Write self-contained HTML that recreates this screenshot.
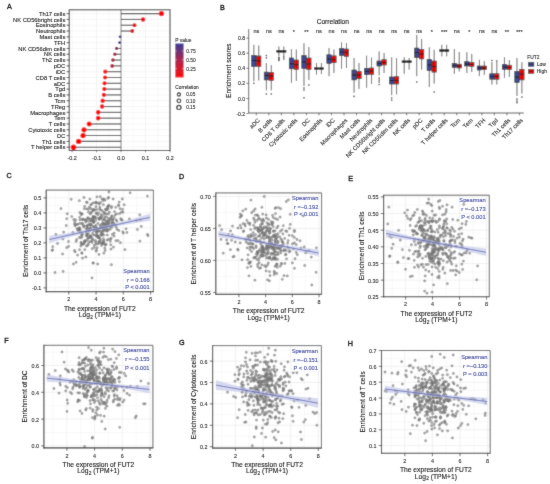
<!DOCTYPE html>
<html><head><meta charset="utf-8"><style>
html,body{margin:0;padding:0;background:#fff;}
svg{display:block;font-family:"Liberation Sans", sans-serif;}
</style></head><body>
<svg width="550" height="484" viewBox="0 0 550 484">
<defs><filter id="bt" filterUnits="userSpaceOnUse" x="0" y="0" width="550" height="484"><feConvolveMatrix order="3" kernelMatrix="0.01 0.05 0.01 0.05 0.76 0.05 0.01 0.05 0.01" edgeMode="none"/></filter><filter id="bl" filterUnits="userSpaceOnUse" x="0" y="0" width="550" height="484"><feConvolveMatrix order="3" kernelMatrix="0.025 0.085 0.025 0.085 0.56 0.085 0.025 0.085 0.025" edgeMode="none"/></filter></defs>
<g filter="url(#bl)">
<rect width="550" height="484" fill="#fff"/>
<rect x="69.20" y="9.80" width="100.80" height="140.70" fill="#ffffff" stroke="none" stroke-width="0.6" />
<line x1="72.00" y1="9.80" x2="72.00" y2="150.50" stroke="#e8e8e8" stroke-width="0.5" />
<line x1="84.25" y1="9.80" x2="84.25" y2="150.50" stroke="#f2f2f2" stroke-width="0.5" />
<line x1="96.50" y1="9.80" x2="96.50" y2="150.50" stroke="#e8e8e8" stroke-width="0.5" />
<line x1="108.75" y1="9.80" x2="108.75" y2="150.50" stroke="#f2f2f2" stroke-width="0.5" />
<line x1="133.25" y1="9.80" x2="133.25" y2="150.50" stroke="#f2f2f2" stroke-width="0.5" />
<line x1="145.50" y1="9.80" x2="145.50" y2="150.50" stroke="#e8e8e8" stroke-width="0.5" />
<line x1="157.75" y1="9.80" x2="157.75" y2="150.50" stroke="#f2f2f2" stroke-width="0.5" />
<line x1="69.20" y1="13.60" x2="170.00" y2="13.60" stroke="#ececec" stroke-width="0.5" />
<line x1="69.20" y1="19.41" x2="170.00" y2="19.41" stroke="#ececec" stroke-width="0.5" />
<line x1="69.20" y1="25.22" x2="170.00" y2="25.22" stroke="#ececec" stroke-width="0.5" />
<line x1="69.20" y1="31.03" x2="170.00" y2="31.03" stroke="#ececec" stroke-width="0.5" />
<line x1="69.20" y1="36.83" x2="170.00" y2="36.83" stroke="#ececec" stroke-width="0.5" />
<line x1="69.20" y1="42.64" x2="170.00" y2="42.64" stroke="#ececec" stroke-width="0.5" />
<line x1="69.20" y1="48.45" x2="170.00" y2="48.45" stroke="#ececec" stroke-width="0.5" />
<line x1="69.20" y1="54.26" x2="170.00" y2="54.26" stroke="#ececec" stroke-width="0.5" />
<line x1="69.20" y1="60.07" x2="170.00" y2="60.07" stroke="#ececec" stroke-width="0.5" />
<line x1="69.20" y1="65.88" x2="170.00" y2="65.88" stroke="#ececec" stroke-width="0.5" />
<line x1="69.20" y1="71.69" x2="170.00" y2="71.69" stroke="#ececec" stroke-width="0.5" />
<line x1="69.20" y1="77.50" x2="170.00" y2="77.50" stroke="#ececec" stroke-width="0.5" />
<line x1="69.20" y1="83.30" x2="170.00" y2="83.30" stroke="#ececec" stroke-width="0.5" />
<line x1="69.20" y1="89.11" x2="170.00" y2="89.11" stroke="#ececec" stroke-width="0.5" />
<line x1="69.20" y1="94.92" x2="170.00" y2="94.92" stroke="#ececec" stroke-width="0.5" />
<line x1="69.20" y1="100.73" x2="170.00" y2="100.73" stroke="#ececec" stroke-width="0.5" />
<line x1="69.20" y1="106.54" x2="170.00" y2="106.54" stroke="#ececec" stroke-width="0.5" />
<line x1="69.20" y1="112.35" x2="170.00" y2="112.35" stroke="#ececec" stroke-width="0.5" />
<line x1="69.20" y1="118.16" x2="170.00" y2="118.16" stroke="#ececec" stroke-width="0.5" />
<line x1="69.20" y1="123.97" x2="170.00" y2="123.97" stroke="#ececec" stroke-width="0.5" />
<line x1="69.20" y1="129.77" x2="170.00" y2="129.77" stroke="#ececec" stroke-width="0.5" />
<line x1="69.20" y1="135.58" x2="170.00" y2="135.58" stroke="#ececec" stroke-width="0.5" />
<line x1="69.20" y1="141.39" x2="170.00" y2="141.39" stroke="#ececec" stroke-width="0.5" />
<line x1="69.20" y1="147.20" x2="170.00" y2="147.20" stroke="#ececec" stroke-width="0.5" />
<line x1="121.00" y1="9.80" x2="121.00" y2="150.50" stroke="#777" stroke-width="0.9" />
<line x1="121.00" y1="13.60" x2="161.43" y2="13.60" stroke="#444" stroke-width="1.05" />
<line x1="121.00" y1="19.41" x2="143.05" y2="19.41" stroke="#444" stroke-width="1.05" />
<line x1="121.00" y1="25.22" x2="134.47" y2="25.22" stroke="#444" stroke-width="1.05" />
<line x1="121.00" y1="31.03" x2="132.27" y2="31.03" stroke="#444" stroke-width="1.05" />
<line x1="121.00" y1="36.83" x2="120.02" y2="36.83" stroke="#444" stroke-width="1.05" />
<line x1="121.00" y1="42.64" x2="119.53" y2="42.64" stroke="#444" stroke-width="1.05" />
<line x1="121.00" y1="48.45" x2="116.59" y2="48.45" stroke="#444" stroke-width="1.05" />
<line x1="121.00" y1="54.26" x2="114.88" y2="54.26" stroke="#444" stroke-width="1.05" />
<line x1="121.00" y1="60.07" x2="112.91" y2="60.07" stroke="#444" stroke-width="1.05" />
<line x1="121.00" y1="65.88" x2="112.18" y2="65.88" stroke="#444" stroke-width="1.05" />
<line x1="121.00" y1="71.69" x2="105.32" y2="71.69" stroke="#444" stroke-width="1.05" />
<line x1="121.00" y1="77.50" x2="105.08" y2="77.50" stroke="#444" stroke-width="1.05" />
<line x1="121.00" y1="83.30" x2="104.58" y2="83.30" stroke="#444" stroke-width="1.05" />
<line x1="121.00" y1="89.11" x2="104.34" y2="89.11" stroke="#444" stroke-width="1.05" />
<line x1="121.00" y1="94.92" x2="103.85" y2="94.92" stroke="#444" stroke-width="1.05" />
<line x1="121.00" y1="100.73" x2="102.62" y2="100.73" stroke="#444" stroke-width="1.05" />
<line x1="121.00" y1="106.54" x2="102.14" y2="106.54" stroke="#444" stroke-width="1.05" />
<line x1="121.00" y1="112.35" x2="98.22" y2="112.35" stroke="#444" stroke-width="1.05" />
<line x1="121.00" y1="118.16" x2="98.22" y2="118.16" stroke="#444" stroke-width="1.05" />
<line x1="121.00" y1="123.97" x2="89.15" y2="123.97" stroke="#444" stroke-width="1.05" />
<line x1="121.00" y1="129.77" x2="84.00" y2="129.77" stroke="#444" stroke-width="1.05" />
<line x1="121.00" y1="135.58" x2="83.03" y2="135.58" stroke="#444" stroke-width="1.05" />
<line x1="121.00" y1="141.39" x2="78.62" y2="141.39" stroke="#444" stroke-width="1.05" />
<line x1="121.00" y1="147.20" x2="73.47" y2="147.20" stroke="#444" stroke-width="1.05" />
<circle cx="161.43" cy="13.60" r="2.68" fill="#ff0505" stroke="none" stroke-width="0.4" />
<line x1="66.60" y1="13.60" x2="69.20" y2="13.60" stroke="#222" stroke-width="0.8" />
<circle cx="143.05" cy="19.41" r="2.27" fill="#fb0607" stroke="none" stroke-width="0.4" />
<line x1="66.60" y1="19.41" x2="69.20" y2="19.41" stroke="#222" stroke-width="0.8" />
<circle cx="134.47" cy="25.22" r="2.01" fill="#e70b15" stroke="none" stroke-width="0.4" />
<line x1="66.60" y1="25.22" x2="69.20" y2="25.22" stroke="#222" stroke-width="0.8" />
<circle cx="132.27" cy="31.03" r="1.94" fill="#df0d1b" stroke="none" stroke-width="0.4" />
<line x1="66.60" y1="31.03" x2="69.20" y2="31.03" stroke="#222" stroke-width="0.8" />
<circle cx="120.02" cy="36.83" r="1.35" fill="#3d358c" stroke="none" stroke-width="0.4" />
<line x1="66.60" y1="36.83" x2="69.20" y2="36.83" stroke="#222" stroke-width="0.8" />
<circle cx="119.53" cy="42.64" r="1.40" fill="#41348a" stroke="none" stroke-width="0.4" />
<line x1="66.60" y1="42.64" x2="69.20" y2="42.64" stroke="#222" stroke-width="0.8" />
<circle cx="116.59" cy="48.45" r="1.62" fill="#83245b" stroke="none" stroke-width="0.4" />
<line x1="66.60" y1="48.45" x2="69.20" y2="48.45" stroke="#222" stroke-width="0.8" />
<circle cx="114.88" cy="54.26" r="1.72" fill="#9b1e4b" stroke="none" stroke-width="0.4" />
<line x1="66.60" y1="54.26" x2="69.20" y2="54.26" stroke="#222" stroke-width="0.8" />
<circle cx="112.91" cy="60.07" r="1.81" fill="#ab1a3f" stroke="none" stroke-width="0.4" />
<line x1="66.60" y1="60.07" x2="69.20" y2="60.07" stroke="#222" stroke-width="0.8" />
<circle cx="112.18" cy="65.88" r="1.84" fill="#af193d" stroke="none" stroke-width="0.4" />
<line x1="66.60" y1="65.88" x2="69.20" y2="65.88" stroke="#222" stroke-width="0.8" />
<circle cx="105.32" cy="71.69" r="2.09" fill="#f5070c" stroke="none" stroke-width="0.4" />
<line x1="66.60" y1="71.69" x2="69.20" y2="71.69" stroke="#222" stroke-width="0.8" />
<circle cx="105.08" cy="77.50" r="2.09" fill="#f5070c" stroke="none" stroke-width="0.4" />
<line x1="66.60" y1="77.50" x2="69.20" y2="77.50" stroke="#222" stroke-width="0.8" />
<circle cx="104.58" cy="83.30" r="2.11" fill="#f5070c" stroke="none" stroke-width="0.4" />
<line x1="66.60" y1="83.30" x2="69.20" y2="83.30" stroke="#222" stroke-width="0.8" />
<circle cx="104.34" cy="89.11" r="2.12" fill="#f5070c" stroke="none" stroke-width="0.4" />
<line x1="66.60" y1="89.11" x2="69.20" y2="89.11" stroke="#222" stroke-width="0.8" />
<circle cx="103.85" cy="94.92" r="2.13" fill="#f7070a" stroke="none" stroke-width="0.4" />
<line x1="66.60" y1="94.92" x2="69.20" y2="94.92" stroke="#222" stroke-width="0.8" />
<circle cx="102.62" cy="100.73" r="2.17" fill="#f7070a" stroke="none" stroke-width="0.4" />
<line x1="66.60" y1="100.73" x2="69.20" y2="100.73" stroke="#222" stroke-width="0.8" />
<circle cx="102.14" cy="106.54" r="2.18" fill="#f7070a" stroke="none" stroke-width="0.4" />
<line x1="66.60" y1="106.54" x2="69.20" y2="106.54" stroke="#222" stroke-width="0.8" />
<circle cx="98.22" cy="112.35" r="2.29" fill="#fb0607" stroke="none" stroke-width="0.4" />
<line x1="66.60" y1="112.35" x2="69.20" y2="112.35" stroke="#222" stroke-width="0.8" />
<circle cx="98.22" cy="118.16" r="2.29" fill="#fb0607" stroke="none" stroke-width="0.4" />
<line x1="66.60" y1="118.16" x2="69.20" y2="118.16" stroke="#222" stroke-width="0.8" />
<circle cx="89.15" cy="123.97" r="2.51" fill="#ff0505" stroke="none" stroke-width="0.4" />
<line x1="66.60" y1="123.97" x2="69.20" y2="123.97" stroke="#222" stroke-width="0.8" />
<circle cx="84.00" cy="129.77" r="2.62" fill="#ff0505" stroke="none" stroke-width="0.4" />
<line x1="66.60" y1="129.77" x2="69.20" y2="129.77" stroke="#222" stroke-width="0.8" />
<circle cx="83.03" cy="135.58" r="2.64" fill="#ff0505" stroke="none" stroke-width="0.4" />
<line x1="66.60" y1="135.58" x2="69.20" y2="135.58" stroke="#222" stroke-width="0.8" />
<circle cx="78.62" cy="141.39" r="2.72" fill="#ff0505" stroke="none" stroke-width="0.4" />
<line x1="66.60" y1="141.39" x2="69.20" y2="141.39" stroke="#222" stroke-width="0.8" />
<circle cx="73.47" cy="147.20" r="2.82" fill="#ff0505" stroke="none" stroke-width="0.4" />
<line x1="66.60" y1="147.20" x2="69.20" y2="147.20" stroke="#222" stroke-width="0.8" />
<rect x="69.20" y="9.80" width="100.80" height="140.70" fill="none" stroke="#333" stroke-width="1.0" />
<line x1="72.00" y1="150.50" x2="72.00" y2="152.30" stroke="#333" stroke-width="0.6" />
<line x1="96.50" y1="150.50" x2="96.50" y2="152.30" stroke="#333" stroke-width="0.6" />
<line x1="121.00" y1="150.50" x2="121.00" y2="152.30" stroke="#333" stroke-width="0.6" />
<line x1="145.50" y1="150.50" x2="145.50" y2="152.30" stroke="#333" stroke-width="0.6" />
<line x1="170.00" y1="150.50" x2="170.00" y2="152.30" stroke="#333" stroke-width="0.6" />
<defs><linearGradient id="pg" x1="0" y1="1" x2="0" y2="0"><stop offset="0" stop-color="#ff0a0a"/><stop offset="0.5" stop-color="#b02550"/><stop offset="1" stop-color="#3a3c98"/></linearGradient></defs>
<rect x="175.30" y="43.50" width="8.30" height="34.00" fill="url(#pg)" stroke="none" stroke-width="0.6" />
<line x1="175.30" y1="51.03" x2="176.80" y2="51.03" stroke="#fff" stroke-width="0.5" />
<line x1="182.10" y1="51.03" x2="183.60" y2="51.03" stroke="#fff" stroke-width="0.5" />
<line x1="175.30" y1="59.85" x2="176.80" y2="59.85" stroke="#fff" stroke-width="0.5" />
<line x1="182.10" y1="59.85" x2="183.60" y2="59.85" stroke="#fff" stroke-width="0.5" />
<line x1="175.30" y1="68.67" x2="176.80" y2="68.67" stroke="#fff" stroke-width="0.5" />
<line x1="182.10" y1="68.67" x2="183.60" y2="68.67" stroke="#fff" stroke-width="0.5" />
<circle cx="178.90" cy="94.40" r="1.60" fill="none" stroke="#111" stroke-width="1.15" />
<circle cx="178.90" cy="100.80" r="1.85" fill="none" stroke="#111" stroke-width="1.15" />
<circle cx="178.90" cy="107.40" r="2.10" fill="none" stroke="#111" stroke-width="1.15" />
<line x1="248.70" y1="29.00" x2="248.70" y2="113.00" stroke="#333" stroke-width="0.8" />
<line x1="248.70" y1="113.00" x2="523.80" y2="113.00" stroke="#333" stroke-width="0.8" />
<line x1="246.40" y1="38.10" x2="248.70" y2="38.10" stroke="#333" stroke-width="0.7" />
<line x1="246.40" y1="53.20" x2="248.70" y2="53.20" stroke="#333" stroke-width="0.7" />
<line x1="246.40" y1="68.30" x2="248.70" y2="68.30" stroke="#333" stroke-width="0.7" />
<line x1="246.40" y1="83.40" x2="248.70" y2="83.40" stroke="#333" stroke-width="0.7" />
<line x1="246.40" y1="98.50" x2="248.70" y2="98.50" stroke="#333" stroke-width="0.7" />
<line x1="246.40" y1="113.60" x2="248.70" y2="113.60" stroke="#333" stroke-width="0.7" />
<line x1="253.85" y1="44.80" x2="253.85" y2="55.60" stroke="#4a4a4a" stroke-width="0.85" />
<line x1="253.85" y1="66.30" x2="253.85" y2="81.20" stroke="#4a4a4a" stroke-width="0.85" />
<rect x="251.65" y="55.60" width="4.40" height="10.70" fill="#3b4992" stroke="#222" stroke-width="0.6" />
<line x1="251.65" y1="60.50" x2="256.05" y2="60.50" stroke="#1a1a1a" stroke-width="0.9" />
<circle cx="253.85" cy="83.20" r="0.80" fill="#222" stroke="none" stroke-width="0.4" />
<line x1="258.75" y1="45.50" x2="258.75" y2="56.00" stroke="#4a4a4a" stroke-width="0.85" />
<line x1="258.75" y1="66.30" x2="258.75" y2="80.50" stroke="#4a4a4a" stroke-width="0.85" />
<rect x="256.55" y="56.00" width="4.40" height="10.30" fill="#ee0000" stroke="#222" stroke-width="0.6" />
<line x1="256.55" y1="60.80" x2="260.95" y2="60.80" stroke="#1a1a1a" stroke-width="0.9" />
<line x1="256.30" y1="113.00" x2="256.30" y2="115.30" stroke="#333" stroke-width="0.7" />
<line x1="266.38" y1="63.00" x2="266.38" y2="72.10" stroke="#4a4a4a" stroke-width="0.85" />
<line x1="266.38" y1="79.90" x2="266.38" y2="90.30" stroke="#4a4a4a" stroke-width="0.85" />
<rect x="264.18" y="72.10" width="4.40" height="7.80" fill="#3b4992" stroke="#222" stroke-width="0.6" />
<line x1="264.18" y1="75.40" x2="268.58" y2="75.40" stroke="#1a1a1a" stroke-width="0.9" />
<circle cx="266.38" cy="55.60" r="0.80" fill="#222" stroke="none" stroke-width="0.4" />
<circle cx="266.38" cy="58.00" r="0.80" fill="#222" stroke="none" stroke-width="0.4" />
<circle cx="266.38" cy="94.00" r="0.80" fill="#222" stroke="none" stroke-width="0.4" />
<line x1="271.28" y1="65.00" x2="271.28" y2="72.50" stroke="#4a4a4a" stroke-width="0.85" />
<line x1="271.28" y1="80.30" x2="271.28" y2="90.30" stroke="#4a4a4a" stroke-width="0.85" />
<rect x="269.08" y="72.50" width="4.40" height="7.80" fill="#ee0000" stroke="#222" stroke-width="0.6" />
<line x1="269.08" y1="76.00" x2="273.48" y2="76.00" stroke="#1a1a1a" stroke-width="0.9" />
<circle cx="271.28" cy="94.00" r="0.80" fill="#222" stroke="none" stroke-width="0.4" />
<line x1="268.83" y1="113.00" x2="268.83" y2="115.30" stroke="#333" stroke-width="0.7" />
<line x1="278.91" y1="46.50" x2="278.91" y2="50.40" stroke="#4a4a4a" stroke-width="0.85" />
<line x1="278.91" y1="52.20" x2="278.91" y2="56.40" stroke="#4a4a4a" stroke-width="0.85" />
<rect x="276.71" y="50.40" width="4.40" height="1.80" fill="#222" stroke="#222" stroke-width="0.6" />
<line x1="276.71" y1="51.30" x2="281.11" y2="51.30" stroke="#1a1a1a" stroke-width="0.9" />
<circle cx="278.91" cy="57.50" r="0.80" fill="#222" stroke="none" stroke-width="0.4" />
<circle cx="278.91" cy="58.50" r="0.80" fill="#222" stroke="none" stroke-width="0.4" />
<circle cx="278.91" cy="59.50" r="0.80" fill="#222" stroke="none" stroke-width="0.4" />
<circle cx="278.91" cy="60.50" r="0.80" fill="#222" stroke="none" stroke-width="0.4" />
<line x1="283.81" y1="46.50" x2="283.81" y2="50.40" stroke="#4a4a4a" stroke-width="0.85" />
<line x1="283.81" y1="52.20" x2="283.81" y2="56.40" stroke="#4a4a4a" stroke-width="0.85" />
<rect x="281.61" y="50.40" width="4.40" height="1.80" fill="#222" stroke="#222" stroke-width="0.6" />
<line x1="281.61" y1="51.30" x2="286.01" y2="51.30" stroke="#1a1a1a" stroke-width="0.9" />
<circle cx="283.81" cy="57.00" r="0.80" fill="#222" stroke="none" stroke-width="0.4" />
<circle cx="283.81" cy="59.00" r="0.80" fill="#222" stroke="none" stroke-width="0.4" />
<line x1="281.36" y1="113.00" x2="281.36" y2="115.30" stroke="#333" stroke-width="0.7" />
<line x1="291.44" y1="49.00" x2="291.44" y2="58.00" stroke="#4a4a4a" stroke-width="0.85" />
<line x1="291.44" y1="68.80" x2="291.44" y2="82.90" stroke="#4a4a4a" stroke-width="0.85" />
<rect x="289.24" y="58.00" width="4.40" height="10.80" fill="#3b4992" stroke="#222" stroke-width="0.6" />
<line x1="289.24" y1="63.80" x2="293.64" y2="63.80" stroke="#1a1a1a" stroke-width="0.9" />
<line x1="296.34" y1="49.50" x2="296.34" y2="60.00" stroke="#4a4a4a" stroke-width="0.85" />
<line x1="296.34" y1="69.30" x2="296.34" y2="81.00" stroke="#4a4a4a" stroke-width="0.85" />
<rect x="294.14" y="60.00" width="4.40" height="9.30" fill="#ee0000" stroke="#222" stroke-width="0.6" />
<line x1="294.14" y1="64.70" x2="298.54" y2="64.70" stroke="#1a1a1a" stroke-width="0.9" />
<line x1="293.89" y1="113.00" x2="293.89" y2="115.30" stroke="#333" stroke-width="0.7" />
<line x1="303.97" y1="43.20" x2="303.97" y2="55.60" stroke="#4a4a4a" stroke-width="0.85" />
<line x1="303.97" y1="68.30" x2="303.97" y2="86.00" stroke="#4a4a4a" stroke-width="0.85" />
<rect x="301.77" y="55.60" width="4.40" height="12.70" fill="#3b4992" stroke="#222" stroke-width="0.6" />
<line x1="301.77" y1="62.00" x2="306.17" y2="62.00" stroke="#1a1a1a" stroke-width="0.9" />
<circle cx="303.97" cy="88.00" r="0.80" fill="#222" stroke="none" stroke-width="0.4" />
<circle cx="303.97" cy="90.00" r="0.80" fill="#222" stroke="none" stroke-width="0.4" />
<circle cx="303.97" cy="97.70" r="0.80" fill="#222" stroke="none" stroke-width="0.4" />
<line x1="308.87" y1="47.00" x2="308.87" y2="58.00" stroke="#4a4a4a" stroke-width="0.85" />
<line x1="308.87" y1="69.30" x2="308.87" y2="80.00" stroke="#4a4a4a" stroke-width="0.85" />
<rect x="306.67" y="58.00" width="4.40" height="11.30" fill="#ee0000" stroke="#222" stroke-width="0.6" />
<line x1="306.67" y1="64.00" x2="311.07" y2="64.00" stroke="#1a1a1a" stroke-width="0.9" />
<circle cx="308.87" cy="85.00" r="0.80" fill="#222" stroke="none" stroke-width="0.4" />
<line x1="306.42" y1="113.00" x2="306.42" y2="115.30" stroke="#333" stroke-width="0.7" />
<line x1="316.50" y1="63.00" x2="316.50" y2="67.70" stroke="#4a4a4a" stroke-width="0.85" />
<line x1="316.50" y1="69.30" x2="316.50" y2="74.60" stroke="#4a4a4a" stroke-width="0.85" />
<rect x="314.30" y="67.70" width="4.40" height="1.60" fill="#222" stroke="#222" stroke-width="0.6" />
<line x1="314.30" y1="68.50" x2="318.70" y2="68.50" stroke="#1a1a1a" stroke-width="0.9" />
<line x1="321.40" y1="63.00" x2="321.40" y2="67.70" stroke="#4a4a4a" stroke-width="0.85" />
<line x1="321.40" y1="69.30" x2="321.40" y2="74.00" stroke="#4a4a4a" stroke-width="0.85" />
<rect x="319.20" y="67.70" width="4.40" height="1.60" fill="#222" stroke="#222" stroke-width="0.6" />
<line x1="319.20" y1="68.50" x2="323.60" y2="68.50" stroke="#1a1a1a" stroke-width="0.9" />
<line x1="318.95" y1="113.00" x2="318.95" y2="115.30" stroke="#333" stroke-width="0.7" />
<line x1="329.03" y1="48.00" x2="329.03" y2="54.80" stroke="#4a4a4a" stroke-width="0.85" />
<line x1="329.03" y1="63.30" x2="329.03" y2="76.20" stroke="#4a4a4a" stroke-width="0.85" />
<rect x="326.83" y="54.80" width="4.40" height="8.50" fill="#3b4992" stroke="#222" stroke-width="0.6" />
<line x1="326.83" y1="59.00" x2="331.23" y2="59.00" stroke="#1a1a1a" stroke-width="0.9" />
<line x1="333.93" y1="49.50" x2="333.93" y2="55.90" stroke="#4a4a4a" stroke-width="0.85" />
<line x1="333.93" y1="62.70" x2="333.93" y2="73.00" stroke="#4a4a4a" stroke-width="0.85" />
<rect x="331.73" y="55.90" width="4.40" height="6.80" fill="#ee0000" stroke="#222" stroke-width="0.6" />
<line x1="331.73" y1="59.50" x2="336.13" y2="59.50" stroke="#1a1a1a" stroke-width="0.9" />
<line x1="331.48" y1="113.00" x2="331.48" y2="115.30" stroke="#333" stroke-width="0.7" />
<line x1="341.56" y1="42.40" x2="341.56" y2="48.60" stroke="#4a4a4a" stroke-width="0.85" />
<line x1="341.56" y1="55.60" x2="341.56" y2="68.80" stroke="#4a4a4a" stroke-width="0.85" />
<rect x="339.36" y="48.60" width="4.40" height="7.00" fill="#3b4992" stroke="#222" stroke-width="0.6" />
<line x1="339.36" y1="52.00" x2="343.76" y2="52.00" stroke="#1a1a1a" stroke-width="0.9" />
<line x1="346.46" y1="43.00" x2="346.46" y2="49.00" stroke="#4a4a4a" stroke-width="0.85" />
<line x1="346.46" y1="56.40" x2="346.46" y2="68.00" stroke="#4a4a4a" stroke-width="0.85" />
<rect x="344.26" y="49.00" width="4.40" height="7.40" fill="#ee0000" stroke="#222" stroke-width="0.6" />
<line x1="344.26" y1="52.50" x2="348.66" y2="52.50" stroke="#1a1a1a" stroke-width="0.9" />
<line x1="344.01" y1="113.00" x2="344.01" y2="115.30" stroke="#333" stroke-width="0.7" />
<line x1="354.09" y1="58.00" x2="354.09" y2="70.00" stroke="#4a4a4a" stroke-width="0.85" />
<line x1="354.09" y1="79.90" x2="354.09" y2="92.80" stroke="#4a4a4a" stroke-width="0.85" />
<rect x="351.89" y="70.00" width="4.40" height="9.90" fill="#3b4992" stroke="#222" stroke-width="0.6" />
<line x1="351.89" y1="75.00" x2="356.29" y2="75.00" stroke="#1a1a1a" stroke-width="0.9" />
<circle cx="354.09" cy="96.40" r="0.80" fill="#222" stroke="none" stroke-width="0.4" />
<line x1="358.99" y1="63.00" x2="358.99" y2="71.60" stroke="#4a4a4a" stroke-width="0.85" />
<line x1="358.99" y1="78.70" x2="358.99" y2="89.00" stroke="#4a4a4a" stroke-width="0.85" />
<rect x="356.79" y="71.60" width="4.40" height="7.10" fill="#ee0000" stroke="#222" stroke-width="0.6" />
<line x1="356.79" y1="75.00" x2="361.19" y2="75.00" stroke="#1a1a1a" stroke-width="0.9" />
<line x1="356.54" y1="113.00" x2="356.54" y2="115.30" stroke="#333" stroke-width="0.7" />
<line x1="366.62" y1="55.60" x2="366.62" y2="68.30" stroke="#4a4a4a" stroke-width="0.85" />
<line x1="366.62" y1="74.60" x2="366.62" y2="87.80" stroke="#4a4a4a" stroke-width="0.85" />
<rect x="364.42" y="68.30" width="4.40" height="6.30" fill="#3b4992" stroke="#222" stroke-width="0.6" />
<line x1="364.42" y1="71.50" x2="368.82" y2="71.50" stroke="#1a1a1a" stroke-width="0.9" />
<line x1="371.52" y1="57.50" x2="371.52" y2="68.00" stroke="#4a4a4a" stroke-width="0.85" />
<line x1="371.52" y1="74.30" x2="371.52" y2="84.00" stroke="#4a4a4a" stroke-width="0.85" />
<rect x="369.32" y="68.00" width="4.40" height="6.30" fill="#ee0000" stroke="#222" stroke-width="0.6" />
<line x1="369.32" y1="71.00" x2="373.72" y2="71.00" stroke="#1a1a1a" stroke-width="0.9" />
<line x1="369.07" y1="113.00" x2="369.07" y2="115.30" stroke="#333" stroke-width="0.7" />
<line x1="379.15" y1="51.40" x2="379.15" y2="61.00" stroke="#4a4a4a" stroke-width="0.85" />
<line x1="379.15" y1="66.00" x2="379.15" y2="75.40" stroke="#4a4a4a" stroke-width="0.85" />
<rect x="376.95" y="61.00" width="4.40" height="5.00" fill="#3b4992" stroke="#222" stroke-width="0.6" />
<line x1="376.95" y1="63.50" x2="381.35" y2="63.50" stroke="#1a1a1a" stroke-width="0.9" />
<circle cx="379.15" cy="78.00" r="0.80" fill="#222" stroke="none" stroke-width="0.4" />
<circle cx="379.15" cy="80.00" r="0.80" fill="#222" stroke="none" stroke-width="0.4" />
<circle cx="379.15" cy="82.00" r="0.80" fill="#222" stroke="none" stroke-width="0.4" />
<circle cx="379.15" cy="84.50" r="0.80" fill="#222" stroke="none" stroke-width="0.4" />
<line x1="384.05" y1="53.00" x2="384.05" y2="59.70" stroke="#4a4a4a" stroke-width="0.85" />
<line x1="384.05" y1="65.00" x2="384.05" y2="73.00" stroke="#4a4a4a" stroke-width="0.85" />
<rect x="381.85" y="59.70" width="4.40" height="5.30" fill="#ee0000" stroke="#222" stroke-width="0.6" />
<line x1="381.85" y1="62.50" x2="386.25" y2="62.50" stroke="#1a1a1a" stroke-width="0.9" />
<line x1="381.60" y1="113.00" x2="381.60" y2="115.30" stroke="#333" stroke-width="0.7" />
<line x1="391.68" y1="57.20" x2="391.68" y2="77.00" stroke="#4a4a4a" stroke-width="0.85" />
<line x1="391.68" y1="84.00" x2="391.68" y2="95.20" stroke="#4a4a4a" stroke-width="0.85" />
<rect x="389.48" y="77.00" width="4.40" height="7.00" fill="#3b4992" stroke="#222" stroke-width="0.6" />
<line x1="389.48" y1="80.50" x2="393.88" y2="80.50" stroke="#1a1a1a" stroke-width="0.9" />
<circle cx="391.68" cy="98.00" r="0.80" fill="#222" stroke="none" stroke-width="0.4" />
<circle cx="391.68" cy="100.20" r="0.80" fill="#222" stroke="none" stroke-width="0.4" />
<line x1="396.58" y1="58.00" x2="396.58" y2="76.70" stroke="#4a4a4a" stroke-width="0.85" />
<line x1="396.58" y1="84.00" x2="396.58" y2="94.50" stroke="#4a4a4a" stroke-width="0.85" />
<rect x="394.38" y="76.70" width="4.40" height="7.30" fill="#ee0000" stroke="#222" stroke-width="0.6" />
<line x1="394.38" y1="80.50" x2="398.78" y2="80.50" stroke="#1a1a1a" stroke-width="0.9" />
<line x1="394.13" y1="113.00" x2="394.13" y2="115.30" stroke="#333" stroke-width="0.7" />
<line x1="404.21" y1="57.20" x2="404.21" y2="60.80" stroke="#4a4a4a" stroke-width="0.85" />
<line x1="404.21" y1="62.60" x2="404.21" y2="73.80" stroke="#4a4a4a" stroke-width="0.85" />
<rect x="402.01" y="60.80" width="4.40" height="1.80" fill="#222" stroke="#222" stroke-width="0.6" />
<line x1="402.01" y1="61.70" x2="406.41" y2="61.70" stroke="#1a1a1a" stroke-width="0.9" />
<line x1="409.11" y1="58.00" x2="409.11" y2="60.80" stroke="#4a4a4a" stroke-width="0.85" />
<line x1="409.11" y1="62.60" x2="409.11" y2="69.60" stroke="#4a4a4a" stroke-width="0.85" />
<rect x="406.91" y="60.80" width="4.40" height="1.80" fill="#222" stroke="#222" stroke-width="0.6" />
<line x1="406.91" y1="61.70" x2="411.31" y2="61.70" stroke="#1a1a1a" stroke-width="0.9" />
<line x1="406.66" y1="113.00" x2="406.66" y2="115.30" stroke="#333" stroke-width="0.7" />
<line x1="416.74" y1="34.90" x2="416.74" y2="48.10" stroke="#4a4a4a" stroke-width="0.85" />
<line x1="416.74" y1="57.70" x2="416.74" y2="76.20" stroke="#4a4a4a" stroke-width="0.85" />
<rect x="414.54" y="48.10" width="4.40" height="9.60" fill="#3b4992" stroke="#222" stroke-width="0.6" />
<line x1="414.54" y1="52.50" x2="418.94" y2="52.50" stroke="#1a1a1a" stroke-width="0.9" />
<circle cx="416.74" cy="82.00" r="0.80" fill="#222" stroke="none" stroke-width="0.4" />
<line x1="421.64" y1="39.00" x2="421.64" y2="49.50" stroke="#4a4a4a" stroke-width="0.85" />
<line x1="421.64" y1="58.90" x2="421.64" y2="69.60" stroke="#4a4a4a" stroke-width="0.85" />
<rect x="419.44" y="49.50" width="4.40" height="9.40" fill="#ee0000" stroke="#222" stroke-width="0.6" />
<line x1="419.44" y1="54.00" x2="423.84" y2="54.00" stroke="#1a1a1a" stroke-width="0.9" />
<line x1="419.19" y1="113.00" x2="419.19" y2="115.30" stroke="#333" stroke-width="0.7" />
<line x1="429.27" y1="47.30" x2="429.27" y2="59.40" stroke="#4a4a4a" stroke-width="0.85" />
<line x1="429.27" y1="70.50" x2="429.27" y2="87.00" stroke="#4a4a4a" stroke-width="0.85" />
<rect x="427.07" y="59.40" width="4.40" height="11.10" fill="#3b4992" stroke="#222" stroke-width="0.6" />
<line x1="427.07" y1="65.00" x2="431.47" y2="65.00" stroke="#1a1a1a" stroke-width="0.9" />
<line x1="434.17" y1="49.80" x2="434.17" y2="61.00" stroke="#4a4a4a" stroke-width="0.85" />
<line x1="434.17" y1="72.10" x2="434.17" y2="83.70" stroke="#4a4a4a" stroke-width="0.85" />
<rect x="431.97" y="61.00" width="4.40" height="11.10" fill="#ee0000" stroke="#222" stroke-width="0.6" />
<line x1="431.97" y1="66.50" x2="436.37" y2="66.50" stroke="#1a1a1a" stroke-width="0.9" />
<circle cx="434.17" cy="92.00" r="0.80" fill="#222" stroke="none" stroke-width="0.4" />
<line x1="431.72" y1="113.00" x2="431.72" y2="115.30" stroke="#333" stroke-width="0.7" />
<line x1="441.80" y1="44.80" x2="441.80" y2="49.70" stroke="#4a4a4a" stroke-width="0.85" />
<line x1="441.80" y1="51.50" x2="441.80" y2="56.40" stroke="#4a4a4a" stroke-width="0.85" />
<rect x="439.60" y="49.70" width="4.40" height="1.80" fill="#222" stroke="#222" stroke-width="0.6" />
<line x1="439.60" y1="50.60" x2="444.00" y2="50.60" stroke="#1a1a1a" stroke-width="0.9" />
<line x1="446.70" y1="44.80" x2="446.70" y2="49.70" stroke="#4a4a4a" stroke-width="0.85" />
<line x1="446.70" y1="51.50" x2="446.70" y2="56.40" stroke="#4a4a4a" stroke-width="0.85" />
<rect x="444.50" y="49.70" width="4.40" height="1.80" fill="#222" stroke="#222" stroke-width="0.6" />
<line x1="444.50" y1="50.60" x2="448.90" y2="50.60" stroke="#1a1a1a" stroke-width="0.9" />
<line x1="444.25" y1="113.00" x2="444.25" y2="115.30" stroke="#333" stroke-width="0.7" />
<line x1="454.33" y1="49.00" x2="454.33" y2="63.30" stroke="#4a4a4a" stroke-width="0.85" />
<line x1="454.33" y1="67.60" x2="454.33" y2="73.80" stroke="#4a4a4a" stroke-width="0.85" />
<rect x="452.13" y="63.30" width="4.40" height="4.30" fill="#3b4992" stroke="#222" stroke-width="0.6" />
<line x1="452.13" y1="65.50" x2="456.53" y2="65.50" stroke="#1a1a1a" stroke-width="0.9" />
<line x1="459.23" y1="52.00" x2="459.23" y2="64.20" stroke="#4a4a4a" stroke-width="0.85" />
<line x1="459.23" y1="68.00" x2="459.23" y2="71.50" stroke="#4a4a4a" stroke-width="0.85" />
<rect x="457.03" y="64.20" width="4.40" height="3.80" fill="#ee0000" stroke="#222" stroke-width="0.6" />
<line x1="457.03" y1="66.00" x2="461.43" y2="66.00" stroke="#1a1a1a" stroke-width="0.9" />
<line x1="456.78" y1="113.00" x2="456.78" y2="115.30" stroke="#333" stroke-width="0.7" />
<line x1="466.86" y1="52.30" x2="466.86" y2="61.70" stroke="#4a4a4a" stroke-width="0.85" />
<line x1="466.86" y1="66.00" x2="466.86" y2="73.00" stroke="#4a4a4a" stroke-width="0.85" />
<rect x="464.66" y="61.70" width="4.40" height="4.30" fill="#3b4992" stroke="#222" stroke-width="0.6" />
<line x1="464.66" y1="64.00" x2="469.06" y2="64.00" stroke="#1a1a1a" stroke-width="0.9" />
<line x1="471.76" y1="54.00" x2="471.76" y2="62.50" stroke="#4a4a4a" stroke-width="0.85" />
<line x1="471.76" y1="66.30" x2="471.76" y2="72.00" stroke="#4a4a4a" stroke-width="0.85" />
<rect x="469.56" y="62.50" width="4.40" height="3.80" fill="#ee0000" stroke="#222" stroke-width="0.6" />
<line x1="469.56" y1="64.50" x2="473.96" y2="64.50" stroke="#1a1a1a" stroke-width="0.9" />
<line x1="469.31" y1="113.00" x2="469.31" y2="115.30" stroke="#333" stroke-width="0.7" />
<line x1="479.39" y1="59.70" x2="479.39" y2="66.00" stroke="#4a4a4a" stroke-width="0.85" />
<line x1="479.39" y1="70.00" x2="479.39" y2="76.20" stroke="#4a4a4a" stroke-width="0.85" />
<rect x="477.19" y="66.00" width="4.40" height="4.00" fill="#3b4992" stroke="#222" stroke-width="0.6" />
<line x1="477.19" y1="68.00" x2="481.59" y2="68.00" stroke="#1a1a1a" stroke-width="0.9" />
<line x1="484.29" y1="61.00" x2="484.29" y2="66.00" stroke="#4a4a4a" stroke-width="0.85" />
<line x1="484.29" y1="69.60" x2="484.29" y2="75.00" stroke="#4a4a4a" stroke-width="0.85" />
<rect x="482.09" y="66.00" width="4.40" height="3.60" fill="#ee0000" stroke="#222" stroke-width="0.6" />
<line x1="482.09" y1="68.00" x2="486.49" y2="68.00" stroke="#1a1a1a" stroke-width="0.9" />
<line x1="481.84" y1="113.00" x2="481.84" y2="115.30" stroke="#333" stroke-width="0.7" />
<line x1="491.92" y1="62.00" x2="491.92" y2="73.80" stroke="#4a4a4a" stroke-width="0.85" />
<line x1="491.92" y1="79.20" x2="491.92" y2="84.50" stroke="#4a4a4a" stroke-width="0.85" />
<rect x="489.72" y="73.80" width="4.40" height="5.40" fill="#3b4992" stroke="#222" stroke-width="0.6" />
<line x1="489.72" y1="76.50" x2="494.12" y2="76.50" stroke="#1a1a1a" stroke-width="0.9" />
<circle cx="491.92" cy="60.50" r="0.80" fill="#222" stroke="none" stroke-width="0.4" />
<line x1="496.82" y1="62.00" x2="496.82" y2="73.80" stroke="#4a4a4a" stroke-width="0.85" />
<line x1="496.82" y1="79.20" x2="496.82" y2="84.50" stroke="#4a4a4a" stroke-width="0.85" />
<rect x="494.62" y="73.80" width="4.40" height="5.40" fill="#ee0000" stroke="#222" stroke-width="0.6" />
<line x1="494.62" y1="76.50" x2="499.02" y2="76.50" stroke="#1a1a1a" stroke-width="0.9" />
<circle cx="496.82" cy="61.00" r="0.80" fill="#222" stroke="none" stroke-width="0.4" />
<line x1="494.37" y1="113.00" x2="494.37" y2="115.30" stroke="#333" stroke-width="0.7" />
<line x1="504.45" y1="57.20" x2="504.45" y2="64.30" stroke="#4a4a4a" stroke-width="0.85" />
<line x1="504.45" y1="69.30" x2="504.45" y2="77.90" stroke="#4a4a4a" stroke-width="0.85" />
<rect x="502.25" y="64.30" width="4.40" height="5.00" fill="#3b4992" stroke="#222" stroke-width="0.6" />
<line x1="502.25" y1="67.00" x2="506.65" y2="67.00" stroke="#1a1a1a" stroke-width="0.9" />
<line x1="509.35" y1="60.00" x2="509.35" y2="65.20" stroke="#4a4a4a" stroke-width="0.85" />
<line x1="509.35" y1="69.60" x2="509.35" y2="77.00" stroke="#4a4a4a" stroke-width="0.85" />
<rect x="507.15" y="65.20" width="4.40" height="4.40" fill="#ee0000" stroke="#222" stroke-width="0.6" />
<line x1="507.15" y1="67.50" x2="511.55" y2="67.50" stroke="#1a1a1a" stroke-width="0.9" />
<line x1="506.90" y1="113.00" x2="506.90" y2="115.30" stroke="#333" stroke-width="0.7" />
<line x1="516.98" y1="58.00" x2="516.98" y2="71.30" stroke="#4a4a4a" stroke-width="0.85" />
<line x1="516.98" y1="82.50" x2="516.98" y2="96.00" stroke="#4a4a4a" stroke-width="0.85" />
<rect x="514.78" y="71.30" width="4.40" height="11.20" fill="#3b4992" stroke="#222" stroke-width="0.6" />
<line x1="514.78" y1="77.00" x2="519.18" y2="77.00" stroke="#1a1a1a" stroke-width="0.9" />
<circle cx="516.98" cy="99.00" r="0.80" fill="#222" stroke="none" stroke-width="0.4" />
<circle cx="516.98" cy="101.00" r="0.80" fill="#222" stroke="none" stroke-width="0.4" />
<circle cx="516.98" cy="102.70" r="0.80" fill="#222" stroke="none" stroke-width="0.4" />
<line x1="521.88" y1="62.20" x2="521.88" y2="69.30" stroke="#4a4a4a" stroke-width="0.85" />
<line x1="521.88" y1="79.90" x2="521.88" y2="93.60" stroke="#4a4a4a" stroke-width="0.85" />
<rect x="519.68" y="69.30" width="4.40" height="10.60" fill="#ee0000" stroke="#222" stroke-width="0.6" />
<line x1="519.68" y1="74.10" x2="524.08" y2="74.10" stroke="#1a1a1a" stroke-width="0.9" />
<circle cx="521.88" cy="97.00" r="0.80" fill="#222" stroke="none" stroke-width="0.4" />
<line x1="519.43" y1="113.00" x2="519.43" y2="115.30" stroke="#333" stroke-width="0.7" />
<rect x="528.30" y="62.20" width="5.60" height="4.20" fill="#3b4992" stroke="#222" stroke-width="0.5" />
<line x1="528.30" y1="64.30" x2="533.90" y2="64.30" stroke="#222" stroke-width="0.5" />
<rect x="528.30" y="69.30" width="5.60" height="4.20" fill="#ee0000" stroke="#222" stroke-width="0.5" />
<line x1="528.30" y1="71.40" x2="533.90" y2="71.40" stroke="#222" stroke-width="0.5" />
<rect x="46.20" y="190.10" width="107.20" height="101.50" fill="#ffffff" stroke="none" stroke-width="0.6" />
<line x1="55.17" y1="190.10" x2="55.17" y2="291.60" stroke="#f2f2f2" stroke-width="0.55" />
<line x1="68.80" y1="190.10" x2="68.80" y2="291.60" stroke="#e6e6e6" stroke-width="0.55" />
<line x1="82.43" y1="190.10" x2="82.43" y2="291.60" stroke="#f2f2f2" stroke-width="0.55" />
<line x1="96.06" y1="190.10" x2="96.06" y2="291.60" stroke="#e6e6e6" stroke-width="0.55" />
<line x1="109.69" y1="190.10" x2="109.69" y2="291.60" stroke="#f2f2f2" stroke-width="0.55" />
<line x1="123.32" y1="190.10" x2="123.32" y2="291.60" stroke="#e6e6e6" stroke-width="0.55" />
<line x1="136.95" y1="190.10" x2="136.95" y2="291.60" stroke="#f2f2f2" stroke-width="0.55" />
<line x1="150.58" y1="190.10" x2="150.58" y2="291.60" stroke="#e6e6e6" stroke-width="0.55" />
<line x1="46.20" y1="287.90" x2="153.40" y2="287.90" stroke="#e6e6e6" stroke-width="0.55" />
<line x1="46.20" y1="280.40" x2="153.40" y2="280.40" stroke="#f2f2f2" stroke-width="0.55" />
<line x1="46.20" y1="272.90" x2="153.40" y2="272.90" stroke="#e6e6e6" stroke-width="0.55" />
<line x1="46.20" y1="265.40" x2="153.40" y2="265.40" stroke="#f2f2f2" stroke-width="0.55" />
<line x1="46.20" y1="257.90" x2="153.40" y2="257.90" stroke="#e6e6e6" stroke-width="0.55" />
<line x1="46.20" y1="250.40" x2="153.40" y2="250.40" stroke="#f2f2f2" stroke-width="0.55" />
<line x1="46.20" y1="242.90" x2="153.40" y2="242.90" stroke="#e6e6e6" stroke-width="0.55" />
<line x1="46.20" y1="235.40" x2="153.40" y2="235.40" stroke="#f2f2f2" stroke-width="0.55" />
<line x1="46.20" y1="227.90" x2="153.40" y2="227.90" stroke="#e6e6e6" stroke-width="0.55" />
<line x1="46.20" y1="220.40" x2="153.40" y2="220.40" stroke="#f2f2f2" stroke-width="0.55" />
<line x1="46.20" y1="212.90" x2="153.40" y2="212.90" stroke="#e6e6e6" stroke-width="0.55" />
<line x1="46.20" y1="205.40" x2="153.40" y2="205.40" stroke="#f2f2f2" stroke-width="0.55" />
<line x1="46.20" y1="197.90" x2="153.40" y2="197.90" stroke="#e6e6e6" stroke-width="0.55" />
<line x1="46.20" y1="190.40" x2="153.40" y2="190.40" stroke="#f2f2f2" stroke-width="0.55" />
<g fill="#8e8e8e" fill-opacity="0.7" stroke="#555" stroke-opacity="0.8" stroke-width="0.4">
<circle cx="81.6" cy="235.0" r="1.15"/>
<circle cx="80.2" cy="229.3" r="1.15"/>
<circle cx="79.4" cy="200.7" r="1.15"/>
<circle cx="147.4" cy="196.1" r="1.15"/>
<circle cx="87.3" cy="202.5" r="1.15"/>
<circle cx="93.0" cy="226.5" r="1.15"/>
<circle cx="111.6" cy="226.1" r="1.15"/>
<circle cx="79.0" cy="228.1" r="1.15"/>
<circle cx="87.3" cy="231.5" r="1.15"/>
<circle cx="108.3" cy="206.1" r="1.15"/>
<circle cx="96.2" cy="231.7" r="1.15"/>
<circle cx="104.7" cy="213.8" r="1.15"/>
<circle cx="106.3" cy="224.5" r="1.15"/>
<circle cx="112.1" cy="221.5" r="1.15"/>
<circle cx="96.7" cy="232.3" r="1.15"/>
<circle cx="97.8" cy="214.8" r="1.15"/>
<circle cx="118.9" cy="230.5" r="1.15"/>
<circle cx="89.5" cy="231.0" r="1.15"/>
<circle cx="93.4" cy="222.0" r="1.15"/>
<circle cx="93.2" cy="263.0" r="1.15"/>
<circle cx="104.1" cy="218.8" r="1.15"/>
<circle cx="93.7" cy="222.4" r="1.15"/>
<circle cx="96.3" cy="249.9" r="1.15"/>
<circle cx="102.5" cy="227.9" r="1.15"/>
<circle cx="87.4" cy="220.9" r="1.15"/>
<circle cx="80.6" cy="231.9" r="1.15"/>
<circle cx="113.5" cy="247.2" r="1.15"/>
<circle cx="105.3" cy="245.2" r="1.15"/>
<circle cx="122.9" cy="212.2" r="1.15"/>
<circle cx="100.3" cy="228.1" r="1.15"/>
<circle cx="94.6" cy="217.0" r="1.15"/>
<circle cx="95.3" cy="240.6" r="1.15"/>
<circle cx="99.7" cy="243.0" r="1.15"/>
<circle cx="92.0" cy="277.9" r="1.15"/>
<circle cx="66.7" cy="247.7" r="1.15"/>
<circle cx="91.2" cy="224.6" r="1.15"/>
<circle cx="116.2" cy="219.8" r="1.15"/>
<circle cx="140.2" cy="219.8" r="1.15"/>
<circle cx="100.0" cy="225.2" r="1.15"/>
<circle cx="96.0" cy="206.7" r="1.15"/>
<circle cx="77.1" cy="224.6" r="1.15"/>
<circle cx="90.8" cy="204.9" r="1.15"/>
<circle cx="86.4" cy="202.2" r="1.15"/>
<circle cx="103.9" cy="198.9" r="1.15"/>
<circle cx="84.8" cy="249.6" r="1.15"/>
<circle cx="71.2" cy="199.3" r="1.15"/>
<circle cx="81.3" cy="244.1" r="1.15"/>
<circle cx="100.3" cy="217.6" r="1.15"/>
<circle cx="85.5" cy="219.8" r="1.15"/>
<circle cx="79.5" cy="230.6" r="1.15"/>
<circle cx="108.4" cy="224.8" r="1.15"/>
<circle cx="111.0" cy="249.1" r="1.15"/>
<circle cx="106.4" cy="216.9" r="1.15"/>
<circle cx="76.1" cy="241.4" r="1.15"/>
<circle cx="84.6" cy="241.1" r="1.15"/>
<circle cx="72.8" cy="232.4" r="1.15"/>
<circle cx="107.3" cy="220.9" r="1.15"/>
<circle cx="96.0" cy="236.0" r="1.15"/>
<circle cx="86.2" cy="229.3" r="1.15"/>
<circle cx="136.5" cy="220.5" r="1.15"/>
<circle cx="93.1" cy="210.4" r="1.15"/>
<circle cx="104.4" cy="226.3" r="1.15"/>
<circle cx="102.0" cy="210.6" r="1.15"/>
<circle cx="87.7" cy="217.9" r="1.15"/>
<circle cx="108.9" cy="192.0" r="1.15"/>
<circle cx="96.3" cy="227.9" r="1.15"/>
<circle cx="101.9" cy="235.1" r="1.15"/>
<circle cx="79.7" cy="227.9" r="1.15"/>
<circle cx="107.2" cy="235.1" r="1.15"/>
<circle cx="85.4" cy="241.3" r="1.15"/>
<circle cx="111.0" cy="218.2" r="1.15"/>
<circle cx="93.2" cy="202.8" r="1.15"/>
<circle cx="103.8" cy="253.2" r="1.15"/>
<circle cx="75.1" cy="225.8" r="1.15"/>
<circle cx="93.2" cy="217.5" r="1.15"/>
<circle cx="130.1" cy="192.8" r="1.15"/>
<circle cx="99.9" cy="217.9" r="1.15"/>
<circle cx="102.1" cy="231.3" r="1.15"/>
<circle cx="108.0" cy="206.6" r="1.15"/>
<circle cx="102.6" cy="223.4" r="1.15"/>
<circle cx="92.2" cy="248.7" r="1.15"/>
<circle cx="106.6" cy="210.0" r="1.15"/>
<circle cx="113.1" cy="199.0" r="1.15"/>
<circle cx="112.9" cy="219.7" r="1.15"/>
<circle cx="82.5" cy="223.6" r="1.15"/>
<circle cx="112.7" cy="219.9" r="1.15"/>
<circle cx="83.5" cy="219.2" r="1.15"/>
<circle cx="84.4" cy="225.9" r="1.15"/>
<circle cx="95.7" cy="242.0" r="1.15"/>
<circle cx="108.6" cy="197.4" r="1.15"/>
<circle cx="103.9" cy="242.4" r="1.15"/>
<circle cx="97.9" cy="223.4" r="1.15"/>
<circle cx="93.0" cy="216.4" r="1.15"/>
<circle cx="114.0" cy="236.1" r="1.15"/>
<circle cx="97.4" cy="235.4" r="1.15"/>
<circle cx="87.9" cy="238.3" r="1.15"/>
<circle cx="102.6" cy="243.5" r="1.15"/>
<circle cx="108.0" cy="209.1" r="1.15"/>
<circle cx="96.1" cy="202.1" r="1.15"/>
<circle cx="85.8" cy="257.0" r="1.15"/>
<circle cx="102.7" cy="220.5" r="1.15"/>
<circle cx="97.1" cy="232.6" r="1.15"/>
<circle cx="99.1" cy="219.2" r="1.15"/>
<circle cx="106.0" cy="225.5" r="1.15"/>
<circle cx="103.7" cy="223.7" r="1.15"/>
<circle cx="77.7" cy="230.1" r="1.15"/>
<circle cx="100.2" cy="228.1" r="1.15"/>
<circle cx="90.8" cy="224.7" r="1.15"/>
<circle cx="126.9" cy="232.5" r="1.15"/>
<circle cx="90.7" cy="241.3" r="1.15"/>
<circle cx="95.7" cy="225.5" r="1.15"/>
<circle cx="103.4" cy="238.6" r="1.15"/>
<circle cx="100.1" cy="238.8" r="1.15"/>
<circle cx="115.7" cy="207.3" r="1.15"/>
<circle cx="88.4" cy="218.4" r="1.15"/>
<circle cx="120.7" cy="218.6" r="1.15"/>
<circle cx="96.6" cy="203.2" r="1.15"/>
<circle cx="118.6" cy="204.9" r="1.15"/>
<circle cx="98.7" cy="202.8" r="1.15"/>
<circle cx="84.7" cy="241.9" r="1.15"/>
<circle cx="90.7" cy="221.0" r="1.15"/>
<circle cx="87.5" cy="245.5" r="1.15"/>
<circle cx="55.0" cy="272.5" r="1.15"/>
<circle cx="68.6" cy="246.4" r="1.15"/>
<circle cx="105.4" cy="230.6" r="1.15"/>
<circle cx="63.6" cy="232.1" r="1.15"/>
<circle cx="108.9" cy="205.1" r="1.15"/>
<circle cx="126.1" cy="228.8" r="1.15"/>
<circle cx="104.8" cy="248.2" r="1.15"/>
<circle cx="110.2" cy="218.8" r="1.15"/>
<circle cx="90.4" cy="236.2" r="1.15"/>
<circle cx="93.1" cy="263.0" r="1.15"/>
<circle cx="97.5" cy="230.4" r="1.15"/>
<circle cx="76.1" cy="262.3" r="1.15"/>
<circle cx="139.8" cy="214.8" r="1.15"/>
<circle cx="62.9" cy="239.1" r="1.15"/>
<circle cx="116.6" cy="213.9" r="1.15"/>
<circle cx="111.6" cy="206.5" r="1.15"/>
<circle cx="98.6" cy="230.4" r="1.15"/>
<circle cx="79.4" cy="237.4" r="1.15"/>
<circle cx="85.7" cy="222.0" r="1.15"/>
<circle cx="129.4" cy="218.9" r="1.15"/>
<circle cx="118.1" cy="240.6" r="1.15"/>
<circle cx="90.9" cy="236.1" r="1.15"/>
<circle cx="82.0" cy="219.4" r="1.15"/>
<circle cx="97.7" cy="264.0" r="1.15"/>
<circle cx="101.9" cy="226.6" r="1.15"/>
<circle cx="93.1" cy="219.9" r="1.15"/>
<circle cx="114.1" cy="233.2" r="1.15"/>
<circle cx="87.1" cy="239.7" r="1.15"/>
<circle cx="61.0" cy="208.6" r="1.15"/>
<circle cx="81.6" cy="213.7" r="1.15"/>
<circle cx="96.2" cy="251.2" r="1.15"/>
<circle cx="108.9" cy="223.1" r="1.15"/>
<circle cx="109.4" cy="212.2" r="1.15"/>
<circle cx="105.6" cy="220.7" r="1.15"/>
<circle cx="93.1" cy="209.6" r="1.15"/>
<circle cx="79.5" cy="249.7" r="1.15"/>
<circle cx="93.8" cy="216.9" r="1.15"/>
<circle cx="120.1" cy="208.7" r="1.15"/>
<circle cx="124.2" cy="204.8" r="1.15"/>
<circle cx="101.0" cy="214.7" r="1.15"/>
<circle cx="122.6" cy="209.4" r="1.15"/>
<circle cx="89.3" cy="237.8" r="1.15"/>
<circle cx="103.1" cy="241.5" r="1.15"/>
<circle cx="106.0" cy="209.6" r="1.15"/>
<circle cx="100.7" cy="218.2" r="1.15"/>
<circle cx="66.7" cy="218.7" r="1.15"/>
<circle cx="112.4" cy="234.4" r="1.15"/>
<circle cx="115.9" cy="240.7" r="1.15"/>
<circle cx="92.6" cy="221.8" r="1.15"/>
<circle cx="97.7" cy="235.9" r="1.15"/>
<circle cx="98.6" cy="212.7" r="1.15"/>
<circle cx="90.3" cy="214.0" r="1.15"/>
<circle cx="89.9" cy="199.1" r="1.15"/>
<circle cx="84.7" cy="206.3" r="1.15"/>
<circle cx="122.3" cy="199.0" r="1.15"/>
<circle cx="91.6" cy="204.1" r="1.15"/>
<circle cx="110.3" cy="241.2" r="1.15"/>
<circle cx="101.8" cy="233.4" r="1.15"/>
<circle cx="101.9" cy="223.9" r="1.15"/>
<circle cx="84.0" cy="197.5" r="1.15"/>
<circle cx="80.8" cy="237.8" r="1.15"/>
<circle cx="103.8" cy="230.4" r="1.15"/>
<circle cx="93.9" cy="209.4" r="1.15"/>
<circle cx="95.9" cy="234.9" r="1.15"/>
<circle cx="74.6" cy="224.0" r="1.15"/>
<circle cx="119.2" cy="202.1" r="1.15"/>
<circle cx="111.7" cy="216.2" r="1.15"/>
<circle cx="119.5" cy="213.7" r="1.15"/>
<circle cx="87.1" cy="227.6" r="1.15"/>
<circle cx="97.6" cy="228.3" r="1.15"/>
<circle cx="103.4" cy="204.7" r="1.15"/>
<circle cx="103.7" cy="234.9" r="1.15"/>
<circle cx="79.1" cy="228.5" r="1.15"/>
<circle cx="90.2" cy="225.2" r="1.15"/>
<circle cx="97.1" cy="247.7" r="1.15"/>
<circle cx="114.0" cy="217.8" r="1.15"/>
<circle cx="100.7" cy="202.6" r="1.15"/>
<circle cx="101.5" cy="217.3" r="1.15"/>
<circle cx="110.8" cy="244.8" r="1.15"/>
<circle cx="107.2" cy="229.5" r="1.15"/>
<circle cx="88.5" cy="244.2" r="1.15"/>
<circle cx="121.3" cy="212.2" r="1.15"/>
<circle cx="82.8" cy="244.4" r="1.15"/>
<circle cx="95.6" cy="227.3" r="1.15"/>
<circle cx="102.2" cy="243.3" r="1.15"/>
<circle cx="86.9" cy="225.9" r="1.15"/>
<circle cx="92.4" cy="218.5" r="1.15"/>
<circle cx="82.5" cy="258.2" r="1.15"/>
<circle cx="63.1" cy="271.4" r="1.15"/>
<circle cx="88.5" cy="209.3" r="1.15"/>
<circle cx="71.7" cy="216.6" r="1.15"/>
<circle cx="141.3" cy="226.4" r="1.15"/>
<circle cx="78.8" cy="229.1" r="1.15"/>
<circle cx="88.7" cy="241.8" r="1.15"/>
<circle cx="81.1" cy="242.2" r="1.15"/>
<circle cx="82.2" cy="214.1" r="1.15"/>
<circle cx="93.8" cy="222.0" r="1.15"/>
<circle cx="103.2" cy="200.6" r="1.15"/>
<circle cx="100.3" cy="196.7" r="1.15"/>
<circle cx="90.3" cy="227.9" r="1.15"/>
<circle cx="77.0" cy="228.7" r="1.15"/>
<circle cx="114.5" cy="211.7" r="1.15"/>
<circle cx="98.0" cy="243.9" r="1.15"/>
<circle cx="108.5" cy="218.4" r="1.15"/>
<circle cx="104.3" cy="223.7" r="1.15"/>
<circle cx="82.0" cy="223.3" r="1.15"/>
<circle cx="121.3" cy="219.9" r="1.15"/>
<circle cx="102.3" cy="215.4" r="1.15"/>
<circle cx="75.6" cy="219.8" r="1.15"/>
<circle cx="100.4" cy="227.3" r="1.15"/>
<circle cx="115.0" cy="215.2" r="1.15"/>
<circle cx="96.4" cy="213.4" r="1.15"/>
<circle cx="106.0" cy="225.4" r="1.15"/>
<circle cx="84.7" cy="240.7" r="1.15"/>
<circle cx="96.0" cy="244.1" r="1.15"/>
<circle cx="116.2" cy="227.0" r="1.15"/>
<circle cx="85.6" cy="220.0" r="1.15"/>
<circle cx="89.3" cy="207.1" r="1.15"/>
<circle cx="122.1" cy="220.1" r="1.15"/>
<circle cx="82.1" cy="236.8" r="1.15"/>
<circle cx="83.8" cy="227.1" r="1.15"/>
<circle cx="117.0" cy="229.4" r="1.15"/>
<circle cx="79.7" cy="217.3" r="1.15"/>
<circle cx="103.5" cy="228.0" r="1.15"/>
<circle cx="94.1" cy="229.8" r="1.15"/>
<circle cx="98.2" cy="237.7" r="1.15"/>
<circle cx="123.3" cy="233.1" r="1.15"/>
<circle cx="106.5" cy="213.9" r="1.15"/>
<circle cx="97.1" cy="196.8" r="1.15"/>
<circle cx="99.2" cy="219.3" r="1.15"/>
<circle cx="107.1" cy="224.3" r="1.15"/>
<circle cx="122.8" cy="231.8" r="1.15"/>
<circle cx="52.2" cy="250.4" r="1.15"/>
<circle cx="92.0" cy="242.4" r="1.15"/>
<circle cx="88.7" cy="229.9" r="1.15"/>
<circle cx="104.2" cy="219.5" r="1.15"/>
<circle cx="89.6" cy="229.5" r="1.15"/>
<circle cx="102.9" cy="243.4" r="1.15"/>
<circle cx="103.3" cy="227.1" r="1.15"/>
<circle cx="118.6" cy="205.8" r="1.15"/>
<circle cx="99.3" cy="237.4" r="1.15"/>
<circle cx="101.4" cy="234.5" r="1.15"/>
<circle cx="84.1" cy="243.6" r="1.15"/>
<circle cx="98.9" cy="237.4" r="1.15"/>
<circle cx="147.5" cy="234.4" r="1.15"/>
<circle cx="109.1" cy="220.9" r="1.15"/>
<circle cx="77.6" cy="255.1" r="1.15"/>
<circle cx="97.7" cy="237.2" r="1.15"/>
<circle cx="95.3" cy="202.7" r="1.15"/>
<circle cx="75.1" cy="251.9" r="1.15"/>
<circle cx="79.9" cy="223.5" r="1.15"/>
<circle cx="100.6" cy="209.8" r="1.15"/>
<circle cx="91.1" cy="212.8" r="1.15"/>
<circle cx="98.9" cy="218.1" r="1.15"/>
<circle cx="76.7" cy="239.5" r="1.15"/>
<circle cx="98.7" cy="241.7" r="1.15"/>
<circle cx="93.9" cy="227.2" r="1.15"/>
<circle cx="73.8" cy="219.5" r="1.15"/>
<circle cx="112.5" cy="224.8" r="1.15"/>
<circle cx="139.9" cy="241.1" r="1.15"/>
<circle cx="75.3" cy="224.8" r="1.15"/>
<circle cx="96.0" cy="230.4" r="1.15"/>
<circle cx="87.4" cy="225.7" r="1.15"/>
<circle cx="100.8" cy="218.2" r="1.15"/>
<circle cx="87.0" cy="235.5" r="1.15"/>
<circle cx="111.9" cy="227.3" r="1.15"/>
<circle cx="106.2" cy="244.4" r="1.15"/>
<circle cx="99.0" cy="254.4" r="1.15"/>
<circle cx="52.5" cy="249.8" r="1.15"/>
<circle cx="99.2" cy="204.1" r="1.15"/>
<circle cx="88.3" cy="225.2" r="1.15"/>
<circle cx="89.7" cy="237.3" r="1.15"/>
<circle cx="110.2" cy="229.3" r="1.15"/>
<circle cx="86.4" cy="246.1" r="1.15"/>
<circle cx="108.3" cy="214.1" r="1.15"/>
<circle cx="80.9" cy="246.0" r="1.15"/>
<circle cx="104.0" cy="240.5" r="1.15"/>
<circle cx="100.6" cy="240.5" r="1.15"/>
<circle cx="116.9" cy="221.2" r="1.15"/>
<circle cx="93.7" cy="230.7" r="1.15"/>
<circle cx="97.0" cy="229.1" r="1.15"/>
<circle cx="74.5" cy="250.5" r="1.15"/>
<circle cx="92.6" cy="233.4" r="1.15"/>
<circle cx="137.4" cy="229.5" r="1.15"/>
<circle cx="88.5" cy="212.2" r="1.15"/>
<circle cx="104.6" cy="228.1" r="1.15"/>
<circle cx="92.2" cy="240.6" r="1.15"/>
<circle cx="94.7" cy="216.9" r="1.15"/>
<circle cx="102.7" cy="232.5" r="1.15"/>
<circle cx="86.8" cy="236.2" r="1.15"/>
<circle cx="94.3" cy="247.5" r="1.15"/>
<circle cx="115.5" cy="225.3" r="1.15"/>
<circle cx="108.2" cy="222.3" r="1.15"/>
<circle cx="101.6" cy="245.6" r="1.15"/>
<circle cx="103.8" cy="212.6" r="1.15"/>
<circle cx="87.4" cy="234.5" r="1.15"/>
<circle cx="86.9" cy="228.9" r="1.15"/>
<circle cx="89.7" cy="229.4" r="1.15"/>
<circle cx="107.3" cy="231.0" r="1.15"/>
<circle cx="79.9" cy="219.8" r="1.15"/>
<circle cx="110.2" cy="226.9" r="1.15"/>
<circle cx="93.8" cy="229.7" r="1.15"/>
<circle cx="86.1" cy="232.8" r="1.15"/>
<circle cx="81.8" cy="253.2" r="1.15"/>
<circle cx="93.3" cy="219.8" r="1.15"/>
<circle cx="109.2" cy="220.2" r="1.15"/>
<circle cx="99.9" cy="207.1" r="1.15"/>
<circle cx="88.4" cy="233.9" r="1.15"/>
<circle cx="62.6" cy="254.0" r="1.15"/>
<circle cx="93.0" cy="239.3" r="1.15"/>
<circle cx="100.7" cy="234.8" r="1.15"/>
<circle cx="113.6" cy="222.9" r="1.15"/>
<circle cx="78.7" cy="231.3" r="1.15"/>
<circle cx="74.8" cy="221.9" r="1.15"/>
<circle cx="82.0" cy="252.9" r="1.15"/>
<circle cx="90.8" cy="208.5" r="1.15"/>
<circle cx="107.1" cy="240.1" r="1.15"/>
<circle cx="90.2" cy="236.1" r="1.15"/>
<circle cx="98.2" cy="236.4" r="1.15"/>
<circle cx="55.9" cy="234.5" r="1.15"/>
<circle cx="95.6" cy="220.4" r="1.15"/>
<circle cx="89.8" cy="229.0" r="1.15"/>
<circle cx="106.8" cy="227.7" r="1.15"/>
<circle cx="81.4" cy="243.3" r="1.15"/>
<circle cx="92.0" cy="238.4" r="1.15"/>
<circle cx="105.4" cy="209.2" r="1.15"/>
<circle cx="79.9" cy="212.5" r="1.15"/>
<circle cx="83.6" cy="243.5" r="1.15"/>
<circle cx="114.5" cy="224.2" r="1.15"/>
<circle cx="110.6" cy="238.8" r="1.15"/>
<circle cx="73.4" cy="264.0" r="1.15"/>
<circle cx="77.7" cy="224.1" r="1.15"/>
<circle cx="104.0" cy="224.5" r="1.15"/>
<circle cx="83.1" cy="225.4" r="1.15"/>
<circle cx="105.1" cy="200.2" r="1.15"/>
<circle cx="81.1" cy="214.5" r="1.15"/>
<circle cx="91.8" cy="211.7" r="1.15"/>
<circle cx="100.2" cy="231.5" r="1.15"/>
<circle cx="90.9" cy="228.7" r="1.15"/>
<circle cx="90.8" cy="224.8" r="1.15"/>
<circle cx="99.5" cy="241.3" r="1.15"/>
<circle cx="101.9" cy="227.0" r="1.15"/>
<circle cx="104.7" cy="228.9" r="1.15"/>
<circle cx="105.1" cy="250.6" r="1.15"/>
<circle cx="104.2" cy="212.2" r="1.15"/>
<circle cx="90.0" cy="220.4" r="1.15"/>
<circle cx="111.4" cy="222.8" r="1.15"/>
<circle cx="98.8" cy="230.9" r="1.15"/>
<circle cx="108.3" cy="229.7" r="1.15"/>
<circle cx="95.6" cy="226.6" r="1.15"/>
<circle cx="113.2" cy="224.1" r="1.15"/>
<circle cx="96.2" cy="213.1" r="1.15"/>
<circle cx="94.7" cy="210.2" r="1.15"/>
<circle cx="89.2" cy="223.7" r="1.15"/>
<circle cx="84.4" cy="208.7" r="1.15"/>
<circle cx="91.1" cy="236.5" r="1.15"/>
<circle cx="107.1" cy="231.1" r="1.15"/>
<circle cx="96.7" cy="209.6" r="1.15"/>
<circle cx="103.1" cy="229.8" r="1.15"/>
<circle cx="112.7" cy="224.0" r="1.15"/>
<circle cx="66.3" cy="225.5" r="1.15"/>
<circle cx="148.0" cy="235.7" r="1.15"/>
<circle cx="106.3" cy="222.2" r="1.15"/>
<circle cx="102.0" cy="235.1" r="1.15"/>
<circle cx="93.8" cy="234.9" r="1.15"/>
<circle cx="108.4" cy="239.3" r="1.15"/>
<circle cx="101.6" cy="243.6" r="1.15"/>
<circle cx="86.8" cy="209.0" r="1.15"/>
<circle cx="107.8" cy="206.5" r="1.15"/>
<circle cx="86.3" cy="235.3" r="1.15"/>
<circle cx="111.9" cy="216.0" r="1.15"/>
<circle cx="82.9" cy="219.5" r="1.15"/>
<circle cx="57.5" cy="243.5" r="1.15"/>
<circle cx="124.9" cy="249.6" r="1.15"/>
<circle cx="107.5" cy="207.7" r="1.15"/>
<circle cx="102.0" cy="199.1" r="1.15"/>
<circle cx="111.4" cy="207.8" r="1.15"/>
<circle cx="82.0" cy="234.5" r="1.15"/>
<circle cx="104.6" cy="243.9" r="1.15"/>
<circle cx="87.8" cy="229.1" r="1.15"/>
<circle cx="99.6" cy="209.0" r="1.15"/>
<circle cx="52.7" cy="246.7" r="1.15"/>
<circle cx="67.2" cy="213.8" r="1.15"/>
<circle cx="107.9" cy="198.3" r="1.15"/>
<circle cx="106.2" cy="223.8" r="1.15"/>
<circle cx="96.2" cy="217.8" r="1.15"/>
<circle cx="109.2" cy="225.0" r="1.15"/>
<circle cx="94.3" cy="245.1" r="1.15"/>
<circle cx="111.2" cy="238.3" r="1.15"/>
<circle cx="120.4" cy="242.7" r="1.15"/>
<circle cx="111.4" cy="264.7" r="1.15"/>
<circle cx="90.3" cy="236.9" r="1.15"/>
<circle cx="88.2" cy="218.0" r="1.15"/>
<circle cx="82.6" cy="234.0" r="1.15"/>
<circle cx="94.7" cy="217.5" r="1.15"/>
<circle cx="104.8" cy="216.8" r="1.15"/>
<circle cx="68.5" cy="241.5" r="1.15"/>
<circle cx="91.0" cy="219.0" r="1.15"/>
</g>
<path d="M49.20,236.00 Q99.65,228.90 150.10,213.80 L150.10,220.80 Q99.65,227.90 49.20,243.00 Z" fill="#bcc2e6" fill-opacity="0.6"/>
<line x1="49.20" y1="239.50" x2="150.10" y2="217.30" stroke="#5159ab" stroke-width="0.75" />
<line x1="46.20" y1="190.10" x2="153.40" y2="190.10" stroke="#4d4d4d" stroke-width="0.9" />
<line x1="153.40" y1="190.10" x2="153.40" y2="291.60" stroke="#4d4d4d" stroke-width="0.9" />
<line x1="46.20" y1="189.65" x2="46.20" y2="292.15" stroke="#333" stroke-width="1.1" />
<line x1="45.65" y1="291.60" x2="153.85" y2="291.60" stroke="#333" stroke-width="1.1" />
<line x1="68.80" y1="291.60" x2="68.80" y2="294.50" stroke="#333" stroke-width="0.75" />
<line x1="96.06" y1="291.60" x2="96.06" y2="294.50" stroke="#333" stroke-width="0.75" />
<line x1="123.32" y1="291.60" x2="123.32" y2="294.50" stroke="#333" stroke-width="0.75" />
<line x1="150.58" y1="291.60" x2="150.58" y2="294.50" stroke="#333" stroke-width="0.75" />
<line x1="43.40" y1="197.90" x2="46.20" y2="197.90" stroke="#333" stroke-width="0.75" />
<line x1="43.40" y1="212.90" x2="46.20" y2="212.90" stroke="#333" stroke-width="0.75" />
<line x1="43.40" y1="227.90" x2="46.20" y2="227.90" stroke="#333" stroke-width="0.75" />
<line x1="43.40" y1="242.90" x2="46.20" y2="242.90" stroke="#333" stroke-width="0.75" />
<line x1="43.40" y1="257.90" x2="46.20" y2="257.90" stroke="#333" stroke-width="0.75" />
<line x1="43.40" y1="272.90" x2="46.20" y2="272.90" stroke="#333" stroke-width="0.75" />
<line x1="43.40" y1="287.90" x2="46.20" y2="287.90" stroke="#333" stroke-width="0.75" />
<rect x="215.80" y="192.90" width="105.80" height="101.50" fill="#ffffff" stroke="none" stroke-width="0.6" />
<line x1="225.55" y1="192.90" x2="225.55" y2="294.40" stroke="#f2f2f2" stroke-width="0.55" />
<line x1="238.90" y1="192.90" x2="238.90" y2="294.40" stroke="#e6e6e6" stroke-width="0.55" />
<line x1="252.25" y1="192.90" x2="252.25" y2="294.40" stroke="#f2f2f2" stroke-width="0.55" />
<line x1="265.60" y1="192.90" x2="265.60" y2="294.40" stroke="#e6e6e6" stroke-width="0.55" />
<line x1="278.95" y1="192.90" x2="278.95" y2="294.40" stroke="#f2f2f2" stroke-width="0.55" />
<line x1="292.30" y1="192.90" x2="292.30" y2="294.40" stroke="#e6e6e6" stroke-width="0.55" />
<line x1="305.65" y1="192.90" x2="305.65" y2="294.40" stroke="#f2f2f2" stroke-width="0.55" />
<line x1="319.00" y1="192.90" x2="319.00" y2="294.40" stroke="#e6e6e6" stroke-width="0.55" />
<line x1="215.80" y1="292.40" x2="321.60" y2="292.40" stroke="#e6e6e6" stroke-width="0.55" />
<line x1="215.80" y1="276.40" x2="321.60" y2="276.40" stroke="#f2f2f2" stroke-width="0.55" />
<line x1="215.80" y1="260.40" x2="321.60" y2="260.40" stroke="#e6e6e6" stroke-width="0.55" />
<line x1="215.80" y1="244.40" x2="321.60" y2="244.40" stroke="#f2f2f2" stroke-width="0.55" />
<line x1="215.80" y1="228.40" x2="321.60" y2="228.40" stroke="#e6e6e6" stroke-width="0.55" />
<line x1="215.80" y1="212.40" x2="321.60" y2="212.40" stroke="#f2f2f2" stroke-width="0.55" />
<line x1="215.80" y1="196.40" x2="321.60" y2="196.40" stroke="#e6e6e6" stroke-width="0.55" />
<g fill="#8e8e8e" fill-opacity="0.7" stroke="#555" stroke-opacity="0.8" stroke-width="0.4">
<circle cx="237.6" cy="249.3" r="1.15"/>
<circle cx="262.5" cy="232.1" r="1.15"/>
<circle cx="274.6" cy="237.1" r="1.15"/>
<circle cx="277.5" cy="219.5" r="1.15"/>
<circle cx="255.2" cy="257.5" r="1.15"/>
<circle cx="263.8" cy="221.0" r="1.15"/>
<circle cx="269.5" cy="241.8" r="1.15"/>
<circle cx="257.8" cy="252.5" r="1.15"/>
<circle cx="240.4" cy="214.2" r="1.15"/>
<circle cx="248.1" cy="254.8" r="1.15"/>
<circle cx="271.6" cy="243.1" r="1.15"/>
<circle cx="262.0" cy="233.1" r="1.15"/>
<circle cx="262.1" cy="247.0" r="1.15"/>
<circle cx="273.6" cy="247.8" r="1.15"/>
<circle cx="266.4" cy="231.4" r="1.15"/>
<circle cx="268.0" cy="230.5" r="1.15"/>
<circle cx="286.3" cy="201.5" r="1.15"/>
<circle cx="257.6" cy="264.3" r="1.15"/>
<circle cx="269.6" cy="231.2" r="1.15"/>
<circle cx="269.8" cy="239.7" r="1.15"/>
<circle cx="268.6" cy="224.8" r="1.15"/>
<circle cx="269.7" cy="257.9" r="1.15"/>
<circle cx="270.5" cy="237.6" r="1.15"/>
<circle cx="282.1" cy="241.9" r="1.15"/>
<circle cx="288.4" cy="199.8" r="1.15"/>
<circle cx="280.3" cy="266.2" r="1.15"/>
<circle cx="230.4" cy="249.7" r="1.15"/>
<circle cx="284.7" cy="238.4" r="1.15"/>
<circle cx="262.5" cy="246.3" r="1.15"/>
<circle cx="276.8" cy="238.0" r="1.15"/>
<circle cx="290.2" cy="224.4" r="1.15"/>
<circle cx="277.4" cy="236.2" r="1.15"/>
<circle cx="266.3" cy="255.6" r="1.15"/>
<circle cx="258.5" cy="260.3" r="1.15"/>
<circle cx="269.3" cy="238.4" r="1.15"/>
<circle cx="256.0" cy="246.0" r="1.15"/>
<circle cx="257.8" cy="241.5" r="1.15"/>
<circle cx="279.9" cy="246.1" r="1.15"/>
<circle cx="240.1" cy="217.3" r="1.15"/>
<circle cx="259.6" cy="249.6" r="1.15"/>
<circle cx="261.0" cy="256.3" r="1.15"/>
<circle cx="272.2" cy="245.3" r="1.15"/>
<circle cx="270.7" cy="228.7" r="1.15"/>
<circle cx="316.1" cy="272.3" r="1.15"/>
<circle cx="261.7" cy="252.1" r="1.15"/>
<circle cx="264.2" cy="235.3" r="1.15"/>
<circle cx="255.5" cy="227.5" r="1.15"/>
<circle cx="296.2" cy="252.4" r="1.15"/>
<circle cx="287.6" cy="247.0" r="1.15"/>
<circle cx="296.2" cy="244.6" r="1.15"/>
<circle cx="267.1" cy="228.5" r="1.15"/>
<circle cx="275.1" cy="258.0" r="1.15"/>
<circle cx="284.9" cy="263.4" r="1.15"/>
<circle cx="271.8" cy="247.8" r="1.15"/>
<circle cx="240.3" cy="225.4" r="1.15"/>
<circle cx="243.3" cy="231.6" r="1.15"/>
<circle cx="263.8" cy="242.2" r="1.15"/>
<circle cx="253.6" cy="211.0" r="1.15"/>
<circle cx="292.4" cy="262.9" r="1.15"/>
<circle cx="259.6" cy="236.0" r="1.15"/>
<circle cx="257.0" cy="255.6" r="1.15"/>
<circle cx="245.2" cy="225.9" r="1.15"/>
<circle cx="231.6" cy="240.3" r="1.15"/>
<circle cx="268.0" cy="253.3" r="1.15"/>
<circle cx="266.7" cy="247.3" r="1.15"/>
<circle cx="264.1" cy="227.0" r="1.15"/>
<circle cx="294.4" cy="242.8" r="1.15"/>
<circle cx="249.6" cy="262.3" r="1.15"/>
<circle cx="286.1" cy="250.7" r="1.15"/>
<circle cx="263.3" cy="248.5" r="1.15"/>
<circle cx="268.9" cy="236.6" r="1.15"/>
<circle cx="271.9" cy="259.7" r="1.15"/>
<circle cx="268.5" cy="224.0" r="1.15"/>
<circle cx="262.4" cy="228.9" r="1.15"/>
<circle cx="260.6" cy="267.9" r="1.15"/>
<circle cx="266.9" cy="245.1" r="1.15"/>
<circle cx="264.3" cy="252.1" r="1.15"/>
<circle cx="265.5" cy="253.4" r="1.15"/>
<circle cx="272.2" cy="237.3" r="1.15"/>
<circle cx="254.7" cy="228.7" r="1.15"/>
<circle cx="251.7" cy="212.7" r="1.15"/>
<circle cx="295.0" cy="258.7" r="1.15"/>
<circle cx="268.4" cy="257.9" r="1.15"/>
<circle cx="281.1" cy="239.1" r="1.15"/>
<circle cx="311.8" cy="285.0" r="1.15"/>
<circle cx="275.0" cy="266.3" r="1.15"/>
<circle cx="277.8" cy="242.9" r="1.15"/>
<circle cx="275.6" cy="239.3" r="1.15"/>
<circle cx="257.1" cy="214.9" r="1.15"/>
<circle cx="280.7" cy="252.9" r="1.15"/>
<circle cx="257.9" cy="253.6" r="1.15"/>
<circle cx="267.3" cy="250.4" r="1.15"/>
<circle cx="283.0" cy="242.2" r="1.15"/>
<circle cx="256.8" cy="259.1" r="1.15"/>
<circle cx="294.4" cy="237.5" r="1.15"/>
<circle cx="281.5" cy="247.1" r="1.15"/>
<circle cx="253.7" cy="218.2" r="1.15"/>
<circle cx="230.5" cy="231.0" r="1.15"/>
<circle cx="301.0" cy="247.9" r="1.15"/>
<circle cx="250.4" cy="236.8" r="1.15"/>
<circle cx="271.7" cy="243.2" r="1.15"/>
<circle cx="273.4" cy="231.0" r="1.15"/>
<circle cx="288.6" cy="248.6" r="1.15"/>
<circle cx="255.6" cy="238.0" r="1.15"/>
<circle cx="269.5" cy="271.7" r="1.15"/>
<circle cx="266.6" cy="258.2" r="1.15"/>
<circle cx="268.3" cy="263.0" r="1.15"/>
<circle cx="266.1" cy="270.9" r="1.15"/>
<circle cx="263.3" cy="253.5" r="1.15"/>
<circle cx="294.5" cy="230.5" r="1.15"/>
<circle cx="269.6" cy="257.0" r="1.15"/>
<circle cx="249.6" cy="263.2" r="1.15"/>
<circle cx="281.7" cy="263.8" r="1.15"/>
<circle cx="270.0" cy="229.5" r="1.15"/>
<circle cx="266.2" cy="214.9" r="1.15"/>
<circle cx="309.3" cy="250.4" r="1.15"/>
<circle cx="274.1" cy="271.4" r="1.15"/>
<circle cx="250.9" cy="266.4" r="1.15"/>
<circle cx="274.8" cy="240.6" r="1.15"/>
<circle cx="282.0" cy="229.9" r="1.15"/>
<circle cx="262.5" cy="246.5" r="1.15"/>
<circle cx="274.2" cy="250.3" r="1.15"/>
<circle cx="264.1" cy="250.1" r="1.15"/>
<circle cx="251.0" cy="234.6" r="1.15"/>
<circle cx="271.9" cy="240.0" r="1.15"/>
<circle cx="259.1" cy="262.9" r="1.15"/>
<circle cx="273.0" cy="254.1" r="1.15"/>
<circle cx="276.0" cy="207.6" r="1.15"/>
<circle cx="275.0" cy="230.8" r="1.15"/>
<circle cx="269.7" cy="242.3" r="1.15"/>
<circle cx="274.1" cy="246.3" r="1.15"/>
<circle cx="267.5" cy="245.1" r="1.15"/>
<circle cx="248.5" cy="238.8" r="1.15"/>
<circle cx="245.1" cy="239.2" r="1.15"/>
<circle cx="257.2" cy="252.0" r="1.15"/>
<circle cx="250.6" cy="262.0" r="1.15"/>
<circle cx="253.3" cy="235.7" r="1.15"/>
<circle cx="270.0" cy="275.6" r="1.15"/>
<circle cx="274.8" cy="258.1" r="1.15"/>
<circle cx="276.6" cy="263.9" r="1.15"/>
<circle cx="262.4" cy="229.4" r="1.15"/>
<circle cx="280.4" cy="231.4" r="1.15"/>
<circle cx="256.9" cy="240.6" r="1.15"/>
<circle cx="261.6" cy="242.6" r="1.15"/>
<circle cx="245.7" cy="209.2" r="1.15"/>
<circle cx="286.5" cy="258.8" r="1.15"/>
<circle cx="269.8" cy="232.5" r="1.15"/>
<circle cx="252.5" cy="247.5" r="1.15"/>
<circle cx="256.5" cy="241.5" r="1.15"/>
<circle cx="262.3" cy="249.1" r="1.15"/>
<circle cx="278.5" cy="207.6" r="1.15"/>
<circle cx="272.8" cy="222.1" r="1.15"/>
<circle cx="277.3" cy="267.3" r="1.15"/>
<circle cx="269.3" cy="241.2" r="1.15"/>
<circle cx="271.5" cy="224.4" r="1.15"/>
<circle cx="264.1" cy="234.8" r="1.15"/>
<circle cx="292.5" cy="243.9" r="1.15"/>
<circle cx="259.6" cy="218.6" r="1.15"/>
<circle cx="304.7" cy="265.5" r="1.15"/>
<circle cx="272.6" cy="215.4" r="1.15"/>
<circle cx="257.5" cy="227.9" r="1.15"/>
<circle cx="274.4" cy="244.8" r="1.15"/>
<circle cx="254.5" cy="219.9" r="1.15"/>
<circle cx="262.9" cy="251.7" r="1.15"/>
<circle cx="255.1" cy="209.0" r="1.15"/>
<circle cx="275.9" cy="237.8" r="1.15"/>
<circle cx="288.2" cy="240.6" r="1.15"/>
<circle cx="304.2" cy="247.0" r="1.15"/>
<circle cx="246.3" cy="242.2" r="1.15"/>
<circle cx="258.7" cy="232.0" r="1.15"/>
<circle cx="278.2" cy="248.6" r="1.15"/>
<circle cx="258.5" cy="229.4" r="1.15"/>
<circle cx="235.3" cy="242.0" r="1.15"/>
<circle cx="258.5" cy="218.7" r="1.15"/>
<circle cx="292.3" cy="235.6" r="1.15"/>
<circle cx="282.5" cy="244.9" r="1.15"/>
<circle cx="273.7" cy="246.3" r="1.15"/>
<circle cx="263.1" cy="219.2" r="1.15"/>
<circle cx="255.0" cy="222.3" r="1.15"/>
<circle cx="278.2" cy="254.3" r="1.15"/>
<circle cx="271.5" cy="245.0" r="1.15"/>
<circle cx="260.8" cy="243.9" r="1.15"/>
<circle cx="266.5" cy="227.9" r="1.15"/>
<circle cx="264.0" cy="238.8" r="1.15"/>
<circle cx="226.7" cy="239.9" r="1.15"/>
<circle cx="261.1" cy="242.4" r="1.15"/>
<circle cx="250.1" cy="240.6" r="1.15"/>
<circle cx="274.8" cy="251.9" r="1.15"/>
<circle cx="253.9" cy="238.9" r="1.15"/>
<circle cx="265.9" cy="266.9" r="1.15"/>
<circle cx="257.9" cy="251.8" r="1.15"/>
<circle cx="257.6" cy="230.3" r="1.15"/>
<circle cx="253.1" cy="244.0" r="1.15"/>
<circle cx="247.7" cy="259.7" r="1.15"/>
<circle cx="251.5" cy="251.5" r="1.15"/>
<circle cx="261.9" cy="207.3" r="1.15"/>
<circle cx="250.0" cy="247.1" r="1.15"/>
<circle cx="232.5" cy="226.1" r="1.15"/>
<circle cx="280.0" cy="246.3" r="1.15"/>
<circle cx="260.2" cy="234.4" r="1.15"/>
<circle cx="276.7" cy="273.5" r="1.15"/>
<circle cx="273.5" cy="231.5" r="1.15"/>
<circle cx="268.5" cy="219.3" r="1.15"/>
<circle cx="262.4" cy="224.0" r="1.15"/>
<circle cx="281.4" cy="263.5" r="1.15"/>
<circle cx="276.6" cy="240.6" r="1.15"/>
<circle cx="259.3" cy="241.0" r="1.15"/>
<circle cx="261.5" cy="231.2" r="1.15"/>
<circle cx="277.5" cy="259.4" r="1.15"/>
<circle cx="283.4" cy="244.4" r="1.15"/>
<circle cx="267.2" cy="236.7" r="1.15"/>
<circle cx="258.2" cy="216.0" r="1.15"/>
<circle cx="256.3" cy="253.8" r="1.15"/>
<circle cx="273.4" cy="253.2" r="1.15"/>
<circle cx="228.0" cy="243.6" r="1.15"/>
<circle cx="266.2" cy="231.1" r="1.15"/>
<circle cx="290.0" cy="251.2" r="1.15"/>
<circle cx="261.3" cy="220.3" r="1.15"/>
<circle cx="269.8" cy="258.4" r="1.15"/>
<circle cx="273.2" cy="226.5" r="1.15"/>
<circle cx="268.4" cy="252.4" r="1.15"/>
<circle cx="278.2" cy="241.5" r="1.15"/>
<circle cx="280.1" cy="217.1" r="1.15"/>
<circle cx="254.7" cy="257.3" r="1.15"/>
<circle cx="273.3" cy="236.2" r="1.15"/>
<circle cx="266.2" cy="234.8" r="1.15"/>
<circle cx="275.5" cy="218.7" r="1.15"/>
<circle cx="278.3" cy="248.0" r="1.15"/>
<circle cx="221.6" cy="229.7" r="1.15"/>
<circle cx="271.5" cy="253.1" r="1.15"/>
<circle cx="260.7" cy="255.2" r="1.15"/>
<circle cx="259.5" cy="251.3" r="1.15"/>
<circle cx="266.8" cy="244.7" r="1.15"/>
<circle cx="266.2" cy="248.9" r="1.15"/>
<circle cx="256.0" cy="239.2" r="1.15"/>
<circle cx="253.6" cy="225.3" r="1.15"/>
<circle cx="256.2" cy="247.4" r="1.15"/>
<circle cx="251.5" cy="236.2" r="1.15"/>
<circle cx="267.4" cy="247.3" r="1.15"/>
<circle cx="272.0" cy="224.4" r="1.15"/>
<circle cx="283.3" cy="225.7" r="1.15"/>
<circle cx="266.5" cy="226.6" r="1.15"/>
<circle cx="267.6" cy="279.8" r="1.15"/>
<circle cx="257.7" cy="266.5" r="1.15"/>
<circle cx="234.1" cy="256.3" r="1.15"/>
<circle cx="263.0" cy="236.2" r="1.15"/>
<circle cx="247.2" cy="247.9" r="1.15"/>
<circle cx="273.5" cy="257.4" r="1.15"/>
<circle cx="269.8" cy="257.8" r="1.15"/>
<circle cx="241.1" cy="228.0" r="1.15"/>
<circle cx="268.0" cy="247.8" r="1.15"/>
<circle cx="282.0" cy="240.4" r="1.15"/>
<circle cx="275.0" cy="208.4" r="1.15"/>
<circle cx="289.1" cy="251.8" r="1.15"/>
<circle cx="274.4" cy="245.2" r="1.15"/>
<circle cx="262.7" cy="251.3" r="1.15"/>
<circle cx="255.4" cy="215.2" r="1.15"/>
<circle cx="255.4" cy="234.7" r="1.15"/>
<circle cx="265.2" cy="233.1" r="1.15"/>
<circle cx="267.6" cy="253.7" r="1.15"/>
<circle cx="274.4" cy="247.3" r="1.15"/>
<circle cx="278.0" cy="226.2" r="1.15"/>
<circle cx="258.3" cy="230.6" r="1.15"/>
<circle cx="280.7" cy="250.8" r="1.15"/>
<circle cx="269.8" cy="243.8" r="1.15"/>
<circle cx="263.5" cy="248.6" r="1.15"/>
<circle cx="273.3" cy="258.5" r="1.15"/>
<circle cx="258.3" cy="236.5" r="1.15"/>
<circle cx="238.1" cy="250.0" r="1.15"/>
<circle cx="276.8" cy="227.8" r="1.15"/>
<circle cx="266.2" cy="237.6" r="1.15"/>
<circle cx="305.6" cy="252.9" r="1.15"/>
<circle cx="270.3" cy="245.1" r="1.15"/>
<circle cx="247.7" cy="236.6" r="1.15"/>
<circle cx="273.4" cy="249.6" r="1.15"/>
<circle cx="274.6" cy="258.9" r="1.15"/>
<circle cx="253.2" cy="232.7" r="1.15"/>
<circle cx="283.9" cy="250.3" r="1.15"/>
<circle cx="293.4" cy="249.0" r="1.15"/>
<circle cx="237.9" cy="228.0" r="1.15"/>
<circle cx="263.7" cy="228.5" r="1.15"/>
<circle cx="277.0" cy="247.1" r="1.15"/>
<circle cx="271.1" cy="221.7" r="1.15"/>
<circle cx="247.5" cy="267.6" r="1.15"/>
<circle cx="287.6" cy="243.2" r="1.15"/>
<circle cx="241.7" cy="215.5" r="1.15"/>
<circle cx="303.2" cy="215.8" r="1.15"/>
<circle cx="274.9" cy="255.0" r="1.15"/>
<circle cx="267.8" cy="237.4" r="1.15"/>
<circle cx="259.3" cy="258.0" r="1.15"/>
<circle cx="290.2" cy="214.3" r="1.15"/>
<circle cx="264.1" cy="233.1" r="1.15"/>
<circle cx="219.6" cy="225.6" r="1.15"/>
<circle cx="262.1" cy="251.3" r="1.15"/>
<circle cx="285.4" cy="254.7" r="1.15"/>
<circle cx="262.7" cy="214.1" r="1.15"/>
<circle cx="261.7" cy="254.1" r="1.15"/>
<circle cx="248.2" cy="243.6" r="1.15"/>
<circle cx="275.3" cy="241.9" r="1.15"/>
<circle cx="279.7" cy="247.9" r="1.15"/>
<circle cx="249.9" cy="223.2" r="1.15"/>
<circle cx="269.7" cy="245.0" r="1.15"/>
<circle cx="260.5" cy="224.8" r="1.15"/>
<circle cx="242.0" cy="259.8" r="1.15"/>
<circle cx="269.4" cy="247.0" r="1.15"/>
<circle cx="248.1" cy="222.8" r="1.15"/>
<circle cx="257.2" cy="220.4" r="1.15"/>
<circle cx="244.9" cy="224.2" r="1.15"/>
<circle cx="261.9" cy="264.9" r="1.15"/>
<circle cx="281.3" cy="246.1" r="1.15"/>
<circle cx="232.4" cy="234.7" r="1.15"/>
<circle cx="250.9" cy="200.1" r="1.15"/>
<circle cx="252.5" cy="244.1" r="1.15"/>
<circle cx="279.7" cy="236.9" r="1.15"/>
<circle cx="263.8" cy="234.4" r="1.15"/>
<circle cx="249.7" cy="224.6" r="1.15"/>
<circle cx="249.0" cy="275.8" r="1.15"/>
<circle cx="277.9" cy="233.7" r="1.15"/>
<circle cx="285.8" cy="230.9" r="1.15"/>
<circle cx="311.3" cy="257.1" r="1.15"/>
<circle cx="223.2" cy="253.2" r="1.15"/>
<circle cx="240.2" cy="242.8" r="1.15"/>
<circle cx="283.5" cy="250.8" r="1.15"/>
<circle cx="274.5" cy="235.5" r="1.15"/>
<circle cx="294.4" cy="231.6" r="1.15"/>
<circle cx="260.0" cy="240.7" r="1.15"/>
<circle cx="273.3" cy="235.4" r="1.15"/>
<circle cx="277.2" cy="264.4" r="1.15"/>
<circle cx="249.8" cy="249.4" r="1.15"/>
<circle cx="271.1" cy="247.3" r="1.15"/>
<circle cx="248.7" cy="239.2" r="1.15"/>
<circle cx="282.3" cy="279.3" r="1.15"/>
<circle cx="261.9" cy="223.1" r="1.15"/>
<circle cx="246.8" cy="220.3" r="1.15"/>
<circle cx="259.6" cy="229.9" r="1.15"/>
<circle cx="259.8" cy="230.4" r="1.15"/>
<circle cx="272.8" cy="223.2" r="1.15"/>
<circle cx="260.9" cy="226.9" r="1.15"/>
<circle cx="275.5" cy="213.6" r="1.15"/>
<circle cx="272.1" cy="248.5" r="1.15"/>
<circle cx="275.3" cy="249.3" r="1.15"/>
<circle cx="275.4" cy="234.7" r="1.15"/>
<circle cx="263.6" cy="255.9" r="1.15"/>
<circle cx="284.7" cy="249.4" r="1.15"/>
<circle cx="297.3" cy="254.7" r="1.15"/>
<circle cx="280.8" cy="246.3" r="1.15"/>
<circle cx="279.9" cy="247.9" r="1.15"/>
<circle cx="248.7" cy="263.3" r="1.15"/>
<circle cx="274.2" cy="274.5" r="1.15"/>
<circle cx="277.8" cy="252.3" r="1.15"/>
<circle cx="243.1" cy="223.6" r="1.15"/>
<circle cx="258.2" cy="227.9" r="1.15"/>
<circle cx="275.5" cy="258.3" r="1.15"/>
<circle cx="262.5" cy="220.4" r="1.15"/>
<circle cx="269.5" cy="233.3" r="1.15"/>
<circle cx="284.0" cy="275.6" r="1.15"/>
<circle cx="251.0" cy="243.1" r="1.15"/>
<circle cx="254.9" cy="280.2" r="1.15"/>
<circle cx="261.6" cy="238.1" r="1.15"/>
<circle cx="264.6" cy="265.7" r="1.15"/>
<circle cx="253.8" cy="248.6" r="1.15"/>
<circle cx="233.0" cy="256.9" r="1.15"/>
<circle cx="316.4" cy="247.8" r="1.15"/>
<circle cx="261.5" cy="246.9" r="1.15"/>
<circle cx="276.2" cy="265.3" r="1.15"/>
<circle cx="268.6" cy="249.4" r="1.15"/>
<circle cx="289.5" cy="228.4" r="1.15"/>
<circle cx="261.3" cy="249.5" r="1.15"/>
<circle cx="269.2" cy="227.8" r="1.15"/>
<circle cx="257.4" cy="251.7" r="1.15"/>
<circle cx="259.4" cy="268.3" r="1.15"/>
<circle cx="227.3" cy="243.3" r="1.15"/>
<circle cx="250.6" cy="229.6" r="1.15"/>
<circle cx="264.4" cy="248.8" r="1.15"/>
<circle cx="221.0" cy="239.4" r="1.15"/>
<circle cx="269.4" cy="280.8" r="1.15"/>
<circle cx="271.1" cy="254.4" r="1.15"/>
<circle cx="262.4" cy="256.0" r="1.15"/>
<circle cx="269.6" cy="232.2" r="1.15"/>
<circle cx="241.1" cy="216.2" r="1.15"/>
<circle cx="275.4" cy="243.3" r="1.15"/>
<circle cx="262.5" cy="255.8" r="1.15"/>
<circle cx="274.7" cy="272.5" r="1.15"/>
<circle cx="276.8" cy="247.7" r="1.15"/>
<circle cx="282.9" cy="233.9" r="1.15"/>
<circle cx="267.5" cy="265.2" r="1.15"/>
<circle cx="270.7" cy="244.7" r="1.15"/>
<circle cx="253.7" cy="257.9" r="1.15"/>
<circle cx="261.7" cy="229.9" r="1.15"/>
<circle cx="266.4" cy="246.7" r="1.15"/>
<circle cx="269.3" cy="246.6" r="1.15"/>
<circle cx="275.6" cy="234.7" r="1.15"/>
<circle cx="272.7" cy="244.3" r="1.15"/>
<circle cx="255.3" cy="240.6" r="1.15"/>
<circle cx="273.3" cy="217.6" r="1.15"/>
<circle cx="260.4" cy="227.1" r="1.15"/>
<circle cx="243.8" cy="230.8" r="1.15"/>
<circle cx="267.2" cy="222.8" r="1.15"/>
<circle cx="280.6" cy="249.7" r="1.15"/>
<circle cx="275.3" cy="259.4" r="1.15"/>
<circle cx="246.3" cy="239.9" r="1.15"/>
<circle cx="276.0" cy="244.4" r="1.15"/>
<circle cx="289.1" cy="235.3" r="1.15"/>
<circle cx="294.5" cy="268.3" r="1.15"/>
<circle cx="306.4" cy="251.4" r="1.15"/>
<circle cx="276.7" cy="254.9" r="1.15"/>
<circle cx="275.7" cy="252.0" r="1.15"/>
<circle cx="251.3" cy="246.8" r="1.15"/>
<circle cx="286.8" cy="231.5" r="1.15"/>
<circle cx="249.3" cy="243.9" r="1.15"/>
<circle cx="228.5" cy="234.3" r="1.15"/>
<circle cx="242.8" cy="210.8" r="1.15"/>
<circle cx="300.0" cy="240.8" r="1.15"/>
<circle cx="266.5" cy="218.1" r="1.15"/>
<circle cx="248.5" cy="235.5" r="1.15"/>
<circle cx="287.3" cy="275.9" r="1.15"/>
<circle cx="297.0" cy="239.5" r="1.15"/>
<circle cx="280.6" cy="208.7" r="1.15"/>
<circle cx="264.2" cy="196.5" r="1.15"/>
<circle cx="286.0" cy="254.4" r="1.15"/>
</g>
<path d="M218.50,230.70 Q268.60,244.05 318.70,249.80 L318.70,256.40 Q268.60,243.05 218.50,237.30 Z" fill="#bcc2e6" fill-opacity="0.6"/>
<line x1="218.50" y1="234.00" x2="318.70" y2="253.10" stroke="#5159ab" stroke-width="0.75" />
<line x1="215.80" y1="192.90" x2="321.60" y2="192.90" stroke="#4d4d4d" stroke-width="0.9" />
<line x1="321.60" y1="192.90" x2="321.60" y2="294.40" stroke="#4d4d4d" stroke-width="0.9" />
<line x1="215.80" y1="192.45" x2="215.80" y2="294.95" stroke="#333" stroke-width="1.1" />
<line x1="215.25" y1="294.40" x2="322.05" y2="294.40" stroke="#333" stroke-width="1.1" />
<line x1="238.90" y1="294.40" x2="238.90" y2="297.30" stroke="#333" stroke-width="0.75" />
<line x1="265.60" y1="294.40" x2="265.60" y2="297.30" stroke="#333" stroke-width="0.75" />
<line x1="292.30" y1="294.40" x2="292.30" y2="297.30" stroke="#333" stroke-width="0.75" />
<line x1="319.00" y1="294.40" x2="319.00" y2="297.30" stroke="#333" stroke-width="0.75" />
<line x1="213.00" y1="196.40" x2="215.80" y2="196.40" stroke="#333" stroke-width="0.75" />
<line x1="213.00" y1="228.40" x2="215.80" y2="228.40" stroke="#333" stroke-width="0.75" />
<line x1="213.00" y1="260.40" x2="215.80" y2="260.40" stroke="#333" stroke-width="0.75" />
<line x1="213.00" y1="292.40" x2="215.80" y2="292.40" stroke="#333" stroke-width="0.75" />
<rect x="383.60" y="195.20" width="105.70" height="101.50" fill="#ffffff" stroke="none" stroke-width="0.6" />
<line x1="392.12" y1="195.20" x2="392.12" y2="296.70" stroke="#f2f2f2" stroke-width="0.55" />
<line x1="405.60" y1="195.20" x2="405.60" y2="296.70" stroke="#e6e6e6" stroke-width="0.55" />
<line x1="419.08" y1="195.20" x2="419.08" y2="296.70" stroke="#f2f2f2" stroke-width="0.55" />
<line x1="432.56" y1="195.20" x2="432.56" y2="296.70" stroke="#e6e6e6" stroke-width="0.55" />
<line x1="446.04" y1="195.20" x2="446.04" y2="296.70" stroke="#f2f2f2" stroke-width="0.55" />
<line x1="459.52" y1="195.20" x2="459.52" y2="296.70" stroke="#e6e6e6" stroke-width="0.55" />
<line x1="473.00" y1="195.20" x2="473.00" y2="296.70" stroke="#f2f2f2" stroke-width="0.55" />
<line x1="486.48" y1="195.20" x2="486.48" y2="296.70" stroke="#e6e6e6" stroke-width="0.55" />
<line x1="383.60" y1="288.48" x2="489.30" y2="288.48" stroke="#f2f2f2" stroke-width="0.55" />
<line x1="383.60" y1="280.15" x2="489.30" y2="280.15" stroke="#e6e6e6" stroke-width="0.55" />
<line x1="383.60" y1="271.83" x2="489.30" y2="271.83" stroke="#f2f2f2" stroke-width="0.55" />
<line x1="383.60" y1="263.50" x2="489.30" y2="263.50" stroke="#e6e6e6" stroke-width="0.55" />
<line x1="383.60" y1="255.18" x2="489.30" y2="255.18" stroke="#f2f2f2" stroke-width="0.55" />
<line x1="383.60" y1="246.85" x2="489.30" y2="246.85" stroke="#e6e6e6" stroke-width="0.55" />
<line x1="383.60" y1="238.53" x2="489.30" y2="238.53" stroke="#f2f2f2" stroke-width="0.55" />
<line x1="383.60" y1="230.20" x2="489.30" y2="230.20" stroke="#e6e6e6" stroke-width="0.55" />
<line x1="383.60" y1="221.88" x2="489.30" y2="221.88" stroke="#f2f2f2" stroke-width="0.55" />
<line x1="383.60" y1="213.55" x2="489.30" y2="213.55" stroke="#e6e6e6" stroke-width="0.55" />
<line x1="383.60" y1="205.23" x2="489.30" y2="205.23" stroke="#f2f2f2" stroke-width="0.55" />
<line x1="383.60" y1="196.90" x2="489.30" y2="196.90" stroke="#e6e6e6" stroke-width="0.55" />
<g fill="#8e8e8e" fill-opacity="0.7" stroke="#555" stroke-opacity="0.8" stroke-width="0.4">
<circle cx="447.8" cy="245.6" r="1.15"/>
<circle cx="429.7" cy="217.8" r="1.15"/>
<circle cx="450.5" cy="231.4" r="1.15"/>
<circle cx="437.8" cy="262.3" r="1.15"/>
<circle cx="434.8" cy="245.1" r="1.15"/>
<circle cx="435.2" cy="255.9" r="1.15"/>
<circle cx="472.0" cy="238.2" r="1.15"/>
<circle cx="431.9" cy="220.8" r="1.15"/>
<circle cx="453.5" cy="258.4" r="1.15"/>
<circle cx="425.3" cy="222.6" r="1.15"/>
<circle cx="420.2" cy="225.8" r="1.15"/>
<circle cx="433.1" cy="245.1" r="1.15"/>
<circle cx="451.0" cy="245.2" r="1.15"/>
<circle cx="448.1" cy="245.6" r="1.15"/>
<circle cx="445.3" cy="247.2" r="1.15"/>
<circle cx="425.8" cy="256.4" r="1.15"/>
<circle cx="429.5" cy="258.9" r="1.15"/>
<circle cx="413.5" cy="254.1" r="1.15"/>
<circle cx="439.2" cy="277.8" r="1.15"/>
<circle cx="425.2" cy="275.9" r="1.15"/>
<circle cx="424.0" cy="238.8" r="1.15"/>
<circle cx="427.8" cy="253.9" r="1.15"/>
<circle cx="428.7" cy="221.7" r="1.15"/>
<circle cx="440.3" cy="248.2" r="1.15"/>
<circle cx="456.0" cy="246.2" r="1.15"/>
<circle cx="421.5" cy="225.7" r="1.15"/>
<circle cx="423.8" cy="241.2" r="1.15"/>
<circle cx="451.1" cy="257.8" r="1.15"/>
<circle cx="428.2" cy="264.5" r="1.15"/>
<circle cx="466.4" cy="221.5" r="1.15"/>
<circle cx="459.3" cy="272.5" r="1.15"/>
<circle cx="433.3" cy="243.7" r="1.15"/>
<circle cx="451.8" cy="227.3" r="1.15"/>
<circle cx="438.2" cy="249.3" r="1.15"/>
<circle cx="431.1" cy="236.0" r="1.15"/>
<circle cx="423.4" cy="267.2" r="1.15"/>
<circle cx="423.8" cy="239.9" r="1.15"/>
<circle cx="421.0" cy="264.8" r="1.15"/>
<circle cx="466.9" cy="250.6" r="1.15"/>
<circle cx="430.0" cy="237.9" r="1.15"/>
<circle cx="420.3" cy="226.4" r="1.15"/>
<circle cx="434.9" cy="264.1" r="1.15"/>
<circle cx="420.6" cy="242.2" r="1.15"/>
<circle cx="424.6" cy="291.1" r="1.15"/>
<circle cx="451.2" cy="254.4" r="1.15"/>
<circle cx="431.1" cy="231.9" r="1.15"/>
<circle cx="432.5" cy="231.4" r="1.15"/>
<circle cx="437.9" cy="239.1" r="1.15"/>
<circle cx="421.3" cy="231.0" r="1.15"/>
<circle cx="417.7" cy="256.9" r="1.15"/>
<circle cx="429.7" cy="242.0" r="1.15"/>
<circle cx="432.0" cy="274.5" r="1.15"/>
<circle cx="434.2" cy="242.7" r="1.15"/>
<circle cx="427.1" cy="203.2" r="1.15"/>
<circle cx="438.5" cy="263.0" r="1.15"/>
<circle cx="450.6" cy="270.4" r="1.15"/>
<circle cx="455.7" cy="274.9" r="1.15"/>
<circle cx="405.5" cy="269.3" r="1.15"/>
<circle cx="398.6" cy="230.4" r="1.15"/>
<circle cx="439.7" cy="208.6" r="1.15"/>
<circle cx="429.6" cy="236.1" r="1.15"/>
<circle cx="419.6" cy="217.9" r="1.15"/>
<circle cx="431.5" cy="258.4" r="1.15"/>
<circle cx="447.0" cy="227.8" r="1.15"/>
<circle cx="454.6" cy="231.3" r="1.15"/>
<circle cx="461.8" cy="264.2" r="1.15"/>
<circle cx="444.5" cy="244.8" r="1.15"/>
<circle cx="455.0" cy="242.5" r="1.15"/>
<circle cx="453.1" cy="270.5" r="1.15"/>
<circle cx="426.7" cy="242.1" r="1.15"/>
<circle cx="428.8" cy="244.7" r="1.15"/>
<circle cx="432.2" cy="211.1" r="1.15"/>
<circle cx="455.2" cy="258.0" r="1.15"/>
<circle cx="397.9" cy="262.0" r="1.15"/>
<circle cx="427.7" cy="247.0" r="1.15"/>
<circle cx="444.8" cy="230.4" r="1.15"/>
<circle cx="443.0" cy="227.0" r="1.15"/>
<circle cx="442.1" cy="248.8" r="1.15"/>
<circle cx="450.0" cy="233.9" r="1.15"/>
<circle cx="421.7" cy="235.5" r="1.15"/>
<circle cx="466.1" cy="252.9" r="1.15"/>
<circle cx="435.2" cy="246.7" r="1.15"/>
<circle cx="412.7" cy="215.8" r="1.15"/>
<circle cx="425.6" cy="233.9" r="1.15"/>
<circle cx="447.1" cy="228.1" r="1.15"/>
<circle cx="450.1" cy="240.8" r="1.15"/>
<circle cx="446.5" cy="254.0" r="1.15"/>
<circle cx="451.8" cy="264.3" r="1.15"/>
<circle cx="432.2" cy="259.3" r="1.15"/>
<circle cx="452.1" cy="207.2" r="1.15"/>
<circle cx="421.8" cy="226.4" r="1.15"/>
<circle cx="425.2" cy="237.0" r="1.15"/>
<circle cx="422.4" cy="230.2" r="1.15"/>
<circle cx="443.1" cy="228.5" r="1.15"/>
<circle cx="415.7" cy="232.4" r="1.15"/>
<circle cx="434.5" cy="252.6" r="1.15"/>
<circle cx="444.0" cy="241.3" r="1.15"/>
<circle cx="426.2" cy="247.6" r="1.15"/>
<circle cx="435.3" cy="257.6" r="1.15"/>
<circle cx="447.6" cy="256.3" r="1.15"/>
<circle cx="419.4" cy="227.6" r="1.15"/>
<circle cx="429.9" cy="261.1" r="1.15"/>
<circle cx="432.1" cy="221.7" r="1.15"/>
<circle cx="413.0" cy="231.5" r="1.15"/>
<circle cx="414.9" cy="251.6" r="1.15"/>
<circle cx="468.7" cy="237.1" r="1.15"/>
<circle cx="387.8" cy="224.0" r="1.15"/>
<circle cx="430.4" cy="220.8" r="1.15"/>
<circle cx="433.0" cy="221.2" r="1.15"/>
<circle cx="452.9" cy="229.1" r="1.15"/>
<circle cx="403.4" cy="257.6" r="1.15"/>
<circle cx="421.9" cy="240.6" r="1.15"/>
<circle cx="442.8" cy="269.3" r="1.15"/>
<circle cx="439.4" cy="244.8" r="1.15"/>
<circle cx="461.6" cy="244.1" r="1.15"/>
<circle cx="426.5" cy="245.1" r="1.15"/>
<circle cx="438.2" cy="238.8" r="1.15"/>
<circle cx="412.4" cy="230.4" r="1.15"/>
<circle cx="450.5" cy="240.8" r="1.15"/>
<circle cx="436.6" cy="240.7" r="1.15"/>
<circle cx="432.1" cy="253.2" r="1.15"/>
<circle cx="418.6" cy="251.8" r="1.15"/>
<circle cx="411.4" cy="244.7" r="1.15"/>
<circle cx="449.8" cy="244.0" r="1.15"/>
<circle cx="430.7" cy="226.1" r="1.15"/>
<circle cx="440.3" cy="235.2" r="1.15"/>
<circle cx="420.2" cy="254.2" r="1.15"/>
<circle cx="404.8" cy="212.8" r="1.15"/>
<circle cx="467.1" cy="250.0" r="1.15"/>
<circle cx="441.7" cy="247.4" r="1.15"/>
<circle cx="391.4" cy="237.3" r="1.15"/>
<circle cx="400.3" cy="240.2" r="1.15"/>
<circle cx="410.2" cy="219.8" r="1.15"/>
<circle cx="477.6" cy="265.9" r="1.15"/>
<circle cx="438.5" cy="263.3" r="1.15"/>
<circle cx="429.1" cy="239.3" r="1.15"/>
<circle cx="414.4" cy="239.5" r="1.15"/>
<circle cx="415.6" cy="226.3" r="1.15"/>
<circle cx="448.0" cy="246.2" r="1.15"/>
<circle cx="389.5" cy="256.4" r="1.15"/>
<circle cx="425.8" cy="239.6" r="1.15"/>
<circle cx="427.1" cy="245.8" r="1.15"/>
<circle cx="423.9" cy="229.6" r="1.15"/>
<circle cx="445.7" cy="221.4" r="1.15"/>
<circle cx="439.2" cy="250.3" r="1.15"/>
<circle cx="424.2" cy="237.1" r="1.15"/>
<circle cx="446.3" cy="209.6" r="1.15"/>
<circle cx="421.0" cy="242.4" r="1.15"/>
<circle cx="451.1" cy="235.2" r="1.15"/>
<circle cx="426.0" cy="264.6" r="1.15"/>
<circle cx="418.7" cy="243.4" r="1.15"/>
<circle cx="433.6" cy="260.9" r="1.15"/>
<circle cx="416.3" cy="251.3" r="1.15"/>
<circle cx="428.2" cy="240.5" r="1.15"/>
<circle cx="424.7" cy="280.9" r="1.15"/>
<circle cx="408.0" cy="258.6" r="1.15"/>
<circle cx="461.5" cy="254.8" r="1.15"/>
<circle cx="454.7" cy="251.6" r="1.15"/>
<circle cx="434.4" cy="237.9" r="1.15"/>
<circle cx="434.9" cy="232.1" r="1.15"/>
<circle cx="421.5" cy="220.7" r="1.15"/>
<circle cx="439.8" cy="263.9" r="1.15"/>
<circle cx="423.1" cy="225.8" r="1.15"/>
<circle cx="442.5" cy="228.5" r="1.15"/>
<circle cx="444.3" cy="220.7" r="1.15"/>
<circle cx="434.0" cy="251.8" r="1.15"/>
<circle cx="421.6" cy="228.1" r="1.15"/>
<circle cx="434.6" cy="258.3" r="1.15"/>
<circle cx="429.3" cy="256.3" r="1.15"/>
<circle cx="419.4" cy="220.6" r="1.15"/>
<circle cx="428.7" cy="199.1" r="1.15"/>
<circle cx="427.5" cy="231.0" r="1.15"/>
<circle cx="419.4" cy="229.3" r="1.15"/>
<circle cx="431.3" cy="262.2" r="1.15"/>
<circle cx="462.1" cy="223.7" r="1.15"/>
<circle cx="415.6" cy="244.7" r="1.15"/>
<circle cx="422.9" cy="214.4" r="1.15"/>
<circle cx="428.2" cy="242.7" r="1.15"/>
<circle cx="438.2" cy="232.3" r="1.15"/>
<circle cx="433.7" cy="249.8" r="1.15"/>
<circle cx="430.8" cy="226.5" r="1.15"/>
<circle cx="410.2" cy="225.5" r="1.15"/>
<circle cx="417.5" cy="233.8" r="1.15"/>
<circle cx="463.4" cy="261.1" r="1.15"/>
<circle cx="435.3" cy="220.9" r="1.15"/>
<circle cx="433.4" cy="262.7" r="1.15"/>
<circle cx="427.5" cy="235.0" r="1.15"/>
<circle cx="449.3" cy="250.3" r="1.15"/>
<circle cx="448.2" cy="233.6" r="1.15"/>
<circle cx="443.4" cy="236.7" r="1.15"/>
<circle cx="452.4" cy="240.0" r="1.15"/>
<circle cx="441.0" cy="259.0" r="1.15"/>
<circle cx="429.0" cy="255.9" r="1.15"/>
<circle cx="437.3" cy="229.7" r="1.15"/>
<circle cx="459.9" cy="243.4" r="1.15"/>
<circle cx="459.2" cy="228.9" r="1.15"/>
<circle cx="445.0" cy="252.8" r="1.15"/>
<circle cx="427.9" cy="244.2" r="1.15"/>
<circle cx="443.8" cy="226.1" r="1.15"/>
<circle cx="435.6" cy="267.3" r="1.15"/>
<circle cx="424.2" cy="246.4" r="1.15"/>
<circle cx="428.4" cy="253.1" r="1.15"/>
<circle cx="438.8" cy="242.4" r="1.15"/>
<circle cx="414.3" cy="241.6" r="1.15"/>
<circle cx="441.5" cy="248.7" r="1.15"/>
<circle cx="438.0" cy="252.8" r="1.15"/>
<circle cx="437.0" cy="255.2" r="1.15"/>
<circle cx="443.4" cy="260.7" r="1.15"/>
<circle cx="418.3" cy="239.7" r="1.15"/>
<circle cx="439.4" cy="219.7" r="1.15"/>
<circle cx="419.4" cy="255.9" r="1.15"/>
<circle cx="461.7" cy="233.7" r="1.15"/>
<circle cx="432.0" cy="221.2" r="1.15"/>
<circle cx="425.2" cy="218.5" r="1.15"/>
<circle cx="432.2" cy="251.5" r="1.15"/>
<circle cx="428.9" cy="271.4" r="1.15"/>
<circle cx="389.7" cy="236.3" r="1.15"/>
<circle cx="445.5" cy="231.7" r="1.15"/>
<circle cx="431.4" cy="236.4" r="1.15"/>
<circle cx="418.2" cy="254.2" r="1.15"/>
<circle cx="437.8" cy="263.4" r="1.15"/>
<circle cx="442.9" cy="249.9" r="1.15"/>
<circle cx="393.1" cy="244.2" r="1.15"/>
<circle cx="438.3" cy="201.5" r="1.15"/>
<circle cx="434.0" cy="240.2" r="1.15"/>
<circle cx="414.4" cy="230.9" r="1.15"/>
<circle cx="432.0" cy="237.3" r="1.15"/>
<circle cx="422.8" cy="229.1" r="1.15"/>
<circle cx="437.6" cy="254.7" r="1.15"/>
<circle cx="451.1" cy="252.7" r="1.15"/>
<circle cx="447.3" cy="283.7" r="1.15"/>
<circle cx="426.4" cy="245.1" r="1.15"/>
<circle cx="435.7" cy="248.5" r="1.15"/>
<circle cx="433.6" cy="284.9" r="1.15"/>
<circle cx="450.5" cy="236.5" r="1.15"/>
<circle cx="458.6" cy="234.4" r="1.15"/>
<circle cx="428.7" cy="238.1" r="1.15"/>
<circle cx="439.2" cy="207.3" r="1.15"/>
<circle cx="389.9" cy="256.0" r="1.15"/>
<circle cx="444.8" cy="214.2" r="1.15"/>
<circle cx="446.7" cy="219.0" r="1.15"/>
<circle cx="433.9" cy="241.7" r="1.15"/>
<circle cx="437.2" cy="243.4" r="1.15"/>
<circle cx="470.7" cy="237.8" r="1.15"/>
<circle cx="459.4" cy="237.1" r="1.15"/>
<circle cx="444.5" cy="221.5" r="1.15"/>
<circle cx="420.4" cy="245.8" r="1.15"/>
<circle cx="407.9" cy="218.4" r="1.15"/>
<circle cx="445.6" cy="235.6" r="1.15"/>
<circle cx="449.8" cy="241.7" r="1.15"/>
<circle cx="443.2" cy="267.3" r="1.15"/>
<circle cx="432.0" cy="259.3" r="1.15"/>
<circle cx="432.1" cy="248.7" r="1.15"/>
<circle cx="413.9" cy="215.2" r="1.15"/>
<circle cx="427.0" cy="293.2" r="1.15"/>
<circle cx="446.1" cy="247.9" r="1.15"/>
<circle cx="429.2" cy="241.5" r="1.15"/>
<circle cx="430.9" cy="254.6" r="1.15"/>
<circle cx="422.5" cy="258.3" r="1.15"/>
<circle cx="426.2" cy="234.5" r="1.15"/>
<circle cx="416.6" cy="225.6" r="1.15"/>
<circle cx="465.8" cy="224.4" r="1.15"/>
<circle cx="432.0" cy="266.9" r="1.15"/>
<circle cx="449.3" cy="260.4" r="1.15"/>
<circle cx="439.4" cy="225.8" r="1.15"/>
<circle cx="439.8" cy="247.7" r="1.15"/>
<circle cx="469.7" cy="253.2" r="1.15"/>
<circle cx="432.9" cy="256.5" r="1.15"/>
<circle cx="462.2" cy="255.0" r="1.15"/>
<circle cx="464.2" cy="252.9" r="1.15"/>
<circle cx="463.1" cy="239.2" r="1.15"/>
<circle cx="437.6" cy="221.6" r="1.15"/>
<circle cx="437.2" cy="250.0" r="1.15"/>
<circle cx="437.8" cy="242.2" r="1.15"/>
<circle cx="457.0" cy="271.1" r="1.15"/>
<circle cx="422.8" cy="233.4" r="1.15"/>
<circle cx="429.8" cy="228.1" r="1.15"/>
<circle cx="445.8" cy="254.3" r="1.15"/>
<circle cx="427.8" cy="229.9" r="1.15"/>
<circle cx="429.1" cy="242.5" r="1.15"/>
<circle cx="425.3" cy="239.7" r="1.15"/>
<circle cx="432.7" cy="238.6" r="1.15"/>
<circle cx="438.9" cy="265.7" r="1.15"/>
<circle cx="441.6" cy="235.0" r="1.15"/>
<circle cx="402.4" cy="249.6" r="1.15"/>
<circle cx="416.4" cy="233.8" r="1.15"/>
<circle cx="454.9" cy="240.5" r="1.15"/>
<circle cx="442.6" cy="214.9" r="1.15"/>
<circle cx="419.6" cy="227.8" r="1.15"/>
<circle cx="391.7" cy="248.3" r="1.15"/>
<circle cx="456.3" cy="265.8" r="1.15"/>
<circle cx="424.0" cy="237.2" r="1.15"/>
<circle cx="432.2" cy="253.5" r="1.15"/>
<circle cx="420.0" cy="247.5" r="1.15"/>
<circle cx="445.3" cy="233.3" r="1.15"/>
<circle cx="434.3" cy="215.2" r="1.15"/>
<circle cx="429.2" cy="257.2" r="1.15"/>
<circle cx="432.0" cy="231.2" r="1.15"/>
<circle cx="411.1" cy="218.6" r="1.15"/>
<circle cx="432.8" cy="218.3" r="1.15"/>
<circle cx="425.3" cy="224.6" r="1.15"/>
<circle cx="431.3" cy="253.8" r="1.15"/>
<circle cx="406.7" cy="215.8" r="1.15"/>
<circle cx="418.5" cy="267.0" r="1.15"/>
<circle cx="447.1" cy="204.8" r="1.15"/>
<circle cx="422.4" cy="229.0" r="1.15"/>
<circle cx="443.4" cy="233.0" r="1.15"/>
<circle cx="446.1" cy="211.9" r="1.15"/>
<circle cx="449.7" cy="229.9" r="1.15"/>
<circle cx="438.9" cy="241.6" r="1.15"/>
<circle cx="417.8" cy="222.6" r="1.15"/>
<circle cx="452.7" cy="219.5" r="1.15"/>
<circle cx="419.2" cy="221.8" r="1.15"/>
<circle cx="432.8" cy="251.3" r="1.15"/>
<circle cx="423.7" cy="231.4" r="1.15"/>
<circle cx="424.6" cy="214.2" r="1.15"/>
<circle cx="445.9" cy="244.3" r="1.15"/>
<circle cx="459.6" cy="253.9" r="1.15"/>
<circle cx="425.7" cy="269.9" r="1.15"/>
<circle cx="449.8" cy="258.8" r="1.15"/>
<circle cx="439.3" cy="262.1" r="1.15"/>
<circle cx="431.7" cy="239.0" r="1.15"/>
<circle cx="417.2" cy="233.7" r="1.15"/>
<circle cx="450.0" cy="255.8" r="1.15"/>
<circle cx="414.8" cy="212.5" r="1.15"/>
<circle cx="417.5" cy="265.1" r="1.15"/>
<circle cx="461.4" cy="227.9" r="1.15"/>
<circle cx="448.0" cy="257.6" r="1.15"/>
<circle cx="432.9" cy="245.5" r="1.15"/>
<circle cx="462.6" cy="269.4" r="1.15"/>
<circle cx="447.1" cy="262.1" r="1.15"/>
<circle cx="442.6" cy="253.1" r="1.15"/>
<circle cx="417.3" cy="209.5" r="1.15"/>
<circle cx="439.2" cy="271.4" r="1.15"/>
<circle cx="438.7" cy="261.2" r="1.15"/>
<circle cx="439.5" cy="227.7" r="1.15"/>
<circle cx="431.0" cy="257.9" r="1.15"/>
<circle cx="431.0" cy="258.1" r="1.15"/>
<circle cx="443.1" cy="248.8" r="1.15"/>
<circle cx="443.8" cy="224.0" r="1.15"/>
<circle cx="438.1" cy="258.2" r="1.15"/>
<circle cx="388.8" cy="207.1" r="1.15"/>
<circle cx="432.6" cy="244.6" r="1.15"/>
<circle cx="440.1" cy="237.0" r="1.15"/>
<circle cx="437.5" cy="238.1" r="1.15"/>
<circle cx="412.3" cy="276.1" r="1.15"/>
<circle cx="434.5" cy="249.3" r="1.15"/>
<circle cx="463.7" cy="204.4" r="1.15"/>
<circle cx="431.2" cy="240.5" r="1.15"/>
<circle cx="439.9" cy="200.5" r="1.15"/>
<circle cx="443.8" cy="240.5" r="1.15"/>
<circle cx="418.3" cy="242.6" r="1.15"/>
<circle cx="414.2" cy="260.4" r="1.15"/>
<circle cx="432.2" cy="251.6" r="1.15"/>
<circle cx="457.1" cy="238.2" r="1.15"/>
<circle cx="432.1" cy="292.2" r="1.15"/>
<circle cx="418.8" cy="250.8" r="1.15"/>
<circle cx="414.1" cy="230.7" r="1.15"/>
<circle cx="476.7" cy="279.8" r="1.15"/>
<circle cx="444.8" cy="273.1" r="1.15"/>
<circle cx="457.8" cy="220.2" r="1.15"/>
<circle cx="422.3" cy="235.1" r="1.15"/>
<circle cx="442.5" cy="206.3" r="1.15"/>
<circle cx="434.4" cy="247.5" r="1.15"/>
<circle cx="431.3" cy="228.9" r="1.15"/>
<circle cx="451.0" cy="262.0" r="1.15"/>
<circle cx="451.2" cy="240.4" r="1.15"/>
<circle cx="425.0" cy="249.9" r="1.15"/>
<circle cx="462.0" cy="247.3" r="1.15"/>
<circle cx="426.4" cy="215.5" r="1.15"/>
<circle cx="455.7" cy="270.1" r="1.15"/>
<circle cx="447.7" cy="256.8" r="1.15"/>
<circle cx="424.9" cy="219.9" r="1.15"/>
<circle cx="427.2" cy="221.5" r="1.15"/>
<circle cx="409.0" cy="258.6" r="1.15"/>
<circle cx="429.3" cy="256.9" r="1.15"/>
<circle cx="434.2" cy="236.6" r="1.15"/>
<circle cx="422.4" cy="264.3" r="1.15"/>
<circle cx="442.9" cy="254.4" r="1.15"/>
<circle cx="430.5" cy="244.4" r="1.15"/>
<circle cx="432.7" cy="255.1" r="1.15"/>
<circle cx="437.9" cy="248.7" r="1.15"/>
<circle cx="436.2" cy="222.4" r="1.15"/>
<circle cx="432.5" cy="259.9" r="1.15"/>
<circle cx="422.5" cy="211.0" r="1.15"/>
<circle cx="429.5" cy="253.8" r="1.15"/>
<circle cx="414.5" cy="267.3" r="1.15"/>
<circle cx="438.8" cy="259.1" r="1.15"/>
<circle cx="431.8" cy="205.6" r="1.15"/>
<circle cx="410.3" cy="276.6" r="1.15"/>
<circle cx="451.0" cy="247.1" r="1.15"/>
<circle cx="424.8" cy="230.7" r="1.15"/>
<circle cx="397.7" cy="262.6" r="1.15"/>
<circle cx="456.2" cy="246.3" r="1.15"/>
<circle cx="437.6" cy="277.3" r="1.15"/>
<circle cx="438.8" cy="250.5" r="1.15"/>
<circle cx="434.9" cy="250.8" r="1.15"/>
<circle cx="462.1" cy="245.8" r="1.15"/>
<circle cx="435.5" cy="242.3" r="1.15"/>
<circle cx="462.4" cy="240.9" r="1.15"/>
<circle cx="430.8" cy="204.5" r="1.15"/>
<circle cx="435.6" cy="215.1" r="1.15"/>
<circle cx="407.5" cy="210.1" r="1.15"/>
<circle cx="409.4" cy="250.3" r="1.15"/>
<circle cx="453.6" cy="236.5" r="1.15"/>
<circle cx="434.9" cy="242.8" r="1.15"/>
<circle cx="435.1" cy="242.1" r="1.15"/>
<circle cx="437.7" cy="268.6" r="1.15"/>
<circle cx="439.2" cy="240.6" r="1.15"/>
<circle cx="439.5" cy="218.8" r="1.15"/>
<circle cx="413.3" cy="235.0" r="1.15"/>
<circle cx="423.1" cy="212.5" r="1.15"/>
<circle cx="453.6" cy="252.6" r="1.15"/>
<circle cx="446.7" cy="223.8" r="1.15"/>
<circle cx="424.1" cy="222.7" r="1.15"/>
<circle cx="439.1" cy="275.8" r="1.15"/>
<circle cx="429.0" cy="223.0" r="1.15"/>
<circle cx="426.0" cy="248.9" r="1.15"/>
<circle cx="436.8" cy="240.6" r="1.15"/>
<circle cx="428.7" cy="202.9" r="1.15"/>
</g>
<path d="M386.00,229.70 Q436.00,243.70 486.00,248.50 L486.00,256.10 Q436.00,242.10 386.00,237.30 Z" fill="#bcc2e6" fill-opacity="0.6"/>
<line x1="386.00" y1="233.50" x2="486.00" y2="252.30" stroke="#5159ab" stroke-width="0.75" />
<line x1="383.60" y1="195.20" x2="489.30" y2="195.20" stroke="#4d4d4d" stroke-width="0.9" />
<line x1="489.30" y1="195.20" x2="489.30" y2="296.70" stroke="#4d4d4d" stroke-width="0.9" />
<line x1="383.60" y1="194.75" x2="383.60" y2="297.25" stroke="#333" stroke-width="1.1" />
<line x1="383.05" y1="296.70" x2="489.75" y2="296.70" stroke="#333" stroke-width="1.1" />
<line x1="405.60" y1="296.70" x2="405.60" y2="299.60" stroke="#333" stroke-width="0.75" />
<line x1="432.56" y1="296.70" x2="432.56" y2="299.60" stroke="#333" stroke-width="0.75" />
<line x1="459.52" y1="296.70" x2="459.52" y2="299.60" stroke="#333" stroke-width="0.75" />
<line x1="486.48" y1="296.70" x2="486.48" y2="299.60" stroke="#333" stroke-width="0.75" />
<line x1="380.80" y1="196.90" x2="383.60" y2="196.90" stroke="#333" stroke-width="0.75" />
<line x1="380.80" y1="213.55" x2="383.60" y2="213.55" stroke="#333" stroke-width="0.75" />
<line x1="380.80" y1="230.20" x2="383.60" y2="230.20" stroke="#333" stroke-width="0.75" />
<line x1="380.80" y1="246.85" x2="383.60" y2="246.85" stroke="#333" stroke-width="0.75" />
<line x1="380.80" y1="263.50" x2="383.60" y2="263.50" stroke="#333" stroke-width="0.75" />
<line x1="380.80" y1="280.15" x2="383.60" y2="280.15" stroke="#333" stroke-width="0.75" />
<line x1="380.80" y1="296.80" x2="383.60" y2="296.80" stroke="#333" stroke-width="0.75" />
<rect x="43.90" y="345.30" width="109.00" height="102.60" fill="#ffffff" stroke="none" stroke-width="0.6" />
<line x1="53.05" y1="345.30" x2="53.05" y2="447.90" stroke="#f2f2f2" stroke-width="0.55" />
<line x1="66.90" y1="345.30" x2="66.90" y2="447.90" stroke="#e6e6e6" stroke-width="0.55" />
<line x1="80.75" y1="345.30" x2="80.75" y2="447.90" stroke="#f2f2f2" stroke-width="0.55" />
<line x1="94.60" y1="345.30" x2="94.60" y2="447.90" stroke="#e6e6e6" stroke-width="0.55" />
<line x1="108.45" y1="345.30" x2="108.45" y2="447.90" stroke="#f2f2f2" stroke-width="0.55" />
<line x1="122.30" y1="345.30" x2="122.30" y2="447.90" stroke="#e6e6e6" stroke-width="0.55" />
<line x1="136.15" y1="345.30" x2="136.15" y2="447.90" stroke="#f2f2f2" stroke-width="0.55" />
<line x1="150.00" y1="345.30" x2="150.00" y2="447.90" stroke="#e6e6e6" stroke-width="0.55" />
<line x1="43.90" y1="445.90" x2="152.90" y2="445.90" stroke="#e6e6e6" stroke-width="0.55" />
<line x1="43.90" y1="432.50" x2="152.90" y2="432.50" stroke="#f2f2f2" stroke-width="0.55" />
<line x1="43.90" y1="419.10" x2="152.90" y2="419.10" stroke="#e6e6e6" stroke-width="0.55" />
<line x1="43.90" y1="405.70" x2="152.90" y2="405.70" stroke="#f2f2f2" stroke-width="0.55" />
<line x1="43.90" y1="392.30" x2="152.90" y2="392.30" stroke="#e6e6e6" stroke-width="0.55" />
<line x1="43.90" y1="378.90" x2="152.90" y2="378.90" stroke="#f2f2f2" stroke-width="0.55" />
<line x1="43.90" y1="365.50" x2="152.90" y2="365.50" stroke="#e6e6e6" stroke-width="0.55" />
<line x1="43.90" y1="352.10" x2="152.90" y2="352.10" stroke="#f2f2f2" stroke-width="0.55" />
<g fill="#8e8e8e" fill-opacity="0.7" stroke="#555" stroke-opacity="0.8" stroke-width="0.4">
<circle cx="91.8" cy="383.9" r="1.15"/>
<circle cx="97.1" cy="377.9" r="1.15"/>
<circle cx="85.3" cy="377.4" r="1.15"/>
<circle cx="110.8" cy="359.2" r="1.15"/>
<circle cx="82.0" cy="413.4" r="1.15"/>
<circle cx="82.4" cy="383.0" r="1.15"/>
<circle cx="91.1" cy="367.1" r="1.15"/>
<circle cx="92.4" cy="372.4" r="1.15"/>
<circle cx="108.4" cy="378.5" r="1.15"/>
<circle cx="92.0" cy="367.7" r="1.15"/>
<circle cx="110.8" cy="378.1" r="1.15"/>
<circle cx="90.3" cy="374.2" r="1.15"/>
<circle cx="86.3" cy="357.5" r="1.15"/>
<circle cx="94.7" cy="419.0" r="1.15"/>
<circle cx="118.4" cy="378.4" r="1.15"/>
<circle cx="87.5" cy="390.8" r="1.15"/>
<circle cx="59.9" cy="382.8" r="1.15"/>
<circle cx="104.6" cy="402.6" r="1.15"/>
<circle cx="82.5" cy="380.7" r="1.15"/>
<circle cx="110.7" cy="388.4" r="1.15"/>
<circle cx="74.3" cy="384.9" r="1.15"/>
<circle cx="121.2" cy="372.5" r="1.15"/>
<circle cx="83.3" cy="393.6" r="1.15"/>
<circle cx="94.1" cy="370.0" r="1.15"/>
<circle cx="79.0" cy="370.0" r="1.15"/>
<circle cx="84.2" cy="385.4" r="1.15"/>
<circle cx="92.5" cy="437.3" r="1.15"/>
<circle cx="67.9" cy="370.8" r="1.15"/>
<circle cx="83.9" cy="368.9" r="1.15"/>
<circle cx="72.7" cy="388.8" r="1.15"/>
<circle cx="101.1" cy="364.6" r="1.15"/>
<circle cx="116.7" cy="368.5" r="1.15"/>
<circle cx="90.5" cy="368.5" r="1.15"/>
<circle cx="90.6" cy="364.6" r="1.15"/>
<circle cx="107.6" cy="372.1" r="1.15"/>
<circle cx="93.1" cy="375.5" r="1.15"/>
<circle cx="91.2" cy="373.9" r="1.15"/>
<circle cx="92.8" cy="399.9" r="1.15"/>
<circle cx="82.5" cy="360.2" r="1.15"/>
<circle cx="90.8" cy="372.8" r="1.15"/>
<circle cx="99.5" cy="378.3" r="1.15"/>
<circle cx="108.5" cy="397.8" r="1.15"/>
<circle cx="83.3" cy="368.7" r="1.15"/>
<circle cx="79.0" cy="362.6" r="1.15"/>
<circle cx="102.9" cy="357.4" r="1.15"/>
<circle cx="108.6" cy="390.9" r="1.15"/>
<circle cx="106.5" cy="379.7" r="1.15"/>
<circle cx="103.5" cy="380.8" r="1.15"/>
<circle cx="88.2" cy="391.0" r="1.15"/>
<circle cx="79.8" cy="386.6" r="1.15"/>
<circle cx="100.9" cy="396.2" r="1.15"/>
<circle cx="109.5" cy="374.9" r="1.15"/>
<circle cx="95.2" cy="395.4" r="1.15"/>
<circle cx="91.0" cy="396.7" r="1.15"/>
<circle cx="78.8" cy="377.5" r="1.15"/>
<circle cx="87.3" cy="385.6" r="1.15"/>
<circle cx="91.5" cy="395.5" r="1.15"/>
<circle cx="103.1" cy="372.8" r="1.15"/>
<circle cx="105.5" cy="394.1" r="1.15"/>
<circle cx="77.1" cy="385.1" r="1.15"/>
<circle cx="86.4" cy="381.5" r="1.15"/>
<circle cx="104.0" cy="367.8" r="1.15"/>
<circle cx="78.3" cy="400.0" r="1.15"/>
<circle cx="116.5" cy="367.0" r="1.15"/>
<circle cx="96.6" cy="377.6" r="1.15"/>
<circle cx="83.1" cy="379.6" r="1.15"/>
<circle cx="97.1" cy="360.1" r="1.15"/>
<circle cx="96.9" cy="394.7" r="1.15"/>
<circle cx="94.4" cy="381.1" r="1.15"/>
<circle cx="81.5" cy="369.0" r="1.15"/>
<circle cx="71.3" cy="381.4" r="1.15"/>
<circle cx="95.2" cy="367.7" r="1.15"/>
<circle cx="98.3" cy="400.8" r="1.15"/>
<circle cx="85.8" cy="410.0" r="1.15"/>
<circle cx="87.9" cy="376.1" r="1.15"/>
<circle cx="107.7" cy="384.1" r="1.15"/>
<circle cx="98.5" cy="360.7" r="1.15"/>
<circle cx="108.1" cy="379.2" r="1.15"/>
<circle cx="81.1" cy="374.5" r="1.15"/>
<circle cx="111.1" cy="372.8" r="1.15"/>
<circle cx="112.7" cy="366.6" r="1.15"/>
<circle cx="84.6" cy="446.5" r="1.15"/>
<circle cx="82.2" cy="378.0" r="1.15"/>
<circle cx="108.5" cy="373.4" r="1.15"/>
<circle cx="108.6" cy="370.9" r="1.15"/>
<circle cx="111.8" cy="376.6" r="1.15"/>
<circle cx="85.9" cy="383.5" r="1.15"/>
<circle cx="114.4" cy="394.7" r="1.15"/>
<circle cx="105.5" cy="375.4" r="1.15"/>
<circle cx="90.5" cy="403.8" r="1.15"/>
<circle cx="100.3" cy="383.3" r="1.15"/>
<circle cx="94.4" cy="402.5" r="1.15"/>
<circle cx="93.4" cy="399.4" r="1.15"/>
<circle cx="95.3" cy="400.6" r="1.15"/>
<circle cx="69.9" cy="382.3" r="1.15"/>
<circle cx="67.2" cy="400.0" r="1.15"/>
<circle cx="99.1" cy="362.1" r="1.15"/>
<circle cx="120.2" cy="398.6" r="1.15"/>
<circle cx="136.2" cy="416.0" r="1.15"/>
<circle cx="101.4" cy="390.2" r="1.15"/>
<circle cx="111.9" cy="386.7" r="1.15"/>
<circle cx="93.9" cy="380.4" r="1.15"/>
<circle cx="118.8" cy="354.9" r="1.15"/>
<circle cx="105.5" cy="378.2" r="1.15"/>
<circle cx="89.9" cy="378.2" r="1.15"/>
<circle cx="105.1" cy="392.6" r="1.15"/>
<circle cx="107.0" cy="400.3" r="1.15"/>
<circle cx="79.6" cy="400.5" r="1.15"/>
<circle cx="82.3" cy="375.4" r="1.15"/>
<circle cx="143.6" cy="403.8" r="1.15"/>
<circle cx="93.2" cy="374.1" r="1.15"/>
<circle cx="86.9" cy="382.3" r="1.15"/>
<circle cx="78.7" cy="364.8" r="1.15"/>
<circle cx="85.4" cy="376.5" r="1.15"/>
<circle cx="98.3" cy="361.5" r="1.15"/>
<circle cx="90.0" cy="383.4" r="1.15"/>
<circle cx="98.9" cy="376.9" r="1.15"/>
<circle cx="102.0" cy="370.1" r="1.15"/>
<circle cx="94.5" cy="383.5" r="1.15"/>
<circle cx="87.3" cy="395.4" r="1.15"/>
<circle cx="104.6" cy="376.7" r="1.15"/>
<circle cx="73.0" cy="387.1" r="1.15"/>
<circle cx="92.4" cy="360.1" r="1.15"/>
<circle cx="117.5" cy="399.6" r="1.15"/>
<circle cx="115.0" cy="387.7" r="1.15"/>
<circle cx="77.9" cy="392.8" r="1.15"/>
<circle cx="97.9" cy="364.9" r="1.15"/>
<circle cx="96.1" cy="372.7" r="1.15"/>
<circle cx="122.1" cy="386.9" r="1.15"/>
<circle cx="90.5" cy="362.7" r="1.15"/>
<circle cx="71.7" cy="393.7" r="1.15"/>
<circle cx="89.3" cy="359.6" r="1.15"/>
<circle cx="100.1" cy="404.4" r="1.15"/>
<circle cx="112.0" cy="366.1" r="1.15"/>
<circle cx="79.6" cy="383.0" r="1.15"/>
<circle cx="107.5" cy="388.1" r="1.15"/>
<circle cx="99.1" cy="390.5" r="1.15"/>
<circle cx="86.3" cy="387.9" r="1.15"/>
<circle cx="103.4" cy="379.2" r="1.15"/>
<circle cx="114.8" cy="388.6" r="1.15"/>
<circle cx="104.2" cy="416.2" r="1.15"/>
<circle cx="93.7" cy="393.7" r="1.15"/>
<circle cx="103.3" cy="378.9" r="1.15"/>
<circle cx="92.2" cy="396.5" r="1.15"/>
<circle cx="89.1" cy="379.0" r="1.15"/>
<circle cx="65.7" cy="386.3" r="1.15"/>
<circle cx="106.0" cy="382.0" r="1.15"/>
<circle cx="98.6" cy="358.4" r="1.15"/>
<circle cx="80.1" cy="410.9" r="1.15"/>
<circle cx="67.5" cy="370.2" r="1.15"/>
<circle cx="65.7" cy="390.8" r="1.15"/>
<circle cx="80.5" cy="372.9" r="1.15"/>
<circle cx="104.5" cy="403.5" r="1.15"/>
<circle cx="117.5" cy="405.4" r="1.15"/>
<circle cx="91.1" cy="378.4" r="1.15"/>
<circle cx="106.9" cy="390.2" r="1.15"/>
<circle cx="102.3" cy="385.6" r="1.15"/>
<circle cx="97.5" cy="397.7" r="1.15"/>
<circle cx="105.6" cy="404.5" r="1.15"/>
<circle cx="119.4" cy="377.4" r="1.15"/>
<circle cx="92.8" cy="368.1" r="1.15"/>
<circle cx="94.3" cy="375.0" r="1.15"/>
<circle cx="87.8" cy="379.6" r="1.15"/>
<circle cx="80.5" cy="364.5" r="1.15"/>
<circle cx="59.9" cy="379.1" r="1.15"/>
<circle cx="93.8" cy="389.4" r="1.15"/>
<circle cx="73.1" cy="382.3" r="1.15"/>
<circle cx="110.6" cy="387.5" r="1.15"/>
<circle cx="90.0" cy="400.7" r="1.15"/>
<circle cx="82.4" cy="362.5" r="1.15"/>
<circle cx="119.3" cy="377.7" r="1.15"/>
<circle cx="99.0" cy="391.1" r="1.15"/>
<circle cx="117.6" cy="387.1" r="1.15"/>
<circle cx="103.5" cy="377.9" r="1.15"/>
<circle cx="99.5" cy="368.0" r="1.15"/>
<circle cx="94.2" cy="371.5" r="1.15"/>
<circle cx="96.7" cy="407.2" r="1.15"/>
<circle cx="109.1" cy="395.8" r="1.15"/>
<circle cx="110.1" cy="379.5" r="1.15"/>
<circle cx="95.5" cy="388.5" r="1.15"/>
<circle cx="99.2" cy="389.3" r="1.15"/>
<circle cx="93.0" cy="393.6" r="1.15"/>
<circle cx="89.6" cy="377.5" r="1.15"/>
<circle cx="92.4" cy="417.6" r="1.15"/>
<circle cx="119.5" cy="405.2" r="1.15"/>
<circle cx="84.5" cy="396.7" r="1.15"/>
<circle cx="112.1" cy="383.9" r="1.15"/>
<circle cx="112.5" cy="381.9" r="1.15"/>
<circle cx="115.6" cy="387.7" r="1.15"/>
<circle cx="100.7" cy="382.9" r="1.15"/>
<circle cx="92.3" cy="438.2" r="1.15"/>
<circle cx="97.6" cy="380.1" r="1.15"/>
<circle cx="145.1" cy="403.8" r="1.15"/>
<circle cx="90.9" cy="368.5" r="1.15"/>
<circle cx="73.7" cy="379.7" r="1.15"/>
<circle cx="106.9" cy="406.2" r="1.15"/>
<circle cx="110.6" cy="382.0" r="1.15"/>
<circle cx="84.2" cy="396.3" r="1.15"/>
<circle cx="114.9" cy="382.4" r="1.15"/>
<circle cx="99.6" cy="353.0" r="1.15"/>
<circle cx="65.4" cy="369.0" r="1.15"/>
<circle cx="79.1" cy="357.7" r="1.15"/>
<circle cx="89.1" cy="385.1" r="1.15"/>
<circle cx="93.5" cy="374.9" r="1.15"/>
<circle cx="87.9" cy="379.4" r="1.15"/>
<circle cx="117.2" cy="395.7" r="1.15"/>
<circle cx="94.5" cy="391.9" r="1.15"/>
<circle cx="92.8" cy="370.7" r="1.15"/>
<circle cx="89.6" cy="380.2" r="1.15"/>
<circle cx="67.7" cy="403.3" r="1.15"/>
<circle cx="103.7" cy="380.6" r="1.15"/>
<circle cx="79.4" cy="385.1" r="1.15"/>
<circle cx="110.1" cy="382.8" r="1.15"/>
<circle cx="93.6" cy="389.6" r="1.15"/>
<circle cx="127.0" cy="393.5" r="1.15"/>
<circle cx="92.7" cy="409.6" r="1.15"/>
<circle cx="118.7" cy="404.2" r="1.15"/>
<circle cx="90.1" cy="408.1" r="1.15"/>
<circle cx="105.0" cy="381.6" r="1.15"/>
<circle cx="48.9" cy="374.4" r="1.15"/>
<circle cx="114.9" cy="351.6" r="1.15"/>
<circle cx="123.9" cy="390.5" r="1.15"/>
<circle cx="100.3" cy="351.8" r="1.15"/>
<circle cx="90.6" cy="375.1" r="1.15"/>
<circle cx="84.8" cy="363.2" r="1.15"/>
<circle cx="62.0" cy="352.0" r="1.15"/>
<circle cx="103.7" cy="383.5" r="1.15"/>
<circle cx="92.8" cy="411.3" r="1.15"/>
<circle cx="102.7" cy="403.8" r="1.15"/>
<circle cx="84.5" cy="380.3" r="1.15"/>
<circle cx="113.2" cy="401.9" r="1.15"/>
<circle cx="84.9" cy="358.8" r="1.15"/>
<circle cx="97.3" cy="386.8" r="1.15"/>
<circle cx="93.5" cy="372.9" r="1.15"/>
<circle cx="79.7" cy="387.2" r="1.15"/>
<circle cx="96.9" cy="377.0" r="1.15"/>
<circle cx="117.9" cy="398.1" r="1.15"/>
<circle cx="90.9" cy="360.4" r="1.15"/>
<circle cx="77.7" cy="401.8" r="1.15"/>
<circle cx="87.3" cy="392.1" r="1.15"/>
<circle cx="103.7" cy="402.2" r="1.15"/>
<circle cx="78.0" cy="371.9" r="1.15"/>
<circle cx="90.0" cy="387.2" r="1.15"/>
<circle cx="96.9" cy="377.4" r="1.15"/>
<circle cx="112.6" cy="349.1" r="1.15"/>
<circle cx="98.2" cy="391.6" r="1.15"/>
<circle cx="97.7" cy="382.0" r="1.15"/>
<circle cx="72.1" cy="369.8" r="1.15"/>
<circle cx="110.3" cy="380.0" r="1.15"/>
<circle cx="96.6" cy="391.1" r="1.15"/>
<circle cx="53.9" cy="388.5" r="1.15"/>
<circle cx="82.6" cy="386.2" r="1.15"/>
<circle cx="76.2" cy="381.4" r="1.15"/>
<circle cx="76.2" cy="385.7" r="1.15"/>
<circle cx="106.0" cy="387.7" r="1.15"/>
<circle cx="90.5" cy="386.8" r="1.15"/>
<circle cx="113.9" cy="390.7" r="1.15"/>
<circle cx="101.8" cy="401.4" r="1.15"/>
<circle cx="99.4" cy="363.5" r="1.15"/>
<circle cx="97.5" cy="415.0" r="1.15"/>
<circle cx="85.7" cy="381.1" r="1.15"/>
<circle cx="86.3" cy="408.6" r="1.15"/>
<circle cx="80.0" cy="382.2" r="1.15"/>
<circle cx="107.2" cy="372.9" r="1.15"/>
<circle cx="129.5" cy="395.1" r="1.15"/>
<circle cx="103.5" cy="378.2" r="1.15"/>
<circle cx="82.3" cy="375.6" r="1.15"/>
<circle cx="124.3" cy="373.5" r="1.15"/>
<circle cx="70.4" cy="392.3" r="1.15"/>
<circle cx="88.2" cy="390.2" r="1.15"/>
<circle cx="84.4" cy="359.3" r="1.15"/>
<circle cx="75.9" cy="382.4" r="1.15"/>
<circle cx="100.6" cy="415.4" r="1.15"/>
<circle cx="99.7" cy="373.2" r="1.15"/>
<circle cx="68.8" cy="372.0" r="1.15"/>
<circle cx="148.4" cy="383.5" r="1.15"/>
<circle cx="116.4" cy="358.5" r="1.15"/>
<circle cx="127.1" cy="387.5" r="1.15"/>
<circle cx="91.3" cy="368.2" r="1.15"/>
<circle cx="106.7" cy="369.0" r="1.15"/>
<circle cx="101.8" cy="390.9" r="1.15"/>
<circle cx="105.8" cy="378.5" r="1.15"/>
<circle cx="104.9" cy="378.4" r="1.15"/>
<circle cx="101.4" cy="384.6" r="1.15"/>
<circle cx="98.5" cy="408.4" r="1.15"/>
<circle cx="83.9" cy="360.1" r="1.15"/>
<circle cx="59.0" cy="393.1" r="1.15"/>
<circle cx="101.2" cy="388.3" r="1.15"/>
<circle cx="99.5" cy="365.0" r="1.15"/>
<circle cx="91.5" cy="377.9" r="1.15"/>
<circle cx="60.3" cy="385.0" r="1.15"/>
<circle cx="79.2" cy="369.1" r="1.15"/>
<circle cx="137.4" cy="386.5" r="1.15"/>
<circle cx="107.3" cy="370.3" r="1.15"/>
<circle cx="99.3" cy="402.9" r="1.15"/>
<circle cx="112.8" cy="381.4" r="1.15"/>
<circle cx="83.8" cy="387.1" r="1.15"/>
<circle cx="124.1" cy="400.1" r="1.15"/>
<circle cx="79.2" cy="373.8" r="1.15"/>
<circle cx="67.4" cy="387.6" r="1.15"/>
<circle cx="106.7" cy="402.4" r="1.15"/>
<circle cx="114.5" cy="386.9" r="1.15"/>
<circle cx="88.4" cy="360.7" r="1.15"/>
<circle cx="73.4" cy="371.4" r="1.15"/>
<circle cx="92.6" cy="377.1" r="1.15"/>
<circle cx="114.2" cy="396.1" r="1.15"/>
<circle cx="114.3" cy="379.2" r="1.15"/>
<circle cx="79.4" cy="387.1" r="1.15"/>
<circle cx="82.5" cy="375.5" r="1.15"/>
<circle cx="108.4" cy="359.7" r="1.15"/>
<circle cx="98.4" cy="381.9" r="1.15"/>
<circle cx="74.2" cy="383.3" r="1.15"/>
<circle cx="86.4" cy="393.6" r="1.15"/>
<circle cx="90.0" cy="377.3" r="1.15"/>
<circle cx="113.0" cy="379.8" r="1.15"/>
<circle cx="90.7" cy="371.6" r="1.15"/>
<circle cx="130.5" cy="386.1" r="1.15"/>
<circle cx="85.0" cy="382.3" r="1.15"/>
<circle cx="119.7" cy="400.1" r="1.15"/>
<circle cx="93.8" cy="373.9" r="1.15"/>
<circle cx="119.7" cy="427.3" r="1.15"/>
<circle cx="111.3" cy="370.7" r="1.15"/>
<circle cx="101.5" cy="393.4" r="1.15"/>
<circle cx="112.2" cy="377.1" r="1.15"/>
<circle cx="81.9" cy="377.9" r="1.15"/>
<circle cx="102.1" cy="393.5" r="1.15"/>
<circle cx="101.1" cy="399.3" r="1.15"/>
<circle cx="76.3" cy="385.3" r="1.15"/>
<circle cx="92.9" cy="364.7" r="1.15"/>
<circle cx="85.0" cy="374.9" r="1.15"/>
<circle cx="96.8" cy="410.1" r="1.15"/>
<circle cx="94.0" cy="396.0" r="1.15"/>
<circle cx="106.8" cy="383.5" r="1.15"/>
<circle cx="92.6" cy="366.4" r="1.15"/>
<circle cx="88.6" cy="347.6" r="1.15"/>
<circle cx="91.1" cy="379.0" r="1.15"/>
<circle cx="117.0" cy="389.9" r="1.15"/>
<circle cx="83.1" cy="388.4" r="1.15"/>
<circle cx="97.8" cy="365.9" r="1.15"/>
<circle cx="107.6" cy="373.0" r="1.15"/>
<circle cx="87.3" cy="377.3" r="1.15"/>
<circle cx="99.0" cy="381.6" r="1.15"/>
<circle cx="103.9" cy="348.2" r="1.15"/>
<circle cx="85.9" cy="358.8" r="1.15"/>
<circle cx="93.4" cy="379.2" r="1.15"/>
<circle cx="102.4" cy="394.8" r="1.15"/>
<circle cx="106.3" cy="356.8" r="1.15"/>
<circle cx="99.9" cy="373.2" r="1.15"/>
<circle cx="64.1" cy="362.2" r="1.15"/>
<circle cx="101.6" cy="394.3" r="1.15"/>
<circle cx="85.0" cy="389.3" r="1.15"/>
<circle cx="87.6" cy="370.8" r="1.15"/>
<circle cx="79.9" cy="364.6" r="1.15"/>
<circle cx="82.4" cy="368.3" r="1.15"/>
<circle cx="112.3" cy="385.1" r="1.15"/>
<circle cx="114.7" cy="380.0" r="1.15"/>
<circle cx="67.0" cy="411.4" r="1.15"/>
<circle cx="99.9" cy="383.5" r="1.15"/>
<circle cx="87.7" cy="365.1" r="1.15"/>
<circle cx="101.8" cy="421.4" r="1.15"/>
<circle cx="95.6" cy="379.7" r="1.15"/>
<circle cx="110.5" cy="373.6" r="1.15"/>
<circle cx="96.2" cy="375.2" r="1.15"/>
<circle cx="119.4" cy="381.7" r="1.15"/>
<circle cx="85.4" cy="366.3" r="1.15"/>
<circle cx="83.9" cy="385.1" r="1.15"/>
<circle cx="125.7" cy="375.9" r="1.15"/>
<circle cx="80.6" cy="379.5" r="1.15"/>
<circle cx="96.6" cy="383.7" r="1.15"/>
<circle cx="86.6" cy="397.5" r="1.15"/>
<circle cx="82.8" cy="362.9" r="1.15"/>
<circle cx="81.6" cy="380.5" r="1.15"/>
<circle cx="92.3" cy="376.8" r="1.15"/>
<circle cx="86.5" cy="395.5" r="1.15"/>
<circle cx="95.0" cy="416.5" r="1.15"/>
<circle cx="104.5" cy="356.1" r="1.15"/>
<circle cx="140.9" cy="381.0" r="1.15"/>
<circle cx="78.1" cy="400.3" r="1.15"/>
<circle cx="103.4" cy="383.5" r="1.15"/>
<circle cx="103.5" cy="352.1" r="1.15"/>
<circle cx="100.0" cy="381.8" r="1.15"/>
<circle cx="104.8" cy="384.0" r="1.15"/>
<circle cx="88.9" cy="374.8" r="1.15"/>
<circle cx="79.5" cy="393.0" r="1.15"/>
<circle cx="100.5" cy="389.5" r="1.15"/>
<circle cx="105.3" cy="375.0" r="1.15"/>
<circle cx="84.6" cy="371.5" r="1.15"/>
<circle cx="108.8" cy="369.1" r="1.15"/>
<circle cx="114.1" cy="369.4" r="1.15"/>
<circle cx="104.1" cy="396.7" r="1.15"/>
<circle cx="95.9" cy="412.9" r="1.15"/>
<circle cx="113.5" cy="400.5" r="1.15"/>
<circle cx="90.6" cy="371.4" r="1.15"/>
<circle cx="96.2" cy="357.7" r="1.15"/>
<circle cx="95.0" cy="417.3" r="1.15"/>
<circle cx="84.2" cy="394.5" r="1.15"/>
<circle cx="96.7" cy="369.9" r="1.15"/>
<circle cx="88.7" cy="380.0" r="1.15"/>
<circle cx="104.3" cy="384.3" r="1.15"/>
<circle cx="88.3" cy="360.0" r="1.15"/>
<circle cx="105.4" cy="408.4" r="1.15"/>
<circle cx="60.3" cy="375.8" r="1.15"/>
<circle cx="93.4" cy="378.4" r="1.15"/>
<circle cx="89.7" cy="370.7" r="1.15"/>
<circle cx="119.3" cy="372.4" r="1.15"/>
<circle cx="84.6" cy="377.9" r="1.15"/>
<circle cx="107.9" cy="382.0" r="1.15"/>
<circle cx="135.3" cy="417.7" r="1.15"/>
<circle cx="114.2" cy="362.7" r="1.15"/>
<circle cx="122.7" cy="402.1" r="1.15"/>
<circle cx="114.8" cy="399.1" r="1.15"/>
<circle cx="112.8" cy="390.9" r="1.15"/>
<circle cx="55.3" cy="370.6" r="1.15"/>
<circle cx="105.2" cy="429.0" r="1.15"/>
<circle cx="100.7" cy="361.7" r="1.15"/>
<circle cx="91.3" cy="396.6" r="1.15"/>
<circle cx="96.8" cy="382.2" r="1.15"/>
<circle cx="91.3" cy="350.2" r="1.15"/>
<circle cx="97.6" cy="391.7" r="1.15"/>
<circle cx="105.4" cy="380.7" r="1.15"/>
</g>
<path d="M46.80,374.40 Q98.15,384.50 149.50,385.80 L149.50,393.20 Q98.15,383.10 46.80,381.80 Z" fill="#bcc2e6" fill-opacity="0.6"/>
<line x1="46.80" y1="378.10" x2="149.50" y2="389.50" stroke="#5159ab" stroke-width="0.75" />
<line x1="43.90" y1="345.30" x2="152.90" y2="345.30" stroke="#4d4d4d" stroke-width="0.9" />
<line x1="152.90" y1="345.30" x2="152.90" y2="447.90" stroke="#4d4d4d" stroke-width="0.9" />
<line x1="43.90" y1="344.85" x2="43.90" y2="448.45" stroke="#333" stroke-width="1.1" />
<line x1="43.35" y1="447.90" x2="153.35" y2="447.90" stroke="#333" stroke-width="1.1" />
<line x1="66.90" y1="447.90" x2="66.90" y2="450.80" stroke="#333" stroke-width="0.75" />
<line x1="94.60" y1="447.90" x2="94.60" y2="450.80" stroke="#333" stroke-width="0.75" />
<line x1="122.30" y1="447.90" x2="122.30" y2="450.80" stroke="#333" stroke-width="0.75" />
<line x1="150.00" y1="447.90" x2="150.00" y2="450.80" stroke="#333" stroke-width="0.75" />
<line x1="41.10" y1="365.50" x2="43.90" y2="365.50" stroke="#333" stroke-width="0.75" />
<line x1="41.10" y1="392.30" x2="43.90" y2="392.30" stroke="#333" stroke-width="0.75" />
<line x1="41.10" y1="419.10" x2="43.90" y2="419.10" stroke="#333" stroke-width="0.75" />
<line x1="41.10" y1="445.90" x2="43.90" y2="445.90" stroke="#333" stroke-width="0.75" />
<rect x="212.60" y="345.60" width="108.80" height="102.50" fill="#ffffff" stroke="none" stroke-width="0.6" />
<line x1="221.70" y1="345.60" x2="221.70" y2="448.10" stroke="#f2f2f2" stroke-width="0.55" />
<line x1="235.50" y1="345.60" x2="235.50" y2="448.10" stroke="#e6e6e6" stroke-width="0.55" />
<line x1="249.30" y1="345.60" x2="249.30" y2="448.10" stroke="#f2f2f2" stroke-width="0.55" />
<line x1="263.10" y1="345.60" x2="263.10" y2="448.10" stroke="#e6e6e6" stroke-width="0.55" />
<line x1="276.90" y1="345.60" x2="276.90" y2="448.10" stroke="#f2f2f2" stroke-width="0.55" />
<line x1="290.70" y1="345.60" x2="290.70" y2="448.10" stroke="#e6e6e6" stroke-width="0.55" />
<line x1="304.50" y1="345.60" x2="304.50" y2="448.10" stroke="#f2f2f2" stroke-width="0.55" />
<line x1="318.30" y1="345.60" x2="318.30" y2="448.10" stroke="#e6e6e6" stroke-width="0.55" />
<line x1="212.60" y1="446.70" x2="321.40" y2="446.70" stroke="#e6e6e6" stroke-width="0.55" />
<line x1="212.60" y1="436.00" x2="321.40" y2="436.00" stroke="#f2f2f2" stroke-width="0.55" />
<line x1="212.60" y1="425.30" x2="321.40" y2="425.30" stroke="#e6e6e6" stroke-width="0.55" />
<line x1="212.60" y1="414.60" x2="321.40" y2="414.60" stroke="#f2f2f2" stroke-width="0.55" />
<line x1="212.60" y1="403.90" x2="321.40" y2="403.90" stroke="#e6e6e6" stroke-width="0.55" />
<line x1="212.60" y1="393.20" x2="321.40" y2="393.20" stroke="#f2f2f2" stroke-width="0.55" />
<line x1="212.60" y1="382.50" x2="321.40" y2="382.50" stroke="#e6e6e6" stroke-width="0.55" />
<line x1="212.60" y1="371.80" x2="321.40" y2="371.80" stroke="#f2f2f2" stroke-width="0.55" />
<line x1="212.60" y1="361.10" x2="321.40" y2="361.10" stroke="#e6e6e6" stroke-width="0.55" />
<line x1="212.60" y1="350.40" x2="321.40" y2="350.40" stroke="#f2f2f2" stroke-width="0.55" />
<g fill="#8e8e8e" fill-opacity="0.7" stroke="#555" stroke-opacity="0.8" stroke-width="0.4">
<circle cx="257.7" cy="399.9" r="1.15"/>
<circle cx="259.1" cy="391.7" r="1.15"/>
<circle cx="269.1" cy="370.4" r="1.15"/>
<circle cx="244.6" cy="422.3" r="1.15"/>
<circle cx="264.1" cy="376.5" r="1.15"/>
<circle cx="266.8" cy="386.0" r="1.15"/>
<circle cx="284.1" cy="370.2" r="1.15"/>
<circle cx="242.2" cy="388.5" r="1.15"/>
<circle cx="245.6" cy="357.8" r="1.15"/>
<circle cx="263.4" cy="408.5" r="1.15"/>
<circle cx="275.5" cy="399.9" r="1.15"/>
<circle cx="284.5" cy="366.8" r="1.15"/>
<circle cx="266.3" cy="389.6" r="1.15"/>
<circle cx="259.9" cy="404.9" r="1.15"/>
<circle cx="248.3" cy="377.4" r="1.15"/>
<circle cx="248.0" cy="384.3" r="1.15"/>
<circle cx="283.0" cy="384.4" r="1.15"/>
<circle cx="262.0" cy="385.0" r="1.15"/>
<circle cx="257.3" cy="396.5" r="1.15"/>
<circle cx="271.8" cy="407.1" r="1.15"/>
<circle cx="272.2" cy="375.6" r="1.15"/>
<circle cx="233.6" cy="396.4" r="1.15"/>
<circle cx="250.5" cy="388.4" r="1.15"/>
<circle cx="279.6" cy="421.8" r="1.15"/>
<circle cx="271.5" cy="379.4" r="1.15"/>
<circle cx="270.8" cy="379.0" r="1.15"/>
<circle cx="262.9" cy="411.1" r="1.15"/>
<circle cx="242.2" cy="392.2" r="1.15"/>
<circle cx="252.1" cy="353.3" r="1.15"/>
<circle cx="254.3" cy="390.6" r="1.15"/>
<circle cx="267.0" cy="424.2" r="1.15"/>
<circle cx="260.6" cy="396.3" r="1.15"/>
<circle cx="257.1" cy="397.8" r="1.15"/>
<circle cx="243.9" cy="374.0" r="1.15"/>
<circle cx="254.8" cy="378.4" r="1.15"/>
<circle cx="271.7" cy="361.2" r="1.15"/>
<circle cx="255.3" cy="365.5" r="1.15"/>
<circle cx="270.1" cy="393.3" r="1.15"/>
<circle cx="250.8" cy="396.5" r="1.15"/>
<circle cx="260.8" cy="377.3" r="1.15"/>
<circle cx="270.5" cy="373.7" r="1.15"/>
<circle cx="280.3" cy="401.0" r="1.15"/>
<circle cx="256.3" cy="379.8" r="1.15"/>
<circle cx="270.7" cy="405.3" r="1.15"/>
<circle cx="269.9" cy="416.6" r="1.15"/>
<circle cx="254.1" cy="414.9" r="1.15"/>
<circle cx="272.0" cy="385.2" r="1.15"/>
<circle cx="247.2" cy="391.1" r="1.15"/>
<circle cx="250.1" cy="359.8" r="1.15"/>
<circle cx="264.2" cy="414.5" r="1.15"/>
<circle cx="258.2" cy="414.9" r="1.15"/>
<circle cx="316.6" cy="412.5" r="1.15"/>
<circle cx="269.7" cy="378.9" r="1.15"/>
<circle cx="249.3" cy="404.9" r="1.15"/>
<circle cx="271.7" cy="401.4" r="1.15"/>
<circle cx="289.4" cy="391.0" r="1.15"/>
<circle cx="266.2" cy="385.2" r="1.15"/>
<circle cx="291.6" cy="407.0" r="1.15"/>
<circle cx="274.9" cy="395.0" r="1.15"/>
<circle cx="279.0" cy="418.2" r="1.15"/>
<circle cx="227.5" cy="392.2" r="1.15"/>
<circle cx="285.8" cy="385.9" r="1.15"/>
<circle cx="234.9" cy="381.2" r="1.15"/>
<circle cx="299.0" cy="407.3" r="1.15"/>
<circle cx="249.2" cy="396.3" r="1.15"/>
<circle cx="293.3" cy="372.8" r="1.15"/>
<circle cx="275.2" cy="387.3" r="1.15"/>
<circle cx="261.7" cy="382.0" r="1.15"/>
<circle cx="274.2" cy="437.7" r="1.15"/>
<circle cx="266.5" cy="374.5" r="1.15"/>
<circle cx="266.3" cy="374.3" r="1.15"/>
<circle cx="250.5" cy="393.9" r="1.15"/>
<circle cx="270.1" cy="400.5" r="1.15"/>
<circle cx="272.7" cy="431.5" r="1.15"/>
<circle cx="238.9" cy="370.4" r="1.15"/>
<circle cx="246.0" cy="422.0" r="1.15"/>
<circle cx="252.7" cy="388.5" r="1.15"/>
<circle cx="242.7" cy="384.8" r="1.15"/>
<circle cx="255.5" cy="376.1" r="1.15"/>
<circle cx="276.7" cy="403.4" r="1.15"/>
<circle cx="267.3" cy="392.3" r="1.15"/>
<circle cx="260.2" cy="352.1" r="1.15"/>
<circle cx="266.6" cy="364.3" r="1.15"/>
<circle cx="252.2" cy="377.8" r="1.15"/>
<circle cx="289.6" cy="376.8" r="1.15"/>
<circle cx="258.1" cy="402.7" r="1.15"/>
<circle cx="276.9" cy="393.7" r="1.15"/>
<circle cx="254.0" cy="413.0" r="1.15"/>
<circle cx="272.1" cy="384.4" r="1.15"/>
<circle cx="275.1" cy="418.3" r="1.15"/>
<circle cx="270.7" cy="385.8" r="1.15"/>
<circle cx="238.0" cy="379.1" r="1.15"/>
<circle cx="243.9" cy="388.6" r="1.15"/>
<circle cx="265.0" cy="377.2" r="1.15"/>
<circle cx="264.3" cy="370.3" r="1.15"/>
<circle cx="283.1" cy="388.2" r="1.15"/>
<circle cx="258.1" cy="410.0" r="1.15"/>
<circle cx="283.6" cy="390.1" r="1.15"/>
<circle cx="266.5" cy="393.9" r="1.15"/>
<circle cx="268.5" cy="380.1" r="1.15"/>
<circle cx="254.3" cy="437.0" r="1.15"/>
<circle cx="268.3" cy="362.2" r="1.15"/>
<circle cx="251.7" cy="411.7" r="1.15"/>
<circle cx="256.5" cy="389.8" r="1.15"/>
<circle cx="265.9" cy="398.1" r="1.15"/>
<circle cx="269.7" cy="405.5" r="1.15"/>
<circle cx="263.3" cy="394.7" r="1.15"/>
<circle cx="257.5" cy="390.3" r="1.15"/>
<circle cx="262.9" cy="382.0" r="1.15"/>
<circle cx="268.6" cy="385.4" r="1.15"/>
<circle cx="271.4" cy="374.3" r="1.15"/>
<circle cx="255.8" cy="371.0" r="1.15"/>
<circle cx="274.2" cy="370.9" r="1.15"/>
<circle cx="256.2" cy="428.5" r="1.15"/>
<circle cx="259.7" cy="383.6" r="1.15"/>
<circle cx="316.8" cy="425.3" r="1.15"/>
<circle cx="280.8" cy="376.7" r="1.15"/>
<circle cx="250.9" cy="381.4" r="1.15"/>
<circle cx="272.2" cy="412.6" r="1.15"/>
<circle cx="279.4" cy="378.8" r="1.15"/>
<circle cx="278.1" cy="422.8" r="1.15"/>
<circle cx="252.3" cy="445.7" r="1.15"/>
<circle cx="302.3" cy="379.8" r="1.15"/>
<circle cx="270.3" cy="411.5" r="1.15"/>
<circle cx="235.7" cy="397.5" r="1.15"/>
<circle cx="272.2" cy="361.5" r="1.15"/>
<circle cx="259.6" cy="378.4" r="1.15"/>
<circle cx="265.5" cy="412.3" r="1.15"/>
<circle cx="278.1" cy="385.0" r="1.15"/>
<circle cx="267.1" cy="386.2" r="1.15"/>
<circle cx="284.9" cy="376.4" r="1.15"/>
<circle cx="257.6" cy="365.0" r="1.15"/>
<circle cx="265.6" cy="396.2" r="1.15"/>
<circle cx="281.4" cy="443.0" r="1.15"/>
<circle cx="252.7" cy="366.3" r="1.15"/>
<circle cx="281.5" cy="378.8" r="1.15"/>
<circle cx="262.4" cy="408.4" r="1.15"/>
<circle cx="253.4" cy="400.8" r="1.15"/>
<circle cx="246.7" cy="370.9" r="1.15"/>
<circle cx="250.7" cy="370.5" r="1.15"/>
<circle cx="285.2" cy="382.2" r="1.15"/>
<circle cx="249.9" cy="378.6" r="1.15"/>
<circle cx="257.7" cy="399.3" r="1.15"/>
<circle cx="277.8" cy="406.1" r="1.15"/>
<circle cx="278.3" cy="431.8" r="1.15"/>
<circle cx="270.7" cy="391.0" r="1.15"/>
<circle cx="253.3" cy="380.4" r="1.15"/>
<circle cx="268.9" cy="388.0" r="1.15"/>
<circle cx="268.7" cy="348.2" r="1.15"/>
<circle cx="266.7" cy="413.2" r="1.15"/>
<circle cx="253.9" cy="377.6" r="1.15"/>
<circle cx="245.9" cy="390.6" r="1.15"/>
<circle cx="268.8" cy="386.5" r="1.15"/>
<circle cx="252.8" cy="379.7" r="1.15"/>
<circle cx="264.2" cy="362.1" r="1.15"/>
<circle cx="257.2" cy="399.3" r="1.15"/>
<circle cx="258.1" cy="378.1" r="1.15"/>
<circle cx="267.4" cy="379.1" r="1.15"/>
<circle cx="274.1" cy="366.3" r="1.15"/>
<circle cx="263.3" cy="369.5" r="1.15"/>
<circle cx="266.8" cy="369.0" r="1.15"/>
<circle cx="264.9" cy="395.8" r="1.15"/>
<circle cx="263.8" cy="401.5" r="1.15"/>
<circle cx="264.9" cy="376.1" r="1.15"/>
<circle cx="255.2" cy="364.9" r="1.15"/>
<circle cx="267.0" cy="385.5" r="1.15"/>
<circle cx="258.0" cy="375.4" r="1.15"/>
<circle cx="247.4" cy="377.6" r="1.15"/>
<circle cx="283.6" cy="388.7" r="1.15"/>
<circle cx="250.8" cy="388.7" r="1.15"/>
<circle cx="264.9" cy="401.9" r="1.15"/>
<circle cx="265.5" cy="369.8" r="1.15"/>
<circle cx="270.1" cy="405.6" r="1.15"/>
<circle cx="305.3" cy="419.7" r="1.15"/>
<circle cx="271.6" cy="369.8" r="1.15"/>
<circle cx="260.9" cy="384.0" r="1.15"/>
<circle cx="261.5" cy="433.4" r="1.15"/>
<circle cx="287.3" cy="374.4" r="1.15"/>
<circle cx="260.7" cy="397.0" r="1.15"/>
<circle cx="261.8" cy="381.3" r="1.15"/>
<circle cx="246.1" cy="392.9" r="1.15"/>
<circle cx="268.6" cy="367.5" r="1.15"/>
<circle cx="269.6" cy="400.0" r="1.15"/>
<circle cx="264.4" cy="390.1" r="1.15"/>
<circle cx="256.8" cy="395.2" r="1.15"/>
<circle cx="272.4" cy="392.9" r="1.15"/>
<circle cx="308.0" cy="388.3" r="1.15"/>
<circle cx="253.4" cy="368.3" r="1.15"/>
<circle cx="245.8" cy="395.7" r="1.15"/>
<circle cx="292.5" cy="415.8" r="1.15"/>
<circle cx="275.3" cy="350.2" r="1.15"/>
<circle cx="237.5" cy="367.1" r="1.15"/>
<circle cx="269.2" cy="390.6" r="1.15"/>
<circle cx="269.8" cy="377.0" r="1.15"/>
<circle cx="277.7" cy="398.2" r="1.15"/>
<circle cx="279.9" cy="380.2" r="1.15"/>
<circle cx="253.3" cy="366.6" r="1.15"/>
<circle cx="259.0" cy="384.4" r="1.15"/>
<circle cx="256.2" cy="413.2" r="1.15"/>
<circle cx="259.4" cy="386.7" r="1.15"/>
<circle cx="263.4" cy="389.6" r="1.15"/>
<circle cx="264.0" cy="369.5" r="1.15"/>
<circle cx="275.4" cy="399.5" r="1.15"/>
<circle cx="252.7" cy="392.0" r="1.15"/>
<circle cx="258.2" cy="392.3" r="1.15"/>
<circle cx="254.0" cy="381.2" r="1.15"/>
<circle cx="276.3" cy="392.0" r="1.15"/>
<circle cx="267.8" cy="354.4" r="1.15"/>
<circle cx="245.3" cy="395.6" r="1.15"/>
<circle cx="271.3" cy="360.4" r="1.15"/>
<circle cx="247.5" cy="405.4" r="1.15"/>
<circle cx="237.9" cy="379.6" r="1.15"/>
<circle cx="256.9" cy="397.4" r="1.15"/>
<circle cx="262.2" cy="397.4" r="1.15"/>
<circle cx="267.1" cy="371.5" r="1.15"/>
<circle cx="255.4" cy="410.0" r="1.15"/>
<circle cx="265.6" cy="375.2" r="1.15"/>
<circle cx="240.2" cy="368.8" r="1.15"/>
<circle cx="241.4" cy="386.8" r="1.15"/>
<circle cx="259.7" cy="394.9" r="1.15"/>
<circle cx="261.6" cy="381.4" r="1.15"/>
<circle cx="255.6" cy="360.3" r="1.15"/>
<circle cx="271.5" cy="394.0" r="1.15"/>
<circle cx="246.3" cy="352.3" r="1.15"/>
<circle cx="252.5" cy="395.6" r="1.15"/>
<circle cx="242.4" cy="381.9" r="1.15"/>
<circle cx="264.1" cy="398.7" r="1.15"/>
<circle cx="237.6" cy="417.7" r="1.15"/>
<circle cx="266.3" cy="404.5" r="1.15"/>
<circle cx="251.6" cy="397.3" r="1.15"/>
<circle cx="252.2" cy="374.0" r="1.15"/>
<circle cx="275.7" cy="384.4" r="1.15"/>
<circle cx="267.2" cy="382.0" r="1.15"/>
<circle cx="283.4" cy="403.9" r="1.15"/>
<circle cx="289.0" cy="382.0" r="1.15"/>
<circle cx="259.7" cy="386.4" r="1.15"/>
<circle cx="262.7" cy="395.0" r="1.15"/>
<circle cx="278.7" cy="412.4" r="1.15"/>
<circle cx="287.7" cy="376.0" r="1.15"/>
<circle cx="255.8" cy="374.0" r="1.15"/>
<circle cx="268.1" cy="397.1" r="1.15"/>
<circle cx="274.7" cy="388.7" r="1.15"/>
<circle cx="283.7" cy="413.7" r="1.15"/>
<circle cx="271.3" cy="417.5" r="1.15"/>
<circle cx="294.1" cy="401.0" r="1.15"/>
<circle cx="254.8" cy="387.9" r="1.15"/>
<circle cx="238.9" cy="375.0" r="1.15"/>
<circle cx="272.6" cy="401.5" r="1.15"/>
<circle cx="262.4" cy="428.0" r="1.15"/>
<circle cx="255.0" cy="397.0" r="1.15"/>
<circle cx="268.0" cy="374.0" r="1.15"/>
<circle cx="239.2" cy="409.7" r="1.15"/>
<circle cx="239.3" cy="373.6" r="1.15"/>
<circle cx="256.5" cy="420.1" r="1.15"/>
<circle cx="278.3" cy="379.7" r="1.15"/>
<circle cx="256.2" cy="427.0" r="1.15"/>
<circle cx="267.8" cy="419.4" r="1.15"/>
<circle cx="274.3" cy="386.0" r="1.15"/>
<circle cx="243.7" cy="401.9" r="1.15"/>
<circle cx="257.0" cy="389.6" r="1.15"/>
<circle cx="261.0" cy="395.1" r="1.15"/>
<circle cx="263.6" cy="402.0" r="1.15"/>
<circle cx="275.6" cy="417.2" r="1.15"/>
<circle cx="277.1" cy="408.3" r="1.15"/>
<circle cx="256.7" cy="371.7" r="1.15"/>
<circle cx="264.7" cy="381.3" r="1.15"/>
<circle cx="248.9" cy="399.6" r="1.15"/>
<circle cx="261.2" cy="407.7" r="1.15"/>
<circle cx="241.3" cy="383.7" r="1.15"/>
<circle cx="288.1" cy="393.7" r="1.15"/>
<circle cx="243.7" cy="376.8" r="1.15"/>
<circle cx="267.9" cy="365.8" r="1.15"/>
<circle cx="267.0" cy="379.5" r="1.15"/>
<circle cx="275.6" cy="388.1" r="1.15"/>
<circle cx="257.5" cy="352.8" r="1.15"/>
<circle cx="257.9" cy="382.3" r="1.15"/>
<circle cx="282.8" cy="418.7" r="1.15"/>
<circle cx="275.2" cy="430.0" r="1.15"/>
<circle cx="252.9" cy="410.2" r="1.15"/>
<circle cx="282.0" cy="395.8" r="1.15"/>
<circle cx="266.1" cy="363.0" r="1.15"/>
<circle cx="247.6" cy="373.4" r="1.15"/>
<circle cx="282.2" cy="404.3" r="1.15"/>
<circle cx="296.9" cy="372.8" r="1.15"/>
<circle cx="263.9" cy="384.8" r="1.15"/>
<circle cx="301.3" cy="378.6" r="1.15"/>
<circle cx="265.5" cy="380.3" r="1.15"/>
<circle cx="309.5" cy="398.8" r="1.15"/>
<circle cx="243.4" cy="385.4" r="1.15"/>
<circle cx="255.5" cy="355.9" r="1.15"/>
<circle cx="246.6" cy="364.6" r="1.15"/>
<circle cx="265.0" cy="406.9" r="1.15"/>
<circle cx="262.2" cy="412.6" r="1.15"/>
<circle cx="255.3" cy="352.9" r="1.15"/>
<circle cx="266.5" cy="378.9" r="1.15"/>
<circle cx="275.7" cy="361.3" r="1.15"/>
<circle cx="269.5" cy="405.9" r="1.15"/>
<circle cx="256.8" cy="388.7" r="1.15"/>
<circle cx="283.0" cy="390.8" r="1.15"/>
<circle cx="253.9" cy="405.3" r="1.15"/>
<circle cx="265.7" cy="400.1" r="1.15"/>
<circle cx="276.0" cy="390.2" r="1.15"/>
<circle cx="265.1" cy="383.4" r="1.15"/>
<circle cx="270.1" cy="374.6" r="1.15"/>
<circle cx="270.1" cy="378.3" r="1.15"/>
<circle cx="307.3" cy="374.9" r="1.15"/>
<circle cx="264.5" cy="387.7" r="1.15"/>
<circle cx="272.2" cy="381.3" r="1.15"/>
<circle cx="263.7" cy="380.4" r="1.15"/>
<circle cx="258.4" cy="398.5" r="1.15"/>
<circle cx="263.1" cy="391.4" r="1.15"/>
<circle cx="251.2" cy="375.1" r="1.15"/>
<circle cx="247.0" cy="380.3" r="1.15"/>
<circle cx="247.1" cy="402.3" r="1.15"/>
<circle cx="275.2" cy="372.4" r="1.15"/>
<circle cx="291.5" cy="390.9" r="1.15"/>
<circle cx="257.6" cy="360.2" r="1.15"/>
<circle cx="270.0" cy="378.6" r="1.15"/>
<circle cx="267.3" cy="383.1" r="1.15"/>
<circle cx="265.4" cy="407.6" r="1.15"/>
<circle cx="268.6" cy="399.8" r="1.15"/>
<circle cx="297.7" cy="399.9" r="1.15"/>
<circle cx="274.0" cy="368.8" r="1.15"/>
<circle cx="293.1" cy="393.7" r="1.15"/>
<circle cx="247.9" cy="403.7" r="1.15"/>
<circle cx="243.9" cy="366.1" r="1.15"/>
<circle cx="286.7" cy="373.1" r="1.15"/>
<circle cx="263.3" cy="389.5" r="1.15"/>
<circle cx="279.5" cy="386.8" r="1.15"/>
<circle cx="234.9" cy="374.7" r="1.15"/>
<circle cx="270.3" cy="372.4" r="1.15"/>
<circle cx="269.7" cy="415.8" r="1.15"/>
<circle cx="265.5" cy="424.2" r="1.15"/>
<circle cx="276.3" cy="406.1" r="1.15"/>
<circle cx="272.2" cy="377.5" r="1.15"/>
<circle cx="277.0" cy="370.0" r="1.15"/>
<circle cx="300.5" cy="432.0" r="1.15"/>
<circle cx="275.8" cy="439.9" r="1.15"/>
<circle cx="245.5" cy="361.9" r="1.15"/>
<circle cx="306.0" cy="389.1" r="1.15"/>
<circle cx="287.9" cy="361.9" r="1.15"/>
<circle cx="268.4" cy="411.5" r="1.15"/>
<circle cx="314.7" cy="413.5" r="1.15"/>
<circle cx="259.6" cy="399.9" r="1.15"/>
<circle cx="261.0" cy="386.9" r="1.15"/>
<circle cx="270.1" cy="380.3" r="1.15"/>
<circle cx="270.6" cy="392.8" r="1.15"/>
<circle cx="245.3" cy="414.5" r="1.15"/>
<circle cx="265.7" cy="437.2" r="1.15"/>
<circle cx="279.6" cy="385.6" r="1.15"/>
<circle cx="289.2" cy="390.8" r="1.15"/>
<circle cx="258.1" cy="381.6" r="1.15"/>
<circle cx="248.1" cy="410.4" r="1.15"/>
<circle cx="284.2" cy="376.8" r="1.15"/>
<circle cx="274.5" cy="355.2" r="1.15"/>
<circle cx="280.8" cy="399.7" r="1.15"/>
<circle cx="272.3" cy="396.2" r="1.15"/>
<circle cx="303.8" cy="422.1" r="1.15"/>
<circle cx="293.1" cy="421.3" r="1.15"/>
<circle cx="269.5" cy="367.0" r="1.15"/>
<circle cx="260.3" cy="362.1" r="1.15"/>
<circle cx="254.3" cy="392.6" r="1.15"/>
<circle cx="264.7" cy="357.4" r="1.15"/>
<circle cx="252.6" cy="372.2" r="1.15"/>
<circle cx="242.1" cy="391.9" r="1.15"/>
<circle cx="256.6" cy="412.4" r="1.15"/>
<circle cx="258.7" cy="381.3" r="1.15"/>
<circle cx="241.3" cy="365.7" r="1.15"/>
<circle cx="271.0" cy="404.2" r="1.15"/>
<circle cx="261.7" cy="408.7" r="1.15"/>
<circle cx="274.9" cy="409.9" r="1.15"/>
<circle cx="260.2" cy="414.6" r="1.15"/>
<circle cx="275.8" cy="416.8" r="1.15"/>
<circle cx="257.6" cy="404.5" r="1.15"/>
<circle cx="279.1" cy="380.3" r="1.15"/>
<circle cx="292.1" cy="407.5" r="1.15"/>
<circle cx="273.5" cy="405.6" r="1.15"/>
<circle cx="277.1" cy="398.1" r="1.15"/>
<circle cx="268.6" cy="385.8" r="1.15"/>
<circle cx="258.0" cy="401.7" r="1.15"/>
<circle cx="259.5" cy="375.3" r="1.15"/>
<circle cx="266.5" cy="401.4" r="1.15"/>
<circle cx="275.2" cy="375.5" r="1.15"/>
<circle cx="258.2" cy="386.6" r="1.15"/>
<circle cx="258.4" cy="389.6" r="1.15"/>
<circle cx="269.6" cy="389.3" r="1.15"/>
<circle cx="279.8" cy="412.9" r="1.15"/>
<circle cx="265.7" cy="373.3" r="1.15"/>
<circle cx="267.4" cy="377.1" r="1.15"/>
<circle cx="247.5" cy="366.9" r="1.15"/>
<circle cx="262.2" cy="376.0" r="1.15"/>
<circle cx="281.2" cy="363.7" r="1.15"/>
<circle cx="287.3" cy="394.7" r="1.15"/>
<circle cx="267.4" cy="376.4" r="1.15"/>
<circle cx="265.0" cy="414.9" r="1.15"/>
<circle cx="259.9" cy="381.2" r="1.15"/>
<circle cx="242.5" cy="396.9" r="1.15"/>
<circle cx="276.7" cy="410.2" r="1.15"/>
<circle cx="254.8" cy="393.1" r="1.15"/>
<circle cx="272.6" cy="394.4" r="1.15"/>
<circle cx="269.5" cy="380.1" r="1.15"/>
<circle cx="279.5" cy="395.7" r="1.15"/>
<circle cx="263.3" cy="420.1" r="1.15"/>
<circle cx="267.4" cy="404.8" r="1.15"/>
<circle cx="270.0" cy="405.1" r="1.15"/>
<circle cx="255.4" cy="380.1" r="1.15"/>
<circle cx="261.4" cy="395.7" r="1.15"/>
<circle cx="283.3" cy="382.8" r="1.15"/>
<circle cx="267.7" cy="422.6" r="1.15"/>
<circle cx="255.4" cy="386.4" r="1.15"/>
<circle cx="265.7" cy="361.5" r="1.15"/>
<circle cx="262.4" cy="399.2" r="1.15"/>
<circle cx="291.5" cy="390.7" r="1.15"/>
<circle cx="276.7" cy="382.5" r="1.15"/>
<circle cx="272.3" cy="380.4" r="1.15"/>
<circle cx="313.0" cy="412.1" r="1.15"/>
<circle cx="256.7" cy="390.3" r="1.15"/>
<circle cx="269.3" cy="406.4" r="1.15"/>
<circle cx="301.4" cy="439.5" r="1.15"/>
<circle cx="305.8" cy="405.4" r="1.15"/>
</g>
<path d="M215.90,380.20 Q266.90,395.00 317.90,398.20 L317.90,408.00 Q266.90,393.20 215.90,390.00 Z" fill="#bcc2e6" fill-opacity="0.6"/>
<line x1="215.90" y1="385.10" x2="317.90" y2="403.10" stroke="#5159ab" stroke-width="0.75" />
<line x1="212.60" y1="345.60" x2="321.40" y2="345.60" stroke="#4d4d4d" stroke-width="0.9" />
<line x1="321.40" y1="345.60" x2="321.40" y2="448.10" stroke="#4d4d4d" stroke-width="0.9" />
<line x1="212.60" y1="345.15" x2="212.60" y2="448.65" stroke="#333" stroke-width="1.1" />
<line x1="212.05" y1="448.10" x2="321.85" y2="448.10" stroke="#333" stroke-width="1.1" />
<line x1="235.50" y1="448.10" x2="235.50" y2="451.00" stroke="#333" stroke-width="0.75" />
<line x1="263.10" y1="448.10" x2="263.10" y2="451.00" stroke="#333" stroke-width="0.75" />
<line x1="290.70" y1="448.10" x2="290.70" y2="451.00" stroke="#333" stroke-width="0.75" />
<line x1="318.30" y1="448.10" x2="318.30" y2="451.00" stroke="#333" stroke-width="0.75" />
<line x1="209.80" y1="361.10" x2="212.60" y2="361.10" stroke="#333" stroke-width="0.75" />
<line x1="209.80" y1="382.50" x2="212.60" y2="382.50" stroke="#333" stroke-width="0.75" />
<line x1="209.80" y1="403.90" x2="212.60" y2="403.90" stroke="#333" stroke-width="0.75" />
<line x1="209.80" y1="425.30" x2="212.60" y2="425.30" stroke="#333" stroke-width="0.75" />
<line x1="209.80" y1="446.70" x2="212.60" y2="446.70" stroke="#333" stroke-width="0.75" />
<rect x="381.50" y="350.50" width="108.70" height="102.80" fill="#ffffff" stroke="none" stroke-width="0.6" />
<line x1="391.00" y1="350.50" x2="391.00" y2="453.30" stroke="#f2f2f2" stroke-width="0.55" />
<line x1="404.80" y1="350.50" x2="404.80" y2="453.30" stroke="#e6e6e6" stroke-width="0.55" />
<line x1="418.60" y1="350.50" x2="418.60" y2="453.30" stroke="#f2f2f2" stroke-width="0.55" />
<line x1="432.40" y1="350.50" x2="432.40" y2="453.30" stroke="#e6e6e6" stroke-width="0.55" />
<line x1="446.20" y1="350.50" x2="446.20" y2="453.30" stroke="#f2f2f2" stroke-width="0.55" />
<line x1="460.00" y1="350.50" x2="460.00" y2="453.30" stroke="#e6e6e6" stroke-width="0.55" />
<line x1="473.80" y1="350.50" x2="473.80" y2="453.30" stroke="#f2f2f2" stroke-width="0.55" />
<line x1="487.60" y1="350.50" x2="487.60" y2="453.30" stroke="#e6e6e6" stroke-width="0.55" />
<line x1="381.50" y1="445.60" x2="490.20" y2="445.60" stroke="#e6e6e6" stroke-width="0.55" />
<line x1="381.50" y1="437.67" x2="490.20" y2="437.67" stroke="#f2f2f2" stroke-width="0.55" />
<line x1="381.50" y1="429.75" x2="490.20" y2="429.75" stroke="#e6e6e6" stroke-width="0.55" />
<line x1="381.50" y1="421.82" x2="490.20" y2="421.82" stroke="#f2f2f2" stroke-width="0.55" />
<line x1="381.50" y1="413.90" x2="490.20" y2="413.90" stroke="#e6e6e6" stroke-width="0.55" />
<line x1="381.50" y1="405.98" x2="490.20" y2="405.98" stroke="#f2f2f2" stroke-width="0.55" />
<line x1="381.50" y1="398.05" x2="490.20" y2="398.05" stroke="#e6e6e6" stroke-width="0.55" />
<line x1="381.50" y1="390.12" x2="490.20" y2="390.12" stroke="#f2f2f2" stroke-width="0.55" />
<line x1="381.50" y1="382.20" x2="490.20" y2="382.20" stroke="#e6e6e6" stroke-width="0.55" />
<line x1="381.50" y1="374.27" x2="490.20" y2="374.27" stroke="#f2f2f2" stroke-width="0.55" />
<line x1="381.50" y1="366.35" x2="490.20" y2="366.35" stroke="#e6e6e6" stroke-width="0.55" />
<line x1="381.50" y1="358.43" x2="490.20" y2="358.43" stroke="#f2f2f2" stroke-width="0.55" />
<g fill="#8e8e8e" fill-opacity="0.7" stroke="#555" stroke-opacity="0.8" stroke-width="0.4">
<circle cx="444.3" cy="401.9" r="1.15"/>
<circle cx="433.3" cy="367.9" r="1.15"/>
<circle cx="436.2" cy="386.0" r="1.15"/>
<circle cx="422.1" cy="382.9" r="1.15"/>
<circle cx="442.7" cy="375.1" r="1.15"/>
<circle cx="414.6" cy="404.0" r="1.15"/>
<circle cx="443.8" cy="411.4" r="1.15"/>
<circle cx="428.1" cy="407.9" r="1.15"/>
<circle cx="416.0" cy="394.2" r="1.15"/>
<circle cx="419.0" cy="400.4" r="1.15"/>
<circle cx="416.9" cy="425.6" r="1.15"/>
<circle cx="465.6" cy="388.0" r="1.15"/>
<circle cx="424.5" cy="387.1" r="1.15"/>
<circle cx="435.7" cy="417.2" r="1.15"/>
<circle cx="454.3" cy="399.2" r="1.15"/>
<circle cx="483.1" cy="399.6" r="1.15"/>
<circle cx="419.2" cy="385.7" r="1.15"/>
<circle cx="436.7" cy="387.9" r="1.15"/>
<circle cx="437.2" cy="401.5" r="1.15"/>
<circle cx="438.3" cy="383.5" r="1.15"/>
<circle cx="398.1" cy="372.4" r="1.15"/>
<circle cx="420.8" cy="409.8" r="1.15"/>
<circle cx="427.5" cy="393.6" r="1.15"/>
<circle cx="421.0" cy="405.1" r="1.15"/>
<circle cx="439.3" cy="425.2" r="1.15"/>
<circle cx="420.3" cy="392.7" r="1.15"/>
<circle cx="392.5" cy="397.2" r="1.15"/>
<circle cx="422.4" cy="391.7" r="1.15"/>
<circle cx="444.4" cy="388.9" r="1.15"/>
<circle cx="429.5" cy="366.1" r="1.15"/>
<circle cx="429.0" cy="388.5" r="1.15"/>
<circle cx="432.1" cy="383.0" r="1.15"/>
<circle cx="438.5" cy="395.3" r="1.15"/>
<circle cx="450.3" cy="389.3" r="1.15"/>
<circle cx="434.9" cy="382.9" r="1.15"/>
<circle cx="443.8" cy="400.8" r="1.15"/>
<circle cx="433.7" cy="398.4" r="1.15"/>
<circle cx="431.7" cy="356.5" r="1.15"/>
<circle cx="424.0" cy="396.6" r="1.15"/>
<circle cx="467.9" cy="424.6" r="1.15"/>
<circle cx="452.4" cy="437.9" r="1.15"/>
<circle cx="408.5" cy="407.2" r="1.15"/>
<circle cx="438.0" cy="394.9" r="1.15"/>
<circle cx="432.4" cy="393.2" r="1.15"/>
<circle cx="466.3" cy="414.3" r="1.15"/>
<circle cx="432.4" cy="395.1" r="1.15"/>
<circle cx="391.2" cy="399.3" r="1.15"/>
<circle cx="440.4" cy="398.7" r="1.15"/>
<circle cx="456.2" cy="413.5" r="1.15"/>
<circle cx="457.8" cy="405.7" r="1.15"/>
<circle cx="408.2" cy="389.7" r="1.15"/>
<circle cx="413.9" cy="387.9" r="1.15"/>
<circle cx="430.8" cy="394.3" r="1.15"/>
<circle cx="432.1" cy="402.1" r="1.15"/>
<circle cx="422.7" cy="387.2" r="1.15"/>
<circle cx="447.6" cy="389.5" r="1.15"/>
<circle cx="434.5" cy="427.8" r="1.15"/>
<circle cx="453.9" cy="404.7" r="1.15"/>
<circle cx="418.0" cy="394.5" r="1.15"/>
<circle cx="432.9" cy="397.4" r="1.15"/>
<circle cx="426.4" cy="369.3" r="1.15"/>
<circle cx="393.9" cy="404.2" r="1.15"/>
<circle cx="415.0" cy="396.7" r="1.15"/>
<circle cx="444.3" cy="389.8" r="1.15"/>
<circle cx="431.0" cy="409.1" r="1.15"/>
<circle cx="448.4" cy="384.5" r="1.15"/>
<circle cx="440.9" cy="403.4" r="1.15"/>
<circle cx="432.6" cy="417.2" r="1.15"/>
<circle cx="415.8" cy="386.7" r="1.15"/>
<circle cx="423.4" cy="407.6" r="1.15"/>
<circle cx="418.8" cy="397.6" r="1.15"/>
<circle cx="454.1" cy="391.3" r="1.15"/>
<circle cx="439.5" cy="407.8" r="1.15"/>
<circle cx="436.2" cy="397.6" r="1.15"/>
<circle cx="429.7" cy="409.0" r="1.15"/>
<circle cx="430.1" cy="411.4" r="1.15"/>
<circle cx="431.8" cy="389.2" r="1.15"/>
<circle cx="453.0" cy="414.3" r="1.15"/>
<circle cx="444.0" cy="390.8" r="1.15"/>
<circle cx="442.6" cy="378.3" r="1.15"/>
<circle cx="410.3" cy="433.7" r="1.15"/>
<circle cx="444.6" cy="388.8" r="1.15"/>
<circle cx="437.7" cy="372.9" r="1.15"/>
<circle cx="415.0" cy="409.6" r="1.15"/>
<circle cx="434.8" cy="387.8" r="1.15"/>
<circle cx="425.1" cy="373.5" r="1.15"/>
<circle cx="405.7" cy="375.1" r="1.15"/>
<circle cx="390.1" cy="403.1" r="1.15"/>
<circle cx="435.0" cy="406.4" r="1.15"/>
<circle cx="443.3" cy="412.8" r="1.15"/>
<circle cx="436.0" cy="417.0" r="1.15"/>
<circle cx="433.7" cy="401.6" r="1.15"/>
<circle cx="395.2" cy="390.6" r="1.15"/>
<circle cx="437.5" cy="409.4" r="1.15"/>
<circle cx="436.0" cy="380.7" r="1.15"/>
<circle cx="444.2" cy="385.6" r="1.15"/>
<circle cx="439.1" cy="395.6" r="1.15"/>
<circle cx="427.4" cy="391.7" r="1.15"/>
<circle cx="438.9" cy="387.6" r="1.15"/>
<circle cx="423.8" cy="423.3" r="1.15"/>
<circle cx="423.0" cy="375.2" r="1.15"/>
<circle cx="401.7" cy="361.7" r="1.15"/>
<circle cx="448.1" cy="400.6" r="1.15"/>
<circle cx="457.5" cy="411.3" r="1.15"/>
<circle cx="444.2" cy="357.4" r="1.15"/>
<circle cx="445.7" cy="406.6" r="1.15"/>
<circle cx="429.5" cy="401.1" r="1.15"/>
<circle cx="433.5" cy="376.0" r="1.15"/>
<circle cx="463.7" cy="405.3" r="1.15"/>
<circle cx="444.1" cy="409.5" r="1.15"/>
<circle cx="435.9" cy="406.8" r="1.15"/>
<circle cx="414.8" cy="404.4" r="1.15"/>
<circle cx="436.1" cy="382.6" r="1.15"/>
<circle cx="433.1" cy="383.0" r="1.15"/>
<circle cx="435.2" cy="409.9" r="1.15"/>
<circle cx="433.1" cy="396.7" r="1.15"/>
<circle cx="447.2" cy="416.0" r="1.15"/>
<circle cx="418.6" cy="381.4" r="1.15"/>
<circle cx="430.5" cy="387.4" r="1.15"/>
<circle cx="434.3" cy="391.9" r="1.15"/>
<circle cx="446.0" cy="407.8" r="1.15"/>
<circle cx="432.1" cy="393.6" r="1.15"/>
<circle cx="416.0" cy="388.1" r="1.15"/>
<circle cx="433.7" cy="401.3" r="1.15"/>
<circle cx="427.5" cy="411.6" r="1.15"/>
<circle cx="458.7" cy="400.2" r="1.15"/>
<circle cx="424.4" cy="374.6" r="1.15"/>
<circle cx="444.2" cy="391.0" r="1.15"/>
<circle cx="401.2" cy="401.4" r="1.15"/>
<circle cx="446.9" cy="397.5" r="1.15"/>
<circle cx="443.9" cy="394.6" r="1.15"/>
<circle cx="446.5" cy="424.3" r="1.15"/>
<circle cx="445.0" cy="412.7" r="1.15"/>
<circle cx="436.2" cy="373.9" r="1.15"/>
<circle cx="431.8" cy="409.9" r="1.15"/>
<circle cx="436.3" cy="392.4" r="1.15"/>
<circle cx="447.4" cy="374.7" r="1.15"/>
<circle cx="423.5" cy="406.1" r="1.15"/>
<circle cx="418.4" cy="378.2" r="1.15"/>
<circle cx="473.0" cy="398.6" r="1.15"/>
<circle cx="448.7" cy="401.3" r="1.15"/>
<circle cx="406.6" cy="376.7" r="1.15"/>
<circle cx="428.2" cy="393.1" r="1.15"/>
<circle cx="444.9" cy="422.0" r="1.15"/>
<circle cx="426.4" cy="387.5" r="1.15"/>
<circle cx="426.0" cy="384.7" r="1.15"/>
<circle cx="458.3" cy="428.0" r="1.15"/>
<circle cx="443.5" cy="395.1" r="1.15"/>
<circle cx="419.7" cy="389.6" r="1.15"/>
<circle cx="435.2" cy="380.5" r="1.15"/>
<circle cx="419.0" cy="392.1" r="1.15"/>
<circle cx="425.8" cy="386.6" r="1.15"/>
<circle cx="430.9" cy="407.8" r="1.15"/>
<circle cx="437.8" cy="389.1" r="1.15"/>
<circle cx="442.0" cy="407.7" r="1.15"/>
<circle cx="440.4" cy="418.2" r="1.15"/>
<circle cx="440.5" cy="403.8" r="1.15"/>
<circle cx="414.8" cy="393.8" r="1.15"/>
<circle cx="443.6" cy="408.1" r="1.15"/>
<circle cx="432.1" cy="406.3" r="1.15"/>
<circle cx="423.1" cy="388.1" r="1.15"/>
<circle cx="415.2" cy="360.4" r="1.15"/>
<circle cx="460.5" cy="388.0" r="1.15"/>
<circle cx="430.8" cy="392.9" r="1.15"/>
<circle cx="426.0" cy="366.5" r="1.15"/>
<circle cx="419.9" cy="406.0" r="1.15"/>
<circle cx="432.0" cy="392.4" r="1.15"/>
<circle cx="422.5" cy="399.9" r="1.15"/>
<circle cx="440.6" cy="412.5" r="1.15"/>
<circle cx="425.4" cy="403.9" r="1.15"/>
<circle cx="450.3" cy="377.6" r="1.15"/>
<circle cx="416.2" cy="393.3" r="1.15"/>
<circle cx="436.6" cy="409.1" r="1.15"/>
<circle cx="432.2" cy="384.2" r="1.15"/>
<circle cx="402.0" cy="409.6" r="1.15"/>
<circle cx="460.9" cy="391.7" r="1.15"/>
<circle cx="420.9" cy="388.1" r="1.15"/>
<circle cx="431.0" cy="403.8" r="1.15"/>
<circle cx="448.4" cy="400.5" r="1.15"/>
<circle cx="450.5" cy="400.4" r="1.15"/>
<circle cx="453.2" cy="355.0" r="1.15"/>
<circle cx="445.6" cy="398.8" r="1.15"/>
<circle cx="446.4" cy="381.8" r="1.15"/>
<circle cx="427.7" cy="395.7" r="1.15"/>
<circle cx="442.9" cy="405.5" r="1.15"/>
<circle cx="419.3" cy="405.4" r="1.15"/>
<circle cx="448.2" cy="414.8" r="1.15"/>
<circle cx="428.7" cy="408.9" r="1.15"/>
<circle cx="428.4" cy="392.7" r="1.15"/>
<circle cx="452.2" cy="390.4" r="1.15"/>
<circle cx="393.1" cy="385.7" r="1.15"/>
<circle cx="437.6" cy="403.3" r="1.15"/>
<circle cx="437.1" cy="380.7" r="1.15"/>
<circle cx="429.2" cy="371.4" r="1.15"/>
<circle cx="475.8" cy="418.8" r="1.15"/>
<circle cx="428.3" cy="397.0" r="1.15"/>
<circle cx="425.2" cy="415.7" r="1.15"/>
<circle cx="440.2" cy="399.6" r="1.15"/>
<circle cx="438.3" cy="402.2" r="1.15"/>
<circle cx="430.1" cy="417.7" r="1.15"/>
<circle cx="444.8" cy="381.5" r="1.15"/>
<circle cx="444.5" cy="400.1" r="1.15"/>
<circle cx="430.4" cy="394.6" r="1.15"/>
<circle cx="446.1" cy="387.6" r="1.15"/>
<circle cx="452.4" cy="415.3" r="1.15"/>
<circle cx="424.6" cy="395.4" r="1.15"/>
<circle cx="443.0" cy="384.8" r="1.15"/>
<circle cx="416.7" cy="412.4" r="1.15"/>
<circle cx="444.4" cy="389.2" r="1.15"/>
<circle cx="436.5" cy="385.2" r="1.15"/>
<circle cx="434.6" cy="387.9" r="1.15"/>
<circle cx="414.9" cy="417.8" r="1.15"/>
<circle cx="416.5" cy="391.1" r="1.15"/>
<circle cx="385.0" cy="372.0" r="1.15"/>
<circle cx="442.3" cy="430.9" r="1.15"/>
<circle cx="439.5" cy="410.5" r="1.15"/>
<circle cx="420.7" cy="397.8" r="1.15"/>
<circle cx="438.2" cy="396.9" r="1.15"/>
<circle cx="406.2" cy="370.7" r="1.15"/>
<circle cx="406.2" cy="411.4" r="1.15"/>
<circle cx="433.3" cy="382.1" r="1.15"/>
<circle cx="415.2" cy="377.3" r="1.15"/>
<circle cx="435.3" cy="421.7" r="1.15"/>
<circle cx="423.1" cy="389.7" r="1.15"/>
<circle cx="424.7" cy="433.1" r="1.15"/>
<circle cx="420.0" cy="402.0" r="1.15"/>
<circle cx="455.6" cy="416.0" r="1.15"/>
<circle cx="429.8" cy="399.8" r="1.15"/>
<circle cx="427.7" cy="406.6" r="1.15"/>
<circle cx="440.1" cy="392.1" r="1.15"/>
<circle cx="386.6" cy="391.3" r="1.15"/>
<circle cx="427.3" cy="411.9" r="1.15"/>
<circle cx="442.5" cy="384.3" r="1.15"/>
<circle cx="426.8" cy="401.4" r="1.15"/>
<circle cx="455.6" cy="395.1" r="1.15"/>
<circle cx="431.7" cy="373.5" r="1.15"/>
<circle cx="416.9" cy="407.1" r="1.15"/>
<circle cx="435.0" cy="409.9" r="1.15"/>
<circle cx="431.5" cy="425.7" r="1.15"/>
<circle cx="440.0" cy="401.0" r="1.15"/>
<circle cx="439.7" cy="369.1" r="1.15"/>
<circle cx="441.7" cy="398.4" r="1.15"/>
<circle cx="418.8" cy="420.2" r="1.15"/>
<circle cx="437.6" cy="370.4" r="1.15"/>
<circle cx="440.6" cy="409.3" r="1.15"/>
<circle cx="434.1" cy="378.2" r="1.15"/>
<circle cx="414.9" cy="391.3" r="1.15"/>
<circle cx="425.1" cy="379.5" r="1.15"/>
<circle cx="420.4" cy="407.6" r="1.15"/>
<circle cx="408.1" cy="393.5" r="1.15"/>
<circle cx="461.8" cy="403.4" r="1.15"/>
<circle cx="444.5" cy="393.3" r="1.15"/>
<circle cx="453.1" cy="382.5" r="1.15"/>
<circle cx="440.2" cy="397.3" r="1.15"/>
<circle cx="460.5" cy="425.7" r="1.15"/>
<circle cx="439.1" cy="388.6" r="1.15"/>
<circle cx="431.7" cy="422.6" r="1.15"/>
<circle cx="437.9" cy="397.9" r="1.15"/>
<circle cx="432.7" cy="413.7" r="1.15"/>
<circle cx="422.6" cy="384.6" r="1.15"/>
<circle cx="415.9" cy="391.2" r="1.15"/>
<circle cx="402.4" cy="384.1" r="1.15"/>
<circle cx="436.5" cy="395.2" r="1.15"/>
<circle cx="437.9" cy="388.3" r="1.15"/>
<circle cx="422.0" cy="386.1" r="1.15"/>
<circle cx="442.4" cy="388.4" r="1.15"/>
<circle cx="427.4" cy="418.7" r="1.15"/>
<circle cx="454.0" cy="384.0" r="1.15"/>
<circle cx="423.0" cy="397.5" r="1.15"/>
<circle cx="447.7" cy="430.8" r="1.15"/>
<circle cx="423.8" cy="370.6" r="1.15"/>
<circle cx="426.6" cy="382.4" r="1.15"/>
<circle cx="395.7" cy="394.5" r="1.15"/>
<circle cx="397.6" cy="374.1" r="1.15"/>
<circle cx="425.6" cy="386.0" r="1.15"/>
<circle cx="443.5" cy="383.6" r="1.15"/>
<circle cx="415.8" cy="395.6" r="1.15"/>
<circle cx="427.0" cy="413.8" r="1.15"/>
<circle cx="419.7" cy="412.2" r="1.15"/>
<circle cx="444.7" cy="389.1" r="1.15"/>
<circle cx="447.9" cy="400.3" r="1.15"/>
<circle cx="440.2" cy="354.2" r="1.15"/>
<circle cx="441.6" cy="368.0" r="1.15"/>
<circle cx="430.1" cy="377.6" r="1.15"/>
<circle cx="439.6" cy="428.6" r="1.15"/>
<circle cx="428.8" cy="379.9" r="1.15"/>
<circle cx="439.8" cy="380.1" r="1.15"/>
<circle cx="449.4" cy="398.7" r="1.15"/>
<circle cx="434.7" cy="394.8" r="1.15"/>
<circle cx="431.8" cy="429.1" r="1.15"/>
<circle cx="452.0" cy="365.8" r="1.15"/>
<circle cx="421.7" cy="387.0" r="1.15"/>
<circle cx="419.3" cy="370.3" r="1.15"/>
<circle cx="446.2" cy="407.1" r="1.15"/>
<circle cx="425.6" cy="440.7" r="1.15"/>
<circle cx="431.8" cy="385.0" r="1.15"/>
<circle cx="430.5" cy="382.8" r="1.15"/>
<circle cx="421.5" cy="369.0" r="1.15"/>
<circle cx="422.2" cy="379.1" r="1.15"/>
<circle cx="475.1" cy="399.5" r="1.15"/>
<circle cx="427.9" cy="400.2" r="1.15"/>
<circle cx="414.9" cy="395.9" r="1.15"/>
<circle cx="430.2" cy="398.6" r="1.15"/>
<circle cx="448.8" cy="384.5" r="1.15"/>
<circle cx="413.2" cy="367.8" r="1.15"/>
<circle cx="436.0" cy="397.9" r="1.15"/>
<circle cx="446.7" cy="370.2" r="1.15"/>
<circle cx="446.1" cy="386.9" r="1.15"/>
<circle cx="452.0" cy="411.1" r="1.15"/>
<circle cx="433.6" cy="402.5" r="1.15"/>
<circle cx="427.1" cy="431.5" r="1.15"/>
<circle cx="426.5" cy="401.2" r="1.15"/>
<circle cx="431.1" cy="379.9" r="1.15"/>
<circle cx="431.7" cy="409.7" r="1.15"/>
<circle cx="440.4" cy="416.8" r="1.15"/>
<circle cx="444.7" cy="421.0" r="1.15"/>
<circle cx="439.0" cy="390.9" r="1.15"/>
<circle cx="418.1" cy="367.8" r="1.15"/>
<circle cx="443.7" cy="406.5" r="1.15"/>
<circle cx="421.4" cy="383.6" r="1.15"/>
<circle cx="436.8" cy="402.8" r="1.15"/>
<circle cx="431.7" cy="405.2" r="1.15"/>
<circle cx="421.9" cy="409.8" r="1.15"/>
<circle cx="442.0" cy="422.6" r="1.15"/>
<circle cx="445.7" cy="410.2" r="1.15"/>
<circle cx="419.9" cy="406.0" r="1.15"/>
<circle cx="434.1" cy="424.5" r="1.15"/>
<circle cx="432.7" cy="392.0" r="1.15"/>
<circle cx="427.6" cy="415.0" r="1.15"/>
<circle cx="428.6" cy="371.9" r="1.15"/>
<circle cx="411.4" cy="372.1" r="1.15"/>
<circle cx="430.4" cy="420.2" r="1.15"/>
<circle cx="414.1" cy="406.4" r="1.15"/>
<circle cx="416.2" cy="412.5" r="1.15"/>
<circle cx="461.8" cy="423.4" r="1.15"/>
<circle cx="409.2" cy="395.1" r="1.15"/>
<circle cx="437.1" cy="402.7" r="1.15"/>
<circle cx="430.8" cy="409.5" r="1.15"/>
<circle cx="434.9" cy="379.0" r="1.15"/>
<circle cx="432.4" cy="411.3" r="1.15"/>
<circle cx="432.0" cy="381.1" r="1.15"/>
<circle cx="434.6" cy="408.0" r="1.15"/>
<circle cx="463.7" cy="388.4" r="1.15"/>
<circle cx="419.5" cy="419.5" r="1.15"/>
<circle cx="485.6" cy="403.2" r="1.15"/>
<circle cx="437.9" cy="389.9" r="1.15"/>
<circle cx="434.6" cy="390.1" r="1.15"/>
<circle cx="425.1" cy="405.2" r="1.15"/>
<circle cx="485.1" cy="415.4" r="1.15"/>
<circle cx="443.8" cy="382.2" r="1.15"/>
<circle cx="443.2" cy="384.4" r="1.15"/>
<circle cx="443.5" cy="402.7" r="1.15"/>
<circle cx="417.1" cy="399.1" r="1.15"/>
<circle cx="409.1" cy="365.9" r="1.15"/>
<circle cx="442.1" cy="412.3" r="1.15"/>
<circle cx="460.8" cy="379.6" r="1.15"/>
<circle cx="430.4" cy="407.8" r="1.15"/>
<circle cx="438.7" cy="395.1" r="1.15"/>
<circle cx="435.6" cy="391.6" r="1.15"/>
<circle cx="440.3" cy="424.0" r="1.15"/>
<circle cx="430.5" cy="387.2" r="1.15"/>
<circle cx="457.0" cy="376.9" r="1.15"/>
<circle cx="385.2" cy="391.0" r="1.15"/>
<circle cx="415.0" cy="409.5" r="1.15"/>
<circle cx="417.5" cy="414.6" r="1.15"/>
<circle cx="415.4" cy="404.2" r="1.15"/>
<circle cx="436.4" cy="420.9" r="1.15"/>
<circle cx="426.9" cy="407.7" r="1.15"/>
<circle cx="446.3" cy="400.6" r="1.15"/>
<circle cx="457.5" cy="398.3" r="1.15"/>
<circle cx="434.2" cy="393.4" r="1.15"/>
<circle cx="437.4" cy="434.8" r="1.15"/>
<circle cx="397.2" cy="392.3" r="1.15"/>
<circle cx="470.8" cy="398.6" r="1.15"/>
<circle cx="427.1" cy="400.2" r="1.15"/>
<circle cx="423.6" cy="382.9" r="1.15"/>
<circle cx="440.7" cy="417.3" r="1.15"/>
<circle cx="425.4" cy="399.2" r="1.15"/>
<circle cx="429.5" cy="396.7" r="1.15"/>
<circle cx="419.2" cy="403.0" r="1.15"/>
<circle cx="454.5" cy="416.4" r="1.15"/>
<circle cx="428.8" cy="421.1" r="1.15"/>
<circle cx="433.3" cy="385.6" r="1.15"/>
<circle cx="457.5" cy="385.6" r="1.15"/>
<circle cx="412.5" cy="425.2" r="1.15"/>
<circle cx="462.8" cy="409.4" r="1.15"/>
<circle cx="468.6" cy="405.8" r="1.15"/>
<circle cx="414.6" cy="393.5" r="1.15"/>
<circle cx="415.9" cy="408.0" r="1.15"/>
<circle cx="452.2" cy="389.6" r="1.15"/>
<circle cx="432.9" cy="401.4" r="1.15"/>
<circle cx="440.6" cy="385.8" r="1.15"/>
<circle cx="418.2" cy="395.0" r="1.15"/>
<circle cx="440.7" cy="392.0" r="1.15"/>
<circle cx="421.6" cy="401.3" r="1.15"/>
<circle cx="448.1" cy="386.0" r="1.15"/>
<circle cx="418.8" cy="389.1" r="1.15"/>
<circle cx="425.8" cy="411.8" r="1.15"/>
<circle cx="430.9" cy="399.1" r="1.15"/>
<circle cx="416.3" cy="385.6" r="1.15"/>
<circle cx="446.1" cy="395.1" r="1.15"/>
<circle cx="434.6" cy="403.3" r="1.15"/>
<circle cx="419.5" cy="418.8" r="1.15"/>
<circle cx="421.0" cy="409.1" r="1.15"/>
<circle cx="427.1" cy="383.2" r="1.15"/>
<circle cx="456.9" cy="393.3" r="1.15"/>
<circle cx="485.3" cy="413.1" r="1.15"/>
<circle cx="429.8" cy="387.6" r="1.15"/>
<circle cx="427.1" cy="381.8" r="1.15"/>
<circle cx="422.1" cy="402.0" r="1.15"/>
<circle cx="420.5" cy="384.8" r="1.15"/>
<circle cx="453.4" cy="373.4" r="1.15"/>
<circle cx="416.9" cy="390.5" r="1.15"/>
<circle cx="428.5" cy="402.8" r="1.15"/>
<circle cx="434.0" cy="376.5" r="1.15"/>
<circle cx="444.7" cy="422.7" r="1.15"/>
<circle cx="427.5" cy="392.0" r="1.15"/>
<circle cx="435.3" cy="417.0" r="1.15"/>
<circle cx="410.6" cy="365.5" r="1.15"/>
<circle cx="392.0" cy="373.1" r="1.15"/>
</g>
<path d="M384.80,385.40 Q435.95,395.85 487.10,397.90 L487.10,405.10 Q435.95,394.65 384.80,392.60 Z" fill="#bcc2e6" fill-opacity="0.6"/>
<line x1="384.80" y1="389.00" x2="487.10" y2="401.50" stroke="#5159ab" stroke-width="0.75" />
<line x1="381.50" y1="350.50" x2="490.20" y2="350.50" stroke="#4d4d4d" stroke-width="0.9" />
<line x1="490.20" y1="350.50" x2="490.20" y2="453.30" stroke="#4d4d4d" stroke-width="0.9" />
<line x1="381.50" y1="350.05" x2="381.50" y2="453.85" stroke="#333" stroke-width="1.1" />
<line x1="380.95" y1="453.30" x2="490.65" y2="453.30" stroke="#333" stroke-width="1.1" />
<line x1="404.80" y1="453.30" x2="404.80" y2="456.20" stroke="#333" stroke-width="0.75" />
<line x1="432.40" y1="453.30" x2="432.40" y2="456.20" stroke="#333" stroke-width="0.75" />
<line x1="460.00" y1="453.30" x2="460.00" y2="456.20" stroke="#333" stroke-width="0.75" />
<line x1="487.60" y1="453.30" x2="487.60" y2="456.20" stroke="#333" stroke-width="0.75" />
<line x1="378.70" y1="350.50" x2="381.50" y2="350.50" stroke="#333" stroke-width="0.75" />
<line x1="378.70" y1="366.35" x2="381.50" y2="366.35" stroke="#333" stroke-width="0.75" />
<line x1="378.70" y1="382.20" x2="381.50" y2="382.20" stroke="#333" stroke-width="0.75" />
<line x1="378.70" y1="398.05" x2="381.50" y2="398.05" stroke="#333" stroke-width="0.75" />
<line x1="378.70" y1="413.90" x2="381.50" y2="413.90" stroke="#333" stroke-width="0.75" />
<line x1="378.70" y1="429.75" x2="381.50" y2="429.75" stroke="#333" stroke-width="0.75" />
<line x1="378.70" y1="445.60" x2="381.50" y2="445.60" stroke="#333" stroke-width="0.75" />
</g>
<g filter="url(#bt)">
<text transform="translate(9.50,9.10) scale(1,1)" font-size="7.2" text-anchor="middle" fill="#222" stroke="#222" stroke-width="0.35" >A</text>
<text transform="translate(65.30,15.80) scale(1,1)" font-size="5.8" text-anchor="end" fill="#2a2a2a" stroke="#2a2a2a" stroke-width="0.12" >Th17 cells</text>
<text transform="translate(65.30,21.61) scale(1,1)" font-size="5.8" text-anchor="end" fill="#2a2a2a" stroke="#2a2a2a" stroke-width="0.12" >NK CD56bright cells</text>
<text transform="translate(65.30,27.42) scale(1,1)" font-size="5.8" text-anchor="end" fill="#2a2a2a" stroke="#2a2a2a" stroke-width="0.12" >Eosinophils</text>
<text transform="translate(65.30,33.23) scale(1,1)" font-size="5.8" text-anchor="end" fill="#2a2a2a" stroke="#2a2a2a" stroke-width="0.12" >Neutrophils</text>
<text transform="translate(65.30,39.03) scale(1,1)" font-size="5.8" text-anchor="end" fill="#2a2a2a" stroke="#2a2a2a" stroke-width="0.12" >Mast cells</text>
<text transform="translate(65.30,44.84) scale(1,1)" font-size="5.8" text-anchor="end" fill="#2a2a2a" stroke="#2a2a2a" stroke-width="0.12" >TFH</text>
<text transform="translate(65.30,50.65) scale(1,1)" font-size="5.8" text-anchor="end" fill="#2a2a2a" stroke="#2a2a2a" stroke-width="0.12" >NK CD56dim cells</text>
<text transform="translate(65.30,56.46) scale(1,1)" font-size="5.8" text-anchor="end" fill="#2a2a2a" stroke="#2a2a2a" stroke-width="0.12" >NK cells</text>
<text transform="translate(65.30,62.27) scale(1,1)" font-size="5.8" text-anchor="end" fill="#2a2a2a" stroke="#2a2a2a" stroke-width="0.12" >Th2 cells</text>
<text transform="translate(65.30,68.08) scale(1,1)" font-size="5.8" text-anchor="end" fill="#2a2a2a" stroke="#2a2a2a" stroke-width="0.12" >pDC</text>
<text transform="translate(65.30,73.89) scale(1,1)" font-size="5.8" text-anchor="end" fill="#2a2a2a" stroke="#2a2a2a" stroke-width="0.12" >iDC</text>
<text transform="translate(65.30,79.70) scale(1,1)" font-size="5.8" text-anchor="end" fill="#2a2a2a" stroke="#2a2a2a" stroke-width="0.12" >CD8 T cells</text>
<text transform="translate(65.30,85.50) scale(1,1)" font-size="5.8" text-anchor="end" fill="#2a2a2a" stroke="#2a2a2a" stroke-width="0.12" >aDC</text>
<text transform="translate(65.30,91.31) scale(1,1)" font-size="5.8" text-anchor="end" fill="#2a2a2a" stroke="#2a2a2a" stroke-width="0.12" >Tgd</text>
<text transform="translate(65.30,97.12) scale(1,1)" font-size="5.8" text-anchor="end" fill="#2a2a2a" stroke="#2a2a2a" stroke-width="0.12" >B cells</text>
<text transform="translate(65.30,102.93) scale(1,1)" font-size="5.8" text-anchor="end" fill="#2a2a2a" stroke="#2a2a2a" stroke-width="0.12" >Tcm</text>
<text transform="translate(65.30,108.74) scale(1,1)" font-size="5.8" text-anchor="end" fill="#2a2a2a" stroke="#2a2a2a" stroke-width="0.12" >TReg</text>
<text transform="translate(65.30,114.55) scale(1,1)" font-size="5.8" text-anchor="end" fill="#2a2a2a" stroke="#2a2a2a" stroke-width="0.12" >Macrophages</text>
<text transform="translate(65.30,120.36) scale(1,1)" font-size="5.8" text-anchor="end" fill="#2a2a2a" stroke="#2a2a2a" stroke-width="0.12" >Tem</text>
<text transform="translate(65.30,126.17) scale(1,1)" font-size="5.8" text-anchor="end" fill="#2a2a2a" stroke="#2a2a2a" stroke-width="0.12" >T cells</text>
<text transform="translate(65.30,131.97) scale(1,1)" font-size="5.8" text-anchor="end" fill="#2a2a2a" stroke="#2a2a2a" stroke-width="0.12" >Cytotoxic cells</text>
<text transform="translate(65.30,137.78) scale(1,1)" font-size="5.8" text-anchor="end" fill="#2a2a2a" stroke="#2a2a2a" stroke-width="0.12" >DC</text>
<text transform="translate(65.30,143.59) scale(1,1)" font-size="5.8" text-anchor="end" fill="#2a2a2a" stroke="#2a2a2a" stroke-width="0.12" >Th1 cells</text>
<text transform="translate(65.30,149.40) scale(1,1)" font-size="5.8" text-anchor="end" fill="#2a2a2a" stroke="#2a2a2a" stroke-width="0.12" >T helper cells</text>
<text transform="translate(72.00,159.70) scale(1,1)" font-size="5.4" text-anchor="middle" fill="#333" stroke="#333" stroke-width="0.12" >-0.2</text>
<text transform="translate(96.50,159.70) scale(1,1)" font-size="5.4" text-anchor="middle" fill="#333" stroke="#333" stroke-width="0.12" >-0.1</text>
<text transform="translate(121.00,159.70) scale(1,1)" font-size="5.4" text-anchor="middle" fill="#333" stroke="#333" stroke-width="0.12" >0.0</text>
<text transform="translate(145.50,159.70) scale(1,1)" font-size="5.4" text-anchor="middle" fill="#333" stroke="#333" stroke-width="0.12" >0.1</text>
<text transform="translate(170.00,159.70) scale(1,1)" font-size="5.4" text-anchor="middle" fill="#333" stroke="#333" stroke-width="0.12" >0.2</text>
<text transform="translate(175.30,41.80) scale(1,1)" font-size="4.9" fill="#333" stroke="#333" stroke-width="0.12" >P value</text>
<text transform="translate(186.20,53.03) scale(1,1)" font-size="4.9" fill="#333" stroke="#333" stroke-width="0.12" >0.75</text>
<text transform="translate(186.20,61.85) scale(1,1)" font-size="4.9" fill="#333" stroke="#333" stroke-width="0.12" >0.50</text>
<text transform="translate(186.20,70.67) scale(1,1)" font-size="4.9" fill="#333" stroke="#333" stroke-width="0.12" >0.25</text>
<text transform="translate(175.30,88.80) scale(1,1)" font-size="4.8" fill="#333" stroke="#333" stroke-width="0.12" >Correlation</text>
<text transform="translate(186.20,96.30) scale(1,1)" font-size="4.7" fill="#333" stroke="#333" stroke-width="0.12" >0.05</text>
<text transform="translate(186.20,102.70) scale(1,1)" font-size="4.7" fill="#333" stroke="#333" stroke-width="0.12" >0.10</text>
<text transform="translate(186.20,109.30) scale(1,1)" font-size="4.7" fill="#333" stroke="#333" stroke-width="0.12" >0.15</text>
<text transform="translate(222.50,10.30) scale(1,1)" font-size="7.2" text-anchor="middle" fill="#222" stroke="#222" stroke-width="0.35" >B</text>
<text transform="translate(245.20,40.10) scale(1,1)" font-size="5.1" text-anchor="end" fill="#333" stroke="#333" stroke-width="0.12" >0.8</text>
<text transform="translate(245.20,55.20) scale(1,1)" font-size="5.1" text-anchor="end" fill="#333" stroke="#333" stroke-width="0.12" >0.6</text>
<text transform="translate(245.20,70.30) scale(1,1)" font-size="5.1" text-anchor="end" fill="#333" stroke="#333" stroke-width="0.12" >0.4</text>
<text transform="translate(245.20,85.40) scale(1,1)" font-size="5.1" text-anchor="end" fill="#333" stroke="#333" stroke-width="0.12" >0.2</text>
<text transform="translate(245.20,100.50) scale(1,1)" font-size="5.1" text-anchor="end" fill="#333" stroke="#333" stroke-width="0.12" >0.0</text>
<text transform="translate(245.20,115.60) scale(1,1)" font-size="5.1" text-anchor="end" fill="#333" stroke="#333" stroke-width="0.12" >-0.2</text>
<text transform="translate(230.60,70.70) rotate(-90) scale(1,1)" font-size="6.6" text-anchor="middle" fill="#222" stroke="#222" stroke-width="0.12" >Enrichment scores</text>
<text transform="translate(332.80,24.30) scale(1,1)" font-size="6.6" text-anchor="middle" fill="#222" stroke="#222" stroke-width="0.12" >Correlation</text>
<text transform="translate(257.30,117.90) rotate(-45) scale(1,1)" font-size="5.85" text-anchor="end" fill="#333" stroke="#333" stroke-width="0.12" dominant-baseline="hanging">aDC</text>
<text transform="translate(256.30,32.80) scale(1,1)" font-size="5.5" text-anchor="middle" fill="#333" stroke="#333" stroke-width="0.12" >ns</text>
<text transform="translate(269.83,117.90) rotate(-45) scale(1,1)" font-size="5.85" text-anchor="end" fill="#333" stroke="#333" stroke-width="0.12" dominant-baseline="hanging">B cells</text>
<text transform="translate(268.83,32.80) scale(1,1)" font-size="5.5" text-anchor="middle" fill="#333" stroke="#333" stroke-width="0.12" >ns</text>
<text transform="translate(282.36,117.90) rotate(-45) scale(1,1)" font-size="5.85" text-anchor="end" fill="#333" stroke="#333" stroke-width="0.12" dominant-baseline="hanging">CD8 T cells</text>
<text transform="translate(281.36,32.80) scale(1,1)" font-size="5.5" text-anchor="middle" fill="#333" stroke="#333" stroke-width="0.12" >ns</text>
<text transform="translate(294.89,117.90) rotate(-45) scale(1,1)" font-size="5.85" text-anchor="end" fill="#333" stroke="#333" stroke-width="0.12" dominant-baseline="hanging">Cytotoxic cells</text>
<text transform="translate(293.89,34.30) scale(1,1)" font-size="5.5" text-anchor="middle" fill="#333" stroke="#333" stroke-width="0.12" >*</text>
<text transform="translate(307.42,117.90) rotate(-45) scale(1,1)" font-size="5.85" text-anchor="end" fill="#333" stroke="#333" stroke-width="0.12" dominant-baseline="hanging">DC</text>
<text transform="translate(306.42,34.30) scale(1,1)" font-size="5.5" text-anchor="middle" fill="#333" stroke="#333" stroke-width="0.12" >**</text>
<text transform="translate(319.95,117.90) rotate(-45) scale(1,1)" font-size="5.85" text-anchor="end" fill="#333" stroke="#333" stroke-width="0.12" dominant-baseline="hanging">Eosinophils</text>
<text transform="translate(318.95,32.80) scale(1,1)" font-size="5.5" text-anchor="middle" fill="#333" stroke="#333" stroke-width="0.12" >ns</text>
<text transform="translate(332.48,117.90) rotate(-45) scale(1,1)" font-size="5.85" text-anchor="end" fill="#333" stroke="#333" stroke-width="0.12" dominant-baseline="hanging">iDC</text>
<text transform="translate(331.48,32.80) scale(1,1)" font-size="5.5" text-anchor="middle" fill="#333" stroke="#333" stroke-width="0.12" >ns</text>
<text transform="translate(345.01,117.90) rotate(-45) scale(1,1)" font-size="5.85" text-anchor="end" fill="#333" stroke="#333" stroke-width="0.12" dominant-baseline="hanging">Macrophages</text>
<text transform="translate(344.01,32.80) scale(1,1)" font-size="5.5" text-anchor="middle" fill="#333" stroke="#333" stroke-width="0.12" >ns</text>
<text transform="translate(357.54,117.90) rotate(-45) scale(1,1)" font-size="5.85" text-anchor="end" fill="#333" stroke="#333" stroke-width="0.12" dominant-baseline="hanging">Mast cells</text>
<text transform="translate(356.54,32.80) scale(1,1)" font-size="5.5" text-anchor="middle" fill="#333" stroke="#333" stroke-width="0.12" >ns</text>
<text transform="translate(370.07,117.90) rotate(-45) scale(1,1)" font-size="5.85" text-anchor="end" fill="#333" stroke="#333" stroke-width="0.12" dominant-baseline="hanging">Neutrophils</text>
<text transform="translate(369.07,32.80) scale(1,1)" font-size="5.5" text-anchor="middle" fill="#333" stroke="#333" stroke-width="0.12" >ns</text>
<text transform="translate(382.60,117.90) rotate(-45) scale(1,1)" font-size="5.85" text-anchor="end" fill="#333" stroke="#333" stroke-width="0.12" dominant-baseline="hanging">NK CD56bright cells</text>
<text transform="translate(381.60,32.80) scale(1,1)" font-size="5.5" text-anchor="middle" fill="#333" stroke="#333" stroke-width="0.12" >ns</text>
<text transform="translate(395.13,117.90) rotate(-45) scale(1,1)" font-size="5.85" text-anchor="end" fill="#333" stroke="#333" stroke-width="0.12" dominant-baseline="hanging">NK CD56dim cells</text>
<text transform="translate(394.13,32.80) scale(1,1)" font-size="5.5" text-anchor="middle" fill="#333" stroke="#333" stroke-width="0.12" >ns</text>
<text transform="translate(407.66,117.90) rotate(-45) scale(1,1)" font-size="5.85" text-anchor="end" fill="#333" stroke="#333" stroke-width="0.12" dominant-baseline="hanging">NK cells</text>
<text transform="translate(406.66,32.80) scale(1,1)" font-size="5.5" text-anchor="middle" fill="#333" stroke="#333" stroke-width="0.12" >ns</text>
<text transform="translate(420.19,117.90) rotate(-45) scale(1,1)" font-size="5.85" text-anchor="end" fill="#333" stroke="#333" stroke-width="0.12" dominant-baseline="hanging">pDC</text>
<text transform="translate(419.19,32.80) scale(1,1)" font-size="5.5" text-anchor="middle" fill="#333" stroke="#333" stroke-width="0.12" >ns</text>
<text transform="translate(432.72,117.90) rotate(-45) scale(1,1)" font-size="5.85" text-anchor="end" fill="#333" stroke="#333" stroke-width="0.12" dominant-baseline="hanging">T cells</text>
<text transform="translate(431.72,34.30) scale(1,1)" font-size="5.5" text-anchor="middle" fill="#333" stroke="#333" stroke-width="0.12" >*</text>
<text transform="translate(445.25,117.90) rotate(-45) scale(1,1)" font-size="5.85" text-anchor="end" fill="#333" stroke="#333" stroke-width="0.12" dominant-baseline="hanging">T helper cells</text>
<text transform="translate(444.25,34.30) scale(1,1)" font-size="5.5" text-anchor="middle" fill="#333" stroke="#333" stroke-width="0.12" >***</text>
<text transform="translate(457.78,117.90) rotate(-45) scale(1,1)" font-size="5.85" text-anchor="end" fill="#333" stroke="#333" stroke-width="0.12" dominant-baseline="hanging">Tcm</text>
<text transform="translate(456.78,32.80) scale(1,1)" font-size="5.5" text-anchor="middle" fill="#333" stroke="#333" stroke-width="0.12" >ns</text>
<text transform="translate(470.31,117.90) rotate(-45) scale(1,1)" font-size="5.85" text-anchor="end" fill="#333" stroke="#333" stroke-width="0.12" dominant-baseline="hanging">Tem</text>
<text transform="translate(469.31,34.30) scale(1,1)" font-size="5.5" text-anchor="middle" fill="#333" stroke="#333" stroke-width="0.12" >*</text>
<text transform="translate(482.84,117.90) rotate(-45) scale(1,1)" font-size="5.85" text-anchor="end" fill="#333" stroke="#333" stroke-width="0.12" dominant-baseline="hanging">TFH</text>
<text transform="translate(481.84,32.80) scale(1,1)" font-size="5.5" text-anchor="middle" fill="#333" stroke="#333" stroke-width="0.12" >ns</text>
<text transform="translate(495.37,117.90) rotate(-45) scale(1,1)" font-size="5.85" text-anchor="end" fill="#333" stroke="#333" stroke-width="0.12" dominant-baseline="hanging">Tgd</text>
<text transform="translate(494.37,32.80) scale(1,1)" font-size="5.5" text-anchor="middle" fill="#333" stroke="#333" stroke-width="0.12" >ns</text>
<text transform="translate(507.90,117.90) rotate(-45) scale(1,1)" font-size="5.85" text-anchor="end" fill="#333" stroke="#333" stroke-width="0.12" dominant-baseline="hanging">Th1 cells</text>
<text transform="translate(506.90,34.30) scale(1,1)" font-size="5.5" text-anchor="middle" fill="#333" stroke="#333" stroke-width="0.12" >**</text>
<text transform="translate(520.43,117.90) rotate(-45) scale(1,1)" font-size="5.85" text-anchor="end" fill="#333" stroke="#333" stroke-width="0.12" dominant-baseline="hanging">Th17 cells</text>
<text transform="translate(519.43,34.30) scale(1,1)" font-size="5.5" text-anchor="middle" fill="#333" stroke="#333" stroke-width="0.12" >***</text>
<text transform="translate(527.30,59.10) scale(1,1)" font-size="4.9" fill="#333" stroke="#333" stroke-width="0.12" >FUT2</text>
<text transform="translate(536.80,66.20) scale(1,1)" font-size="4.9" fill="#333" stroke="#333" stroke-width="0.12" >Low</text>
<text transform="translate(536.80,73.30) scale(1,1)" font-size="4.9" fill="#333" stroke="#333" stroke-width="0.12" >High</text>
<text transform="translate(9.00,178.20) scale(1,1)" font-size="7.2" text-anchor="middle" fill="#222" stroke="#222" stroke-width="0.35" >C</text>
<text transform="translate(149.60,272.70) scale(1,1)" font-size="5.7" text-anchor="end" fill="#4f58a8" stroke="#4f58a8" stroke-width="0.15" >Spearman</text>
<text transform="translate(149.60,281.80) scale(1,1)" font-size="5.7" text-anchor="end" fill="#4f58a8" stroke="#4f58a8" stroke-width="0.15" >r = 0.166</text>
<text transform="translate(149.60,289.20) scale(1,1)" font-size="5.7" text-anchor="end" fill="#4f58a8" stroke="#4f58a8" stroke-width="0.15" >P &lt; 0.001</text>
<text transform="translate(68.80,301.20) scale(1,1)" font-size="5.4" text-anchor="middle" fill="#333" stroke="#333" stroke-width="0.12" >2</text>
<text transform="translate(96.06,301.20) scale(1,1)" font-size="5.4" text-anchor="middle" fill="#333" stroke="#333" stroke-width="0.12" >4</text>
<text transform="translate(123.32,301.20) scale(1,1)" font-size="5.4" text-anchor="middle" fill="#333" stroke="#333" stroke-width="0.12" >6</text>
<text transform="translate(150.58,301.20) scale(1,1)" font-size="5.4" text-anchor="middle" fill="#333" stroke="#333" stroke-width="0.12" >8</text>
<text transform="translate(41.20,200.40) scale(1,1)" font-size="5.4" text-anchor="end" fill="#333" stroke="#333" stroke-width="0.12" >0.5</text>
<text transform="translate(41.20,215.40) scale(1,1)" font-size="5.4" text-anchor="end" fill="#333" stroke="#333" stroke-width="0.12" >0.4</text>
<text transform="translate(41.20,230.40) scale(1,1)" font-size="5.4" text-anchor="end" fill="#333" stroke="#333" stroke-width="0.12" >0.3</text>
<text transform="translate(41.20,245.40) scale(1,1)" font-size="5.4" text-anchor="end" fill="#333" stroke="#333" stroke-width="0.12" >0.2</text>
<text transform="translate(41.20,260.40) scale(1,1)" font-size="5.4" text-anchor="end" fill="#333" stroke="#333" stroke-width="0.12" >0.1</text>
<text transform="translate(41.20,275.40) scale(1,1)" font-size="5.4" text-anchor="end" fill="#333" stroke="#333" stroke-width="0.12" >0.0</text>
<text transform="translate(41.20,290.40) scale(1,1)" font-size="5.4" text-anchor="end" fill="#333" stroke="#333" stroke-width="0.12" >-0.1</text>
<text transform="translate(99.80,310.50) scale(1,1)" font-size="6.7" text-anchor="middle" fill="#222" stroke="#222" stroke-width="0.12" >The expression of FUT2</text>
<text transform="translate(99.80,316.90) scale(1,1)" font-size="6.7" text-anchor="middle" fill="#222" stroke="#222" stroke-width="0.12">Log<tspan font-size="4.8" dx="0.3" dy="1.7">2</tspan><tspan dy="-1.7"> (TPM+1)</tspan></text>
<text transform="translate(27.50,240.85) rotate(-90) scale(1,1)" font-size="6.6" text-anchor="middle" fill="#222" stroke="#222" stroke-width="0.12" >Enrichment of Th17 cells</text>
<text transform="translate(181.60,179.20) scale(1,1)" font-size="7.2" text-anchor="middle" fill="#222" stroke="#222" stroke-width="0.35" >D</text>
<text transform="translate(318.30,199.90) scale(1,1)" font-size="5.7" text-anchor="end" fill="#4f58a8" stroke="#4f58a8" stroke-width="0.15" >Spearman</text>
<text transform="translate(318.30,208.60) scale(1,1)" font-size="5.7" text-anchor="end" fill="#4f58a8" stroke="#4f58a8" stroke-width="0.15" >r =−0.192</text>
<text transform="translate(318.30,216.30) scale(1,1)" font-size="5.7" text-anchor="end" fill="#4f58a8" stroke="#4f58a8" stroke-width="0.15" >P &lt; 0.001</text>
<text transform="translate(238.90,304.00) scale(1,1)" font-size="5.4" text-anchor="middle" fill="#333" stroke="#333" stroke-width="0.12" >2</text>
<text transform="translate(265.60,304.00) scale(1,1)" font-size="5.4" text-anchor="middle" fill="#333" stroke="#333" stroke-width="0.12" >4</text>
<text transform="translate(292.30,304.00) scale(1,1)" font-size="5.4" text-anchor="middle" fill="#333" stroke="#333" stroke-width="0.12" >6</text>
<text transform="translate(319.00,304.00) scale(1,1)" font-size="5.4" text-anchor="middle" fill="#333" stroke="#333" stroke-width="0.12" >8</text>
<text transform="translate(210.80,198.90) scale(1,1)" font-size="5.4" text-anchor="end" fill="#333" stroke="#333" stroke-width="0.12" >0.70</text>
<text transform="translate(210.80,230.90) scale(1,1)" font-size="5.4" text-anchor="end" fill="#333" stroke="#333" stroke-width="0.12" >0.65</text>
<text transform="translate(210.80,262.90) scale(1,1)" font-size="5.4" text-anchor="end" fill="#333" stroke="#333" stroke-width="0.12" >0.60</text>
<text transform="translate(210.80,294.90) scale(1,1)" font-size="5.4" text-anchor="end" fill="#333" stroke="#333" stroke-width="0.12" >0.55</text>
<text transform="translate(268.70,313.30) scale(1,1)" font-size="6.7" text-anchor="middle" fill="#222" stroke="#222" stroke-width="0.12" >The expression of FUT2</text>
<text transform="translate(268.70,319.70) scale(1,1)" font-size="6.7" text-anchor="middle" fill="#222" stroke="#222" stroke-width="0.12">Log<tspan font-size="4.8" dx="0.3" dy="1.7">2</tspan><tspan dy="-1.7"> (TPM+1)</tspan></text>
<text transform="translate(196.00,243.65) rotate(-90) scale(1,1)" font-size="6.6" text-anchor="middle" fill="#222" stroke="#222" stroke-width="0.12" >Enrichment of T helper cells</text>
<text transform="translate(350.60,180.50) scale(1,1)" font-size="7.2" text-anchor="middle" fill="#222" stroke="#222" stroke-width="0.35" >E</text>
<text transform="translate(485.60,202.30) scale(1,1)" font-size="5.7" text-anchor="end" fill="#4f58a8" stroke="#4f58a8" stroke-width="0.15" >Spearman</text>
<text transform="translate(485.60,211.00) scale(1,1)" font-size="5.7" text-anchor="end" fill="#4f58a8" stroke="#4f58a8" stroke-width="0.15" >r =−0.173</text>
<text transform="translate(485.60,218.70) scale(1,1)" font-size="5.7" text-anchor="end" fill="#4f58a8" stroke="#4f58a8" stroke-width="0.15" >P &lt; 0.001</text>
<text transform="translate(405.60,306.30) scale(1,1)" font-size="5.4" text-anchor="middle" fill="#333" stroke="#333" stroke-width="0.12" >2</text>
<text transform="translate(432.56,306.30) scale(1,1)" font-size="5.4" text-anchor="middle" fill="#333" stroke="#333" stroke-width="0.12" >4</text>
<text transform="translate(459.52,306.30) scale(1,1)" font-size="5.4" text-anchor="middle" fill="#333" stroke="#333" stroke-width="0.12" >6</text>
<text transform="translate(486.48,306.30) scale(1,1)" font-size="5.4" text-anchor="middle" fill="#333" stroke="#333" stroke-width="0.12" >8</text>
<text transform="translate(378.60,199.40) scale(1,1)" font-size="5.4" text-anchor="end" fill="#333" stroke="#333" stroke-width="0.12" >0.55</text>
<text transform="translate(378.60,216.05) scale(1,1)" font-size="5.4" text-anchor="end" fill="#333" stroke="#333" stroke-width="0.12" >0.50</text>
<text transform="translate(378.60,232.70) scale(1,1)" font-size="5.4" text-anchor="end" fill="#333" stroke="#333" stroke-width="0.12" >0.45</text>
<text transform="translate(378.60,249.35) scale(1,1)" font-size="5.4" text-anchor="end" fill="#333" stroke="#333" stroke-width="0.12" >0.40</text>
<text transform="translate(378.60,266.00) scale(1,1)" font-size="5.4" text-anchor="end" fill="#333" stroke="#333" stroke-width="0.12" >0.35</text>
<text transform="translate(378.60,282.65) scale(1,1)" font-size="5.4" text-anchor="end" fill="#333" stroke="#333" stroke-width="0.12" >0.30</text>
<text transform="translate(378.60,299.30) scale(1,1)" font-size="5.4" text-anchor="end" fill="#333" stroke="#333" stroke-width="0.12" >0.25</text>
<text transform="translate(436.45,315.60) scale(1,1)" font-size="6.7" text-anchor="middle" fill="#222" stroke="#222" stroke-width="0.12" >The expression of FUT2</text>
<text transform="translate(436.45,322.00) scale(1,1)" font-size="6.7" text-anchor="middle" fill="#222" stroke="#222" stroke-width="0.12">Log<tspan font-size="4.8" dx="0.3" dy="1.7">2</tspan><tspan dy="-1.7"> (TPM+1)</tspan></text>
<text transform="translate(363.60,245.95) rotate(-90) scale(1,1)" font-size="6.6" text-anchor="middle" fill="#222" stroke="#222" stroke-width="0.12" >Enrichment of Th1 cells</text>
<text transform="translate(6.50,343.30) scale(1,1)" font-size="7.2" text-anchor="middle" fill="#222" stroke="#222" stroke-width="0.35" >F</text>
<text transform="translate(149.50,352.30) scale(1,1)" font-size="5.7" text-anchor="end" fill="#4f58a8" stroke="#4f58a8" stroke-width="0.15" >Spearman</text>
<text transform="translate(149.50,361.40) scale(1,1)" font-size="5.7" text-anchor="end" fill="#4f58a8" stroke="#4f58a8" stroke-width="0.15" >r =−0.155</text>
<text transform="translate(149.50,369.60) scale(1,1)" font-size="5.7" text-anchor="end" fill="#4f58a8" stroke="#4f58a8" stroke-width="0.15" >P &lt; 0.001</text>
<text transform="translate(66.90,457.50) scale(1,1)" font-size="5.4" text-anchor="middle" fill="#333" stroke="#333" stroke-width="0.12" >2</text>
<text transform="translate(94.60,457.50) scale(1,1)" font-size="5.4" text-anchor="middle" fill="#333" stroke="#333" stroke-width="0.12" >4</text>
<text transform="translate(122.30,457.50) scale(1,1)" font-size="5.4" text-anchor="middle" fill="#333" stroke="#333" stroke-width="0.12" >6</text>
<text transform="translate(150.00,457.50) scale(1,1)" font-size="5.4" text-anchor="middle" fill="#333" stroke="#333" stroke-width="0.12" >8</text>
<text transform="translate(38.90,368.00) scale(1,1)" font-size="5.4" text-anchor="end" fill="#333" stroke="#333" stroke-width="0.12" >0.6</text>
<text transform="translate(38.90,394.80) scale(1,1)" font-size="5.4" text-anchor="end" fill="#333" stroke="#333" stroke-width="0.12" >0.4</text>
<text transform="translate(38.90,421.60) scale(1,1)" font-size="5.4" text-anchor="end" fill="#333" stroke="#333" stroke-width="0.12" >0.2</text>
<text transform="translate(38.90,448.40) scale(1,1)" font-size="5.4" text-anchor="end" fill="#333" stroke="#333" stroke-width="0.12" >0.0</text>
<text transform="translate(98.40,466.80) scale(1,1)" font-size="6.7" text-anchor="middle" fill="#222" stroke="#222" stroke-width="0.12" >The expression of FUT2</text>
<text transform="translate(98.40,473.20) scale(1,1)" font-size="6.7" text-anchor="middle" fill="#222" stroke="#222" stroke-width="0.12">Log<tspan font-size="4.8" dx="0.3" dy="1.7">2</tspan><tspan dy="-1.7"> (TPM+1)</tspan></text>
<text transform="translate(27.00,396.60) rotate(-90) scale(1,1)" font-size="6.6" text-anchor="middle" fill="#222" stroke="#222" stroke-width="0.12" >Enrichment of DC</text>
<text transform="translate(181.70,344.70) scale(1,1)" font-size="7.2" text-anchor="middle" fill="#222" stroke="#222" stroke-width="0.35" >G</text>
<text transform="translate(317.90,353.10) scale(1,1)" font-size="5.7" text-anchor="end" fill="#4f58a8" stroke="#4f58a8" stroke-width="0.15" >Spearman</text>
<text transform="translate(317.90,361.80) scale(1,1)" font-size="5.7" text-anchor="end" fill="#4f58a8" stroke="#4f58a8" stroke-width="0.15" >r =−0.151</text>
<text transform="translate(317.90,369.60) scale(1,1)" font-size="5.7" text-anchor="end" fill="#4f58a8" stroke="#4f58a8" stroke-width="0.15" >P &lt; 0.001</text>
<text transform="translate(235.50,457.70) scale(1,1)" font-size="5.4" text-anchor="middle" fill="#333" stroke="#333" stroke-width="0.12" >2</text>
<text transform="translate(263.10,457.70) scale(1,1)" font-size="5.4" text-anchor="middle" fill="#333" stroke="#333" stroke-width="0.12" >4</text>
<text transform="translate(290.70,457.70) scale(1,1)" font-size="5.4" text-anchor="middle" fill="#333" stroke="#333" stroke-width="0.12" >6</text>
<text transform="translate(318.30,457.70) scale(1,1)" font-size="5.4" text-anchor="middle" fill="#333" stroke="#333" stroke-width="0.12" >8</text>
<text transform="translate(207.60,363.60) scale(1,1)" font-size="5.4" text-anchor="end" fill="#333" stroke="#333" stroke-width="0.12" >0.6</text>
<text transform="translate(207.60,385.00) scale(1,1)" font-size="5.4" text-anchor="end" fill="#333" stroke="#333" stroke-width="0.12" >0.5</text>
<text transform="translate(207.60,406.40) scale(1,1)" font-size="5.4" text-anchor="end" fill="#333" stroke="#333" stroke-width="0.12" >0.4</text>
<text transform="translate(207.60,427.80) scale(1,1)" font-size="5.4" text-anchor="end" fill="#333" stroke="#333" stroke-width="0.12" >0.3</text>
<text transform="translate(207.60,449.20) scale(1,1)" font-size="5.4" text-anchor="end" fill="#333" stroke="#333" stroke-width="0.12" >0.2</text>
<text transform="translate(267.00,467.00) scale(1,1)" font-size="6.7" text-anchor="middle" fill="#222" stroke="#222" stroke-width="0.12" >The expression of FUT2</text>
<text transform="translate(267.00,473.40) scale(1,1)" font-size="6.7" text-anchor="middle" fill="#222" stroke="#222" stroke-width="0.12">Log<tspan font-size="4.8" dx="0.3" dy="1.7">2</tspan><tspan dy="-1.7"> (TPM+1)</tspan></text>
<text transform="translate(195.50,396.85) rotate(-90) scale(1,1)" font-size="6.6" text-anchor="middle" fill="#222" stroke="#222" stroke-width="0.12" >Enrichment of Cytotoxic cells</text>
<text transform="translate(350.40,346.10) scale(1,1)" font-size="7.2" text-anchor="middle" fill="#222" stroke="#222" stroke-width="0.35" >H</text>
<text transform="translate(487.40,359.30) scale(1,1)" font-size="5.7" text-anchor="end" fill="#4f58a8" stroke="#4f58a8" stroke-width="0.15" >Spearman</text>
<text transform="translate(487.40,368.00) scale(1,1)" font-size="5.7" text-anchor="end" fill="#4f58a8" stroke="#4f58a8" stroke-width="0.15" >r =−0.130</text>
<text transform="translate(487.40,375.80) scale(1,1)" font-size="5.7" text-anchor="end" fill="#4f58a8" stroke="#4f58a8" stroke-width="0.15" >P = 0.003</text>
<text transform="translate(404.80,462.90) scale(1,1)" font-size="5.4" text-anchor="middle" fill="#333" stroke="#333" stroke-width="0.12" >2</text>
<text transform="translate(432.40,462.90) scale(1,1)" font-size="5.4" text-anchor="middle" fill="#333" stroke="#333" stroke-width="0.12" >4</text>
<text transform="translate(460.00,462.90) scale(1,1)" font-size="5.4" text-anchor="middle" fill="#333" stroke="#333" stroke-width="0.12" >6</text>
<text transform="translate(487.60,462.90) scale(1,1)" font-size="5.4" text-anchor="middle" fill="#333" stroke="#333" stroke-width="0.12" >8</text>
<text transform="translate(376.50,353.00) scale(1,1)" font-size="5.4" text-anchor="end" fill="#333" stroke="#333" stroke-width="0.12" >0.7</text>
<text transform="translate(376.50,368.85) scale(1,1)" font-size="5.4" text-anchor="end" fill="#333" stroke="#333" stroke-width="0.12" >0.6</text>
<text transform="translate(376.50,384.70) scale(1,1)" font-size="5.4" text-anchor="end" fill="#333" stroke="#333" stroke-width="0.12" >0.5</text>
<text transform="translate(376.50,400.55) scale(1,1)" font-size="5.4" text-anchor="end" fill="#333" stroke="#333" stroke-width="0.12" >0.4</text>
<text transform="translate(376.50,416.40) scale(1,1)" font-size="5.4" text-anchor="end" fill="#333" stroke="#333" stroke-width="0.12" >0.3</text>
<text transform="translate(376.50,432.25) scale(1,1)" font-size="5.4" text-anchor="end" fill="#333" stroke="#333" stroke-width="0.12" >0.2</text>
<text transform="translate(376.50,448.10) scale(1,1)" font-size="5.4" text-anchor="end" fill="#333" stroke="#333" stroke-width="0.12" >0.1</text>
<text transform="translate(435.85,472.20) scale(1,1)" font-size="6.7" text-anchor="middle" fill="#222" stroke="#222" stroke-width="0.12" >The expression of FUT2</text>
<text transform="translate(435.85,478.60) scale(1,1)" font-size="6.7" text-anchor="middle" fill="#222" stroke="#222" stroke-width="0.12">Log<tspan font-size="4.8" dx="0.3" dy="1.7">2</tspan><tspan dy="-1.7"> (TPM+1)</tspan></text>
<text transform="translate(364.60,401.90) rotate(-90) scale(1,1)" font-size="6.6" text-anchor="middle" fill="#222" stroke="#222" stroke-width="0.12" >Enrichment of T cells</text>
</g>
</svg></body></html>
